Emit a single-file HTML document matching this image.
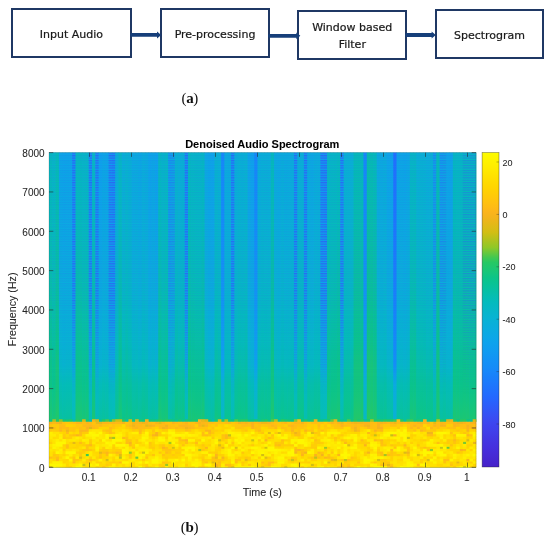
<!DOCTYPE html>
<html><head><meta charset="utf-8"><title>Figure</title>
<style>
html,body{margin:0;padding:0;background:#fff;}
body{width:550px;height:540px;position:relative;overflow:hidden;}
.bx{position:absolute;border:2px solid #1f3864;background:#fff;display:flex;align-items:center;justify-content:center;text-align:center;
font-family:"Liberation Sans",Arial,sans-serif;font-size:12px;line-height:16.4px;color:#222;}
.lab{position:absolute;font-family:"Liberation Serif","Times New Roman",serif;font-size:15px;color:#111;line-height:1;letter-spacing:-0.35px;}
.lab b{font-weight:bold;}
</style></head><body>
<div class="bx" style="left:11px;top:8px;width:117px;height:46px"></div><div class="bx" style="left:160px;top:8px;width:106px;height:46px"></div><div class="bx" style="left:297px;top:10px;width:106px;height:46px"></div><div class="bx" style="left:435px;top:9px;width:105px;height:46px"></div>
<svg width="550" height="70" style="position:absolute;left:0;top:0"><path d="M132.0 34.9H157.5" stroke="#163f7a" stroke-width="3.8" stroke-linecap="round"/><path d="M157.0 31.4L161.2 34.9L157.0 38.4z" fill="#163f7a"/><path d="M270.0 35.8H296.8" stroke="#163f7a" stroke-width="3.8" stroke-linecap="round"/><path d="M296.3 32.4L300.3 35.8L296.3 39.2z" fill="#163f7a"/><path d="M407.0 35.0H432.1" stroke="#163f7a" stroke-width="3.8" stroke-linecap="round"/><path d="M431.6 31.4L435.8 35.0L431.6 38.6z" fill="#163f7a"/><text x="71.40" y="38.20" font-family="DejaVu Sans, Liberation Sans, sans-serif" font-size="11" fill="#1a1a1a" stroke="#1a1a1a" stroke-width="0.22" text-anchor="middle">Input Audio</text><text x="215.00" y="38.00" font-family="DejaVu Sans, Liberation Sans, sans-serif" font-size="11" fill="#1a1a1a" stroke="#1a1a1a" stroke-width="0.22" text-anchor="middle">Pre-processing</text><text x="352.20" y="31.30" font-family="DejaVu Sans, Liberation Sans, sans-serif" font-size="11" fill="#1a1a1a" stroke="#1a1a1a" stroke-width="0.22" text-anchor="middle">Window based</text><text x="352.30" y="47.70" font-family="DejaVu Sans, Liberation Sans, sans-serif" font-size="11" fill="#1a1a1a" stroke="#1a1a1a" stroke-width="0.22" text-anchor="middle">Filter</text><text x="489.50" y="38.60" font-family="DejaVu Sans, Liberation Sans, sans-serif" font-size="11" fill="#1a1a1a" stroke="#1a1a1a" stroke-width="0.22" text-anchor="middle">Spectrogram</text></svg>
<div class="lab" style="left:181.5px;top:91px">(<b>a</b>)</div>
<svg width="550" height="540" viewBox="0 0 550 540" style="position:absolute;left:0;top:0"><defs><linearGradient id="g0" x2="0" y2="1"><stop offset="0.00" stop-color="#05babe"/><stop offset="0.22" stop-color="#04bcb8"/><stop offset="0.44" stop-color="#06bfac"/><stop offset="0.58" stop-color="#07c1a0"/><stop offset="0.70" stop-color="#09c295"/><stop offset="0.79" stop-color="#0dc488"/><stop offset="0.86" stop-color="#0fc585"/><stop offset="0.92" stop-color="#14c57e"/><stop offset="0.96" stop-color="#19c676"/><stop offset="0.99" stop-color="#1dc770"/><stop offset="1.00" stop-color="#1ec76e"/></linearGradient><linearGradient id="g1" x2="0" y2="1"><stop offset="0.00" stop-color="#06b8c5"/><stop offset="0.22" stop-color="#05babf"/><stop offset="0.44" stop-color="#05bdb5"/><stop offset="0.58" stop-color="#06bfaa"/><stop offset="0.70" stop-color="#07c19f"/><stop offset="0.79" stop-color="#09c392"/><stop offset="0.86" stop-color="#0ac48c"/><stop offset="0.92" stop-color="#0fc584"/><stop offset="0.96" stop-color="#15c57c"/><stop offset="0.99" stop-color="#19c676"/><stop offset="1.00" stop-color="#1ac674"/></linearGradient><linearGradient id="g2" x2="0" y2="1"><stop offset="0.00" stop-color="#04bdb7"/><stop offset="0.22" stop-color="#06beae"/><stop offset="0.44" stop-color="#07c0a2"/><stop offset="0.58" stop-color="#09c296"/><stop offset="0.70" stop-color="#0ac48c"/><stop offset="0.79" stop-color="#14c57d"/><stop offset="0.86" stop-color="#14c57e"/><stop offset="0.92" stop-color="#18c677"/><stop offset="0.96" stop-color="#1dc770"/><stop offset="0.99" stop-color="#21c76a"/><stop offset="1.00" stop-color="#23c768"/></linearGradient><linearGradient id="g3" x2="0" y2="1"><stop offset="0.00" stop-color="#0ca7e7"/><stop offset="0.22" stop-color="#0ba9e3"/><stop offset="0.44" stop-color="#0aacdd"/><stop offset="0.58" stop-color="#09b0d8"/><stop offset="0.70" stop-color="#08b3d3"/><stop offset="0.79" stop-color="#06b6ca"/><stop offset="0.86" stop-color="#05bdb6"/><stop offset="0.92" stop-color="#06beac"/><stop offset="0.96" stop-color="#07c0a5"/><stop offset="0.99" stop-color="#07c19f"/><stop offset="1.00" stop-color="#08c19d"/></linearGradient><linearGradient id="g4" x2="0" y2="1"><stop offset="0.00" stop-color="#0da5e9"/><stop offset="0.22" stop-color="#0ca7e5"/><stop offset="0.44" stop-color="#0babe0"/><stop offset="0.58" stop-color="#09aeda"/><stop offset="0.70" stop-color="#08b1d6"/><stop offset="0.79" stop-color="#07b4ce"/><stop offset="0.86" stop-color="#04bcb9"/><stop offset="0.92" stop-color="#05beaf"/><stop offset="0.96" stop-color="#06bfa8"/><stop offset="0.99" stop-color="#07c0a3"/><stop offset="1.00" stop-color="#07c0a1"/></linearGradient><linearGradient id="g5" x2="0" y2="1"><stop offset="0.00" stop-color="#0ca6e7"/><stop offset="0.22" stop-color="#0ca8e4"/><stop offset="0.44" stop-color="#0aacde"/><stop offset="0.58" stop-color="#09afd9"/><stop offset="0.70" stop-color="#08b2d4"/><stop offset="0.79" stop-color="#07b5cb"/><stop offset="0.86" stop-color="#04bdb7"/><stop offset="0.92" stop-color="#06bead"/><stop offset="0.96" stop-color="#07c0a6"/><stop offset="0.99" stop-color="#07c0a0"/><stop offset="1.00" stop-color="#08c19f"/></linearGradient><linearGradient id="g6" x2="0" y2="1"><stop offset="0.00" stop-color="#0da6e8"/><stop offset="0.22" stop-color="#0ca8e4"/><stop offset="0.44" stop-color="#0aacde"/><stop offset="0.58" stop-color="#09afd9"/><stop offset="0.70" stop-color="#08b2d4"/><stop offset="0.79" stop-color="#07b5cb"/><stop offset="0.86" stop-color="#04bdb7"/><stop offset="0.92" stop-color="#06bead"/><stop offset="0.96" stop-color="#07c0a6"/><stop offset="0.99" stop-color="#07c0a0"/><stop offset="1.00" stop-color="#08c19f"/></linearGradient><linearGradient id="g7" x2="0" y2="1"><stop offset="0.00" stop-color="#1198f3"/><stop offset="0.22" stop-color="#109cf1"/><stop offset="0.44" stop-color="#0ea1ee"/><stop offset="0.58" stop-color="#0da5e9"/><stop offset="0.70" stop-color="#0ca8e5"/><stop offset="0.79" stop-color="#0aabdf"/><stop offset="0.86" stop-color="#06b7c7"/><stop offset="0.92" stop-color="#05bac0"/><stop offset="0.96" stop-color="#04bcbb"/><stop offset="0.99" stop-color="#04bdb7"/><stop offset="1.00" stop-color="#05bdb5"/></linearGradient><linearGradient id="g8" x2="0" y2="1"><stop offset="0.00" stop-color="#05bac0"/><stop offset="0.22" stop-color="#04bcbb"/><stop offset="0.44" stop-color="#05beaf"/><stop offset="0.58" stop-color="#07c0a3"/><stop offset="0.70" stop-color="#08c298"/><stop offset="0.79" stop-color="#0ac48b"/><stop offset="0.86" stop-color="#0dc487"/><stop offset="0.92" stop-color="#12c580"/><stop offset="0.96" stop-color="#18c678"/><stop offset="0.99" stop-color="#1cc672"/><stop offset="1.00" stop-color="#1dc770"/></linearGradient><linearGradient id="g9" x2="0" y2="1"><stop offset="0.00" stop-color="#05b9c2"/><stop offset="0.22" stop-color="#04bbbc"/><stop offset="0.44" stop-color="#05beb1"/><stop offset="0.58" stop-color="#07c0a5"/><stop offset="0.70" stop-color="#08c29a"/><stop offset="0.79" stop-color="#0ac48d"/><stop offset="0.86" stop-color="#0dc488"/><stop offset="0.92" stop-color="#12c581"/><stop offset="0.96" stop-color="#17c679"/><stop offset="0.99" stop-color="#1bc673"/><stop offset="1.00" stop-color="#1cc671"/></linearGradient><linearGradient id="g10" x2="0" y2="1"><stop offset="0.00" stop-color="#06b8c5"/><stop offset="0.22" stop-color="#05bac0"/><stop offset="0.44" stop-color="#04bdb6"/><stop offset="0.58" stop-color="#06bfab"/><stop offset="0.70" stop-color="#07c1a0"/><stop offset="0.79" stop-color="#09c393"/><stop offset="0.86" stop-color="#0ac48c"/><stop offset="0.92" stop-color="#0fc585"/><stop offset="0.96" stop-color="#14c57d"/><stop offset="0.99" stop-color="#18c677"/><stop offset="1.00" stop-color="#1ac675"/></linearGradient><linearGradient id="g11" x2="0" y2="1"><stop offset="0.00" stop-color="#06b8c4"/><stop offset="0.22" stop-color="#05babe"/><stop offset="0.44" stop-color="#05bdb4"/><stop offset="0.58" stop-color="#06bfa9"/><stop offset="0.70" stop-color="#08c19e"/><stop offset="0.79" stop-color="#09c391"/><stop offset="0.86" stop-color="#0bc48b"/><stop offset="0.92" stop-color="#10c583"/><stop offset="0.96" stop-color="#15c67b"/><stop offset="0.99" stop-color="#19c676"/><stop offset="1.00" stop-color="#1bc674"/></linearGradient><linearGradient id="g12" x2="0" y2="1"><stop offset="0.00" stop-color="#109df1"/><stop offset="0.22" stop-color="#0ea0ef"/><stop offset="0.44" stop-color="#0da5ea"/><stop offset="0.58" stop-color="#0ca8e5"/><stop offset="0.70" stop-color="#0babe0"/><stop offset="0.79" stop-color="#09aeda"/><stop offset="0.86" stop-color="#05b9c3"/><stop offset="0.92" stop-color="#04bbbc"/><stop offset="0.96" stop-color="#05bdb6"/><stop offset="0.99" stop-color="#05beb0"/><stop offset="1.00" stop-color="#06beae"/></linearGradient><linearGradient id="g13" x2="0" y2="1"><stop offset="0.00" stop-color="#06b8c4"/><stop offset="0.22" stop-color="#05babe"/><stop offset="0.44" stop-color="#05bdb4"/><stop offset="0.58" stop-color="#06bfa9"/><stop offset="0.70" stop-color="#08c19e"/><stop offset="0.79" stop-color="#09c391"/><stop offset="0.86" stop-color="#0bc48b"/><stop offset="0.92" stop-color="#10c583"/><stop offset="0.96" stop-color="#15c57c"/><stop offset="0.99" stop-color="#19c676"/><stop offset="1.00" stop-color="#1ac674"/></linearGradient><linearGradient id="g14" x2="0" y2="1"><stop offset="0.00" stop-color="#109bf1"/><stop offset="0.22" stop-color="#0f9fef"/><stop offset="0.44" stop-color="#0da4eb"/><stop offset="0.58" stop-color="#0ca7e6"/><stop offset="0.70" stop-color="#0baae1"/><stop offset="0.79" stop-color="#0aaddc"/><stop offset="0.86" stop-color="#06b8c4"/><stop offset="0.92" stop-color="#04bbbd"/><stop offset="0.96" stop-color="#04bcb8"/><stop offset="0.99" stop-color="#05bdb2"/><stop offset="1.00" stop-color="#05beb1"/></linearGradient><linearGradient id="g15" x2="0" y2="1"><stop offset="0.00" stop-color="#0da4eb"/><stop offset="0.22" stop-color="#0ca7e7"/><stop offset="0.44" stop-color="#0baae1"/><stop offset="0.58" stop-color="#0aaddc"/><stop offset="0.70" stop-color="#09b0d7"/><stop offset="0.79" stop-color="#07b4d0"/><stop offset="0.86" stop-color="#04bcbb"/><stop offset="0.92" stop-color="#05beb1"/><stop offset="0.96" stop-color="#06bfaa"/><stop offset="0.99" stop-color="#07c0a4"/><stop offset="1.00" stop-color="#07c0a3"/></linearGradient><linearGradient id="g16" x2="0" y2="1"><stop offset="0.00" stop-color="#0ca7e6"/><stop offset="0.22" stop-color="#0ba9e2"/><stop offset="0.44" stop-color="#0aaddd"/><stop offset="0.58" stop-color="#09b0d8"/><stop offset="0.70" stop-color="#08b3d2"/><stop offset="0.79" stop-color="#06b6ca"/><stop offset="0.86" stop-color="#05bdb5"/><stop offset="0.92" stop-color="#06bfab"/><stop offset="0.96" stop-color="#07c0a4"/><stop offset="0.99" stop-color="#08c19f"/><stop offset="1.00" stop-color="#08c19d"/></linearGradient><linearGradient id="g17" x2="0" y2="1"><stop offset="0.00" stop-color="#0ca6e7"/><stop offset="0.22" stop-color="#0ca9e3"/><stop offset="0.44" stop-color="#0aacde"/><stop offset="0.58" stop-color="#09afd9"/><stop offset="0.70" stop-color="#08b2d4"/><stop offset="0.79" stop-color="#07b5cb"/><stop offset="0.86" stop-color="#04bdb6"/><stop offset="0.92" stop-color="#06bead"/><stop offset="0.96" stop-color="#07c0a5"/><stop offset="0.99" stop-color="#07c1a0"/><stop offset="1.00" stop-color="#08c19e"/></linearGradient><linearGradient id="g18" x2="0" y2="1"><stop offset="0.00" stop-color="#109cf1"/><stop offset="0.22" stop-color="#0fa0ef"/><stop offset="0.44" stop-color="#0da4ea"/><stop offset="0.58" stop-color="#0ca7e5"/><stop offset="0.70" stop-color="#0baae0"/><stop offset="0.79" stop-color="#09aeda"/><stop offset="0.86" stop-color="#05b8c3"/><stop offset="0.92" stop-color="#04bbbc"/><stop offset="0.96" stop-color="#04bdb6"/><stop offset="0.99" stop-color="#05beb1"/><stop offset="1.00" stop-color="#05beaf"/></linearGradient><linearGradient id="g19" x2="0" y2="1"><stop offset="0.00" stop-color="#1198f2"/><stop offset="0.22" stop-color="#109cf1"/><stop offset="0.44" stop-color="#0ea2ee"/><stop offset="0.58" stop-color="#0da5e9"/><stop offset="0.70" stop-color="#0ca8e4"/><stop offset="0.79" stop-color="#0aacde"/><stop offset="0.86" stop-color="#06b7c7"/><stop offset="0.92" stop-color="#05babf"/><stop offset="0.96" stop-color="#04bcbb"/><stop offset="0.99" stop-color="#05bdb6"/><stop offset="1.00" stop-color="#05bdb4"/></linearGradient><linearGradient id="g20" x2="0" y2="1"><stop offset="0.00" stop-color="#09afda"/><stop offset="0.22" stop-color="#08b1d6"/><stop offset="0.44" stop-color="#07b4ce"/><stop offset="0.58" stop-color="#06b7c7"/><stop offset="0.70" stop-color="#05bac0"/><stop offset="0.79" stop-color="#04bdb6"/><stop offset="0.86" stop-color="#07c0a3"/><stop offset="0.92" stop-color="#08c19b"/><stop offset="0.96" stop-color="#09c393"/><stop offset="0.99" stop-color="#0ac48e"/><stop offset="1.00" stop-color="#0ac48c"/></linearGradient><linearGradient id="g21" x2="0" y2="1"><stop offset="0.00" stop-color="#05b9c3"/><stop offset="0.22" stop-color="#05bbbd"/><stop offset="0.44" stop-color="#05bdb3"/><stop offset="0.58" stop-color="#06bfa7"/><stop offset="0.70" stop-color="#08c19c"/><stop offset="0.79" stop-color="#0ac38f"/><stop offset="0.86" stop-color="#0cc48a"/><stop offset="0.92" stop-color="#11c582"/><stop offset="0.96" stop-color="#16c67a"/><stop offset="0.99" stop-color="#1ac675"/><stop offset="1.00" stop-color="#1bc673"/></linearGradient><linearGradient id="g22" x2="0" y2="1"><stop offset="0.00" stop-color="#08b1d6"/><stop offset="0.22" stop-color="#08b3d1"/><stop offset="0.44" stop-color="#06b6c9"/><stop offset="0.58" stop-color="#05b9c2"/><stop offset="0.70" stop-color="#04bcbb"/><stop offset="0.79" stop-color="#05beaf"/><stop offset="0.86" stop-color="#08c19e"/><stop offset="0.92" stop-color="#09c296"/><stop offset="0.96" stop-color="#0ac48f"/><stop offset="0.99" stop-color="#0cc489"/><stop offset="1.00" stop-color="#0dc487"/></linearGradient><linearGradient id="g23" x2="0" y2="1"><stop offset="0.00" stop-color="#07b4d0"/><stop offset="0.22" stop-color="#07b6ca"/><stop offset="0.44" stop-color="#05b9c2"/><stop offset="0.58" stop-color="#04bcbb"/><stop offset="0.70" stop-color="#05beb0"/><stop offset="0.79" stop-color="#07c0a3"/><stop offset="0.86" stop-color="#09c297"/><stop offset="0.92" stop-color="#0ac38f"/><stop offset="0.96" stop-color="#0dc488"/><stop offset="0.99" stop-color="#11c582"/><stop offset="1.00" stop-color="#12c580"/></linearGradient><linearGradient id="g24" x2="0" y2="1"><stop offset="0.00" stop-color="#08b1d5"/><stop offset="0.22" stop-color="#07b3d0"/><stop offset="0.44" stop-color="#06b6c8"/><stop offset="0.58" stop-color="#05b9c1"/><stop offset="0.70" stop-color="#04bcba"/><stop offset="0.79" stop-color="#06bead"/><stop offset="0.86" stop-color="#08c19d"/><stop offset="0.92" stop-color="#09c295"/><stop offset="0.96" stop-color="#0ac48e"/><stop offset="0.99" stop-color="#0dc488"/><stop offset="1.00" stop-color="#0ec586"/></linearGradient><linearGradient id="g25" x2="0" y2="1"><stop offset="0.00" stop-color="#0babe0"/><stop offset="0.22" stop-color="#0aaddc"/><stop offset="0.44" stop-color="#09b0d7"/><stop offset="0.58" stop-color="#07b3d0"/><stop offset="0.70" stop-color="#06b6c9"/><stop offset="0.79" stop-color="#05b9c1"/><stop offset="0.86" stop-color="#06beac"/><stop offset="0.92" stop-color="#07c0a3"/><stop offset="0.96" stop-color="#08c19c"/><stop offset="0.99" stop-color="#09c297"/><stop offset="1.00" stop-color="#09c295"/></linearGradient><linearGradient id="g26" x2="0" y2="1"><stop offset="0.00" stop-color="#0aacde"/><stop offset="0.22" stop-color="#09aeda"/><stop offset="0.44" stop-color="#08b2d4"/><stop offset="0.58" stop-color="#07b5cd"/><stop offset="0.70" stop-color="#06b7c6"/><stop offset="0.79" stop-color="#05bbbe"/><stop offset="0.86" stop-color="#06bfa9"/><stop offset="0.92" stop-color="#07c0a0"/><stop offset="0.96" stop-color="#08c299"/><stop offset="0.99" stop-color="#09c394"/><stop offset="1.00" stop-color="#09c392"/></linearGradient><linearGradient id="g27" x2="0" y2="1"><stop offset="0.00" stop-color="#0ba9e2"/><stop offset="0.22" stop-color="#0aacde"/><stop offset="0.44" stop-color="#09afd8"/><stop offset="0.58" stop-color="#08b2d3"/><stop offset="0.70" stop-color="#07b5cc"/><stop offset="0.79" stop-color="#05b8c3"/><stop offset="0.86" stop-color="#05beaf"/><stop offset="0.92" stop-color="#07c0a5"/><stop offset="0.96" stop-color="#08c19e"/><stop offset="0.99" stop-color="#08c299"/><stop offset="1.00" stop-color="#09c297"/></linearGradient><linearGradient id="g28" x2="0" y2="1"><stop offset="0.00" stop-color="#0aaedb"/><stop offset="0.22" stop-color="#09b0d7"/><stop offset="0.44" stop-color="#07b3d0"/><stop offset="0.58" stop-color="#06b6c9"/><stop offset="0.70" stop-color="#05b9c2"/><stop offset="0.79" stop-color="#04bcb9"/><stop offset="0.86" stop-color="#07c0a5"/><stop offset="0.92" stop-color="#08c19c"/><stop offset="0.96" stop-color="#09c295"/><stop offset="0.99" stop-color="#0ac390"/><stop offset="1.00" stop-color="#0ac48e"/></linearGradient><linearGradient id="g29" x2="0" y2="1"><stop offset="0.00" stop-color="#0aacde"/><stop offset="0.22" stop-color="#09aeda"/><stop offset="0.44" stop-color="#08b2d4"/><stop offset="0.58" stop-color="#07b5cd"/><stop offset="0.70" stop-color="#06b7c6"/><stop offset="0.79" stop-color="#05bbbe"/><stop offset="0.86" stop-color="#06bfa9"/><stop offset="0.92" stop-color="#07c0a0"/><stop offset="0.96" stop-color="#08c299"/><stop offset="0.99" stop-color="#09c394"/><stop offset="1.00" stop-color="#09c392"/></linearGradient><linearGradient id="g30" x2="0" y2="1"><stop offset="0.00" stop-color="#0da5e9"/><stop offset="0.22" stop-color="#0ca7e5"/><stop offset="0.44" stop-color="#0babe0"/><stop offset="0.58" stop-color="#09aeda"/><stop offset="0.70" stop-color="#08b1d5"/><stop offset="0.79" stop-color="#07b4ce"/><stop offset="0.86" stop-color="#04bcb9"/><stop offset="0.92" stop-color="#05beaf"/><stop offset="0.96" stop-color="#06bfa8"/><stop offset="0.99" stop-color="#07c0a2"/><stop offset="1.00" stop-color="#07c0a1"/></linearGradient><linearGradient id="g31" x2="0" y2="1"><stop offset="0.00" stop-color="#0ca7e5"/><stop offset="0.22" stop-color="#0baae1"/><stop offset="0.44" stop-color="#0aaddc"/><stop offset="0.58" stop-color="#09b0d7"/><stop offset="0.70" stop-color="#07b3d1"/><stop offset="0.79" stop-color="#06b7c8"/><stop offset="0.86" stop-color="#05bdb4"/><stop offset="0.92" stop-color="#06bfaa"/><stop offset="0.96" stop-color="#07c0a3"/><stop offset="0.99" stop-color="#08c19d"/><stop offset="1.00" stop-color="#08c19c"/></linearGradient><linearGradient id="g32" x2="0" y2="1"><stop offset="0.00" stop-color="#0da4eb"/><stop offset="0.22" stop-color="#0ca6e7"/><stop offset="0.44" stop-color="#0baae1"/><stop offset="0.58" stop-color="#0aaddc"/><stop offset="0.70" stop-color="#09b0d7"/><stop offset="0.79" stop-color="#07b3d0"/><stop offset="0.86" stop-color="#04bcbb"/><stop offset="0.92" stop-color="#05bdb1"/><stop offset="0.96" stop-color="#06bfaa"/><stop offset="0.99" stop-color="#07c0a5"/><stop offset="1.00" stop-color="#07c0a3"/></linearGradient><linearGradient id="g33" x2="0" y2="1"><stop offset="0.00" stop-color="#05b9c2"/><stop offset="0.22" stop-color="#04bbbc"/><stop offset="0.44" stop-color="#05beb1"/><stop offset="0.58" stop-color="#07c0a5"/><stop offset="0.70" stop-color="#08c19b"/><stop offset="0.79" stop-color="#0ac48e"/><stop offset="0.86" stop-color="#0cc488"/><stop offset="0.92" stop-color="#11c581"/><stop offset="0.96" stop-color="#17c679"/><stop offset="0.99" stop-color="#1bc673"/><stop offset="1.00" stop-color="#1cc671"/></linearGradient><linearGradient id="g34" x2="0" y2="1"><stop offset="0.00" stop-color="#06b6c9"/><stop offset="0.22" stop-color="#06b8c4"/><stop offset="0.44" stop-color="#04bbbc"/><stop offset="0.58" stop-color="#05beb1"/><stop offset="0.70" stop-color="#07bfa7"/><stop offset="0.79" stop-color="#08c29a"/><stop offset="0.86" stop-color="#09c390"/><stop offset="0.92" stop-color="#0cc489"/><stop offset="0.96" stop-color="#11c581"/><stop offset="0.99" stop-color="#15c67b"/><stop offset="1.00" stop-color="#17c679"/></linearGradient><linearGradient id="g35" x2="0" y2="1"><stop offset="0.00" stop-color="#06b8c5"/><stop offset="0.22" stop-color="#05bac0"/><stop offset="0.44" stop-color="#04bdb6"/><stop offset="0.58" stop-color="#06bfab"/><stop offset="0.70" stop-color="#07c1a0"/><stop offset="0.79" stop-color="#09c393"/><stop offset="0.86" stop-color="#0ac48c"/><stop offset="0.92" stop-color="#0fc585"/><stop offset="0.96" stop-color="#14c57d"/><stop offset="0.99" stop-color="#18c677"/><stop offset="1.00" stop-color="#1ac675"/></linearGradient><linearGradient id="g36" x2="0" y2="1"><stop offset="0.00" stop-color="#0da4ea"/><stop offset="0.22" stop-color="#0ca7e6"/><stop offset="0.44" stop-color="#0baae0"/><stop offset="0.58" stop-color="#0aaedb"/><stop offset="0.70" stop-color="#09b1d6"/><stop offset="0.79" stop-color="#07b4cf"/><stop offset="0.86" stop-color="#04bcba"/><stop offset="0.92" stop-color="#05beb0"/><stop offset="0.96" stop-color="#06bfa9"/><stop offset="0.99" stop-color="#07c0a4"/><stop offset="1.00" stop-color="#07c0a2"/></linearGradient><linearGradient id="g37" x2="0" y2="1"><stop offset="0.00" stop-color="#0ca8e4"/><stop offset="0.22" stop-color="#0baae1"/><stop offset="0.44" stop-color="#0aaedb"/><stop offset="0.58" stop-color="#08b1d6"/><stop offset="0.70" stop-color="#07b4d0"/><stop offset="0.79" stop-color="#06b7c7"/><stop offset="0.86" stop-color="#05bdb2"/><stop offset="0.92" stop-color="#06bfa9"/><stop offset="0.96" stop-color="#07c0a2"/><stop offset="0.99" stop-color="#08c19c"/><stop offset="1.00" stop-color="#08c19b"/></linearGradient><linearGradient id="g38" x2="0" y2="1"><stop offset="0.00" stop-color="#07b3d1"/><stop offset="0.22" stop-color="#07b5cb"/><stop offset="0.44" stop-color="#05b9c3"/><stop offset="0.58" stop-color="#04bbbc"/><stop offset="0.70" stop-color="#05bdb2"/><stop offset="0.79" stop-color="#07c0a5"/><stop offset="0.86" stop-color="#08c298"/><stop offset="0.92" stop-color="#09c390"/><stop offset="0.96" stop-color="#0cc488"/><stop offset="0.99" stop-color="#10c583"/><stop offset="1.00" stop-color="#12c581"/></linearGradient><linearGradient id="g39" x2="0" y2="1"><stop offset="0.00" stop-color="#08b1d6"/><stop offset="0.22" stop-color="#08b3d1"/><stop offset="0.44" stop-color="#06b6c9"/><stop offset="0.58" stop-color="#05b9c2"/><stop offset="0.70" stop-color="#04bcbb"/><stop offset="0.79" stop-color="#06beae"/><stop offset="0.86" stop-color="#08c19e"/><stop offset="0.92" stop-color="#09c296"/><stop offset="0.96" stop-color="#0ac48f"/><stop offset="0.99" stop-color="#0cc489"/><stop offset="1.00" stop-color="#0dc487"/></linearGradient><linearGradient id="g40" x2="0" y2="1"><stop offset="0.00" stop-color="#08b2d3"/><stop offset="0.22" stop-color="#07b4ce"/><stop offset="0.44" stop-color="#06b7c6"/><stop offset="0.58" stop-color="#05babe"/><stop offset="0.70" stop-color="#05bdb6"/><stop offset="0.79" stop-color="#06bfa9"/><stop offset="0.86" stop-color="#08c29a"/><stop offset="0.92" stop-color="#09c392"/><stop offset="0.96" stop-color="#0bc48b"/><stop offset="0.99" stop-color="#0ec585"/><stop offset="1.00" stop-color="#10c583"/></linearGradient><linearGradient id="g41" x2="0" y2="1"><stop offset="0.00" stop-color="#109bf1"/><stop offset="0.22" stop-color="#0f9fef"/><stop offset="0.44" stop-color="#0da4eb"/><stop offset="0.58" stop-color="#0ca7e6"/><stop offset="0.70" stop-color="#0baae1"/><stop offset="0.79" stop-color="#0aaddb"/><stop offset="0.86" stop-color="#06b8c4"/><stop offset="0.92" stop-color="#04bbbd"/><stop offset="0.96" stop-color="#04bcb8"/><stop offset="0.99" stop-color="#05bdb2"/><stop offset="1.00" stop-color="#05beb0"/></linearGradient><linearGradient id="g42" x2="0" y2="1"><stop offset="0.00" stop-color="#05b9c2"/><stop offset="0.22" stop-color="#04bbbc"/><stop offset="0.44" stop-color="#05beb1"/><stop offset="0.58" stop-color="#07c0a5"/><stop offset="0.70" stop-color="#08c19a"/><stop offset="0.79" stop-color="#0ac48d"/><stop offset="0.86" stop-color="#0cc488"/><stop offset="0.92" stop-color="#12c581"/><stop offset="0.96" stop-color="#17c679"/><stop offset="0.99" stop-color="#1bc673"/><stop offset="1.00" stop-color="#1cc671"/></linearGradient><linearGradient id="g43" x2="0" y2="1"><stop offset="0.00" stop-color="#06b8c6"/><stop offset="0.22" stop-color="#05bac0"/><stop offset="0.44" stop-color="#04bdb7"/><stop offset="0.58" stop-color="#06bfab"/><stop offset="0.70" stop-color="#07c0a1"/><stop offset="0.79" stop-color="#09c393"/><stop offset="0.86" stop-color="#0ac48d"/><stop offset="0.92" stop-color="#0fc585"/><stop offset="0.96" stop-color="#14c57d"/><stop offset="0.99" stop-color="#18c677"/><stop offset="1.00" stop-color="#19c675"/></linearGradient><linearGradient id="g44" x2="0" y2="1"><stop offset="0.00" stop-color="#06b6c8"/><stop offset="0.22" stop-color="#05b9c3"/><stop offset="0.44" stop-color="#04bcbb"/><stop offset="0.58" stop-color="#05beb0"/><stop offset="0.70" stop-color="#07c0a5"/><stop offset="0.79" stop-color="#08c298"/><stop offset="0.86" stop-color="#0ac38f"/><stop offset="0.92" stop-color="#0dc488"/><stop offset="0.96" stop-color="#12c580"/><stop offset="0.99" stop-color="#16c67a"/><stop offset="1.00" stop-color="#17c678"/></linearGradient><linearGradient id="g45" x2="0" y2="1"><stop offset="0.00" stop-color="#06b6c9"/><stop offset="0.22" stop-color="#05b9c3"/><stop offset="0.44" stop-color="#04bcbb"/><stop offset="0.58" stop-color="#05beb0"/><stop offset="0.70" stop-color="#07c0a5"/><stop offset="0.79" stop-color="#08c298"/><stop offset="0.86" stop-color="#0ac390"/><stop offset="0.92" stop-color="#0dc488"/><stop offset="0.96" stop-color="#12c580"/><stop offset="0.99" stop-color="#16c67b"/><stop offset="1.00" stop-color="#17c678"/></linearGradient><linearGradient id="g46" x2="0" y2="1"><stop offset="0.00" stop-color="#05b9c2"/><stop offset="0.22" stop-color="#04bbbd"/><stop offset="0.44" stop-color="#05bdb2"/><stop offset="0.58" stop-color="#07bfa6"/><stop offset="0.70" stop-color="#08c19b"/><stop offset="0.79" stop-color="#0ac48e"/><stop offset="0.86" stop-color="#0cc489"/><stop offset="0.92" stop-color="#11c582"/><stop offset="0.96" stop-color="#16c67a"/><stop offset="0.99" stop-color="#1ac674"/><stop offset="1.00" stop-color="#1cc672"/></linearGradient><linearGradient id="g47" x2="0" y2="1"><stop offset="0.00" stop-color="#0ba9e3"/><stop offset="0.22" stop-color="#0babdf"/><stop offset="0.44" stop-color="#09afd9"/><stop offset="0.58" stop-color="#08b2d4"/><stop offset="0.70" stop-color="#07b5cd"/><stop offset="0.79" stop-color="#06b8c5"/><stop offset="0.86" stop-color="#05beb0"/><stop offset="0.92" stop-color="#07bfa7"/><stop offset="0.96" stop-color="#07c1a0"/><stop offset="0.99" stop-color="#08c29a"/><stop offset="1.00" stop-color="#08c298"/></linearGradient><linearGradient id="g48" x2="0" y2="1"><stop offset="0.00" stop-color="#0ca6e7"/><stop offset="0.22" stop-color="#0ba9e3"/><stop offset="0.44" stop-color="#0aacdd"/><stop offset="0.58" stop-color="#09afd8"/><stop offset="0.70" stop-color="#08b2d3"/><stop offset="0.79" stop-color="#07b6cb"/><stop offset="0.86" stop-color="#05bdb6"/><stop offset="0.92" stop-color="#06beac"/><stop offset="0.96" stop-color="#07c0a5"/><stop offset="0.99" stop-color="#07c1a0"/><stop offset="1.00" stop-color="#08c19e"/></linearGradient><linearGradient id="g49" x2="0" y2="1"><stop offset="0.00" stop-color="#0da5e9"/><stop offset="0.22" stop-color="#0ca8e5"/><stop offset="0.44" stop-color="#0babdf"/><stop offset="0.58" stop-color="#09aeda"/><stop offset="0.70" stop-color="#08b1d5"/><stop offset="0.79" stop-color="#07b5cd"/><stop offset="0.86" stop-color="#04bcb8"/><stop offset="0.92" stop-color="#06beae"/><stop offset="0.96" stop-color="#06bfa7"/><stop offset="0.99" stop-color="#07c0a2"/><stop offset="1.00" stop-color="#07c1a0"/></linearGradient><linearGradient id="g50" x2="0" y2="1"><stop offset="0.00" stop-color="#07b3d0"/><stop offset="0.22" stop-color="#07b6cb"/><stop offset="0.44" stop-color="#05b9c3"/><stop offset="0.58" stop-color="#04bcbb"/><stop offset="0.70" stop-color="#05beb1"/><stop offset="0.79" stop-color="#07c0a4"/><stop offset="0.86" stop-color="#09c297"/><stop offset="0.92" stop-color="#0ac38f"/><stop offset="0.96" stop-color="#0dc488"/><stop offset="0.99" stop-color="#11c582"/><stop offset="1.00" stop-color="#12c580"/></linearGradient><linearGradient id="g51" x2="0" y2="1"><stop offset="0.00" stop-color="#08b2d5"/><stop offset="0.22" stop-color="#07b4d0"/><stop offset="0.44" stop-color="#06b7c8"/><stop offset="0.58" stop-color="#05bac0"/><stop offset="0.70" stop-color="#04bcb9"/><stop offset="0.79" stop-color="#06beac"/><stop offset="0.86" stop-color="#08c19c"/><stop offset="0.92" stop-color="#09c394"/><stop offset="0.96" stop-color="#0ac48d"/><stop offset="0.99" stop-color="#0dc487"/><stop offset="1.00" stop-color="#0fc585"/></linearGradient><linearGradient id="g52" x2="0" y2="1"><stop offset="0.00" stop-color="#168af9"/><stop offset="0.22" stop-color="#148df8"/><stop offset="0.44" stop-color="#1393f5"/><stop offset="0.58" stop-color="#1198f3"/><stop offset="0.70" stop-color="#109df0"/><stop offset="0.79" stop-color="#0ea3ed"/><stop offset="0.86" stop-color="#08b2d4"/><stop offset="0.92" stop-color="#07b5cc"/><stop offset="0.96" stop-color="#06b7c8"/><stop offset="0.99" stop-color="#06b8c4"/><stop offset="1.00" stop-color="#05b9c3"/></linearGradient><linearGradient id="g53" x2="0" y2="1"><stop offset="0.00" stop-color="#0aaddd"/><stop offset="0.22" stop-color="#09afd9"/><stop offset="0.44" stop-color="#08b3d3"/><stop offset="0.58" stop-color="#07b5cb"/><stop offset="0.70" stop-color="#06b8c4"/><stop offset="0.79" stop-color="#04bbbc"/><stop offset="0.86" stop-color="#06bfa7"/><stop offset="0.92" stop-color="#08c19e"/><stop offset="0.96" stop-color="#09c297"/><stop offset="0.99" stop-color="#09c392"/><stop offset="1.00" stop-color="#09c390"/></linearGradient><linearGradient id="g54" x2="0" y2="1"><stop offset="0.00" stop-color="#0aacdd"/><stop offset="0.22" stop-color="#09afd9"/><stop offset="0.44" stop-color="#08b2d4"/><stop offset="0.58" stop-color="#07b5cc"/><stop offset="0.70" stop-color="#06b8c5"/><stop offset="0.79" stop-color="#04bbbd"/><stop offset="0.86" stop-color="#06bfa8"/><stop offset="0.92" stop-color="#07c19f"/><stop offset="0.96" stop-color="#08c298"/><stop offset="0.99" stop-color="#09c393"/><stop offset="1.00" stop-color="#09c391"/></linearGradient><linearGradient id="g55" x2="0" y2="1"><stop offset="0.00" stop-color="#109bf1"/><stop offset="0.22" stop-color="#0f9fef"/><stop offset="0.44" stop-color="#0da3ec"/><stop offset="0.58" stop-color="#0ca7e6"/><stop offset="0.70" stop-color="#0baae2"/><stop offset="0.79" stop-color="#0aaddc"/><stop offset="0.86" stop-color="#06b8c4"/><stop offset="0.92" stop-color="#04bbbd"/><stop offset="0.96" stop-color="#04bcb8"/><stop offset="0.99" stop-color="#05bdb3"/><stop offset="1.00" stop-color="#05beb1"/></linearGradient><linearGradient id="g56" x2="0" y2="1"><stop offset="0.00" stop-color="#09afd8"/><stop offset="0.22" stop-color="#08b2d4"/><stop offset="0.44" stop-color="#07b5cd"/><stop offset="0.58" stop-color="#06b8c5"/><stop offset="0.70" stop-color="#05babe"/><stop offset="0.79" stop-color="#05bdb3"/><stop offset="0.86" stop-color="#07c0a1"/><stop offset="0.92" stop-color="#08c299"/><stop offset="0.96" stop-color="#09c392"/><stop offset="0.99" stop-color="#0ac48c"/><stop offset="1.00" stop-color="#0bc48a"/></linearGradient><linearGradient id="g57" x2="0" y2="1"><stop offset="0.00" stop-color="#08b2d4"/><stop offset="0.22" stop-color="#07b4cf"/><stop offset="0.44" stop-color="#06b7c7"/><stop offset="0.58" stop-color="#05babf"/><stop offset="0.70" stop-color="#04bcb8"/><stop offset="0.79" stop-color="#06bfaa"/><stop offset="0.86" stop-color="#08c19b"/><stop offset="0.92" stop-color="#09c393"/><stop offset="0.96" stop-color="#0ac48c"/><stop offset="0.99" stop-color="#0ec586"/><stop offset="1.00" stop-color="#0fc584"/></linearGradient><linearGradient id="g58" x2="0" y2="1"><stop offset="0.00" stop-color="#08b1d5"/><stop offset="0.22" stop-color="#07b3d1"/><stop offset="0.44" stop-color="#06b6c9"/><stop offset="0.58" stop-color="#05b9c1"/><stop offset="0.70" stop-color="#04bcba"/><stop offset="0.79" stop-color="#06bead"/><stop offset="0.86" stop-color="#08c19d"/><stop offset="0.92" stop-color="#09c295"/><stop offset="0.96" stop-color="#0ac48e"/><stop offset="0.99" stop-color="#0dc488"/><stop offset="1.00" stop-color="#0ec586"/></linearGradient><linearGradient id="g59" x2="0" y2="1"><stop offset="0.00" stop-color="#08b3d2"/><stop offset="0.22" stop-color="#07b5cd"/><stop offset="0.44" stop-color="#06b8c5"/><stop offset="0.58" stop-color="#05bbbd"/><stop offset="0.70" stop-color="#05bdb4"/><stop offset="0.79" stop-color="#06bfa7"/><stop offset="0.86" stop-color="#08c299"/><stop offset="0.92" stop-color="#09c391"/><stop offset="0.96" stop-color="#0bc48a"/><stop offset="0.99" stop-color="#0fc584"/><stop offset="1.00" stop-color="#11c582"/></linearGradient><linearGradient id="g60" x2="0" y2="1"><stop offset="0.00" stop-color="#0da6e8"/><stop offset="0.22" stop-color="#0ca8e4"/><stop offset="0.44" stop-color="#0aabdf"/><stop offset="0.58" stop-color="#09afda"/><stop offset="0.70" stop-color="#08b2d5"/><stop offset="0.79" stop-color="#07b5cd"/><stop offset="0.86" stop-color="#04bcb8"/><stop offset="0.92" stop-color="#06beae"/><stop offset="0.96" stop-color="#07bfa7"/><stop offset="0.99" stop-color="#07c0a1"/><stop offset="1.00" stop-color="#07c1a0"/></linearGradient><linearGradient id="g61" x2="0" y2="1"><stop offset="0.00" stop-color="#0da4eb"/><stop offset="0.22" stop-color="#0da6e8"/><stop offset="0.44" stop-color="#0ba9e2"/><stop offset="0.58" stop-color="#0aaddd"/><stop offset="0.70" stop-color="#09b0d8"/><stop offset="0.79" stop-color="#08b3d1"/><stop offset="0.86" stop-color="#04bbbc"/><stop offset="0.92" stop-color="#05bdb2"/><stop offset="0.96" stop-color="#06bfab"/><stop offset="0.99" stop-color="#07c0a6"/><stop offset="1.00" stop-color="#07c0a4"/></linearGradient><linearGradient id="g62" x2="0" y2="1"><stop offset="0.00" stop-color="#1689f9"/><stop offset="0.22" stop-color="#148df8"/><stop offset="0.44" stop-color="#1393f5"/><stop offset="0.58" stop-color="#1198f3"/><stop offset="0.70" stop-color="#109df0"/><stop offset="0.79" stop-color="#0ea2ed"/><stop offset="0.86" stop-color="#08b2d5"/><stop offset="0.92" stop-color="#07b5cc"/><stop offset="0.96" stop-color="#06b7c8"/><stop offset="0.99" stop-color="#06b8c4"/><stop offset="1.00" stop-color="#05b8c3"/></linearGradient><linearGradient id="g63" x2="0" y2="1"><stop offset="0.00" stop-color="#09afda"/><stop offset="0.22" stop-color="#08b1d6"/><stop offset="0.44" stop-color="#07b4ce"/><stop offset="0.58" stop-color="#06b7c7"/><stop offset="0.70" stop-color="#05bac0"/><stop offset="0.79" stop-color="#04bdb6"/><stop offset="0.86" stop-color="#07c0a3"/><stop offset="0.92" stop-color="#08c19a"/><stop offset="0.96" stop-color="#09c393"/><stop offset="0.99" stop-color="#0ac48e"/><stop offset="1.00" stop-color="#0ac48c"/></linearGradient><linearGradient id="g64" x2="0" y2="1"><stop offset="0.00" stop-color="#08b1d6"/><stop offset="0.22" stop-color="#08b3d1"/><stop offset="0.44" stop-color="#06b6c9"/><stop offset="0.58" stop-color="#05b9c2"/><stop offset="0.70" stop-color="#04bcbb"/><stop offset="0.79" stop-color="#05beaf"/><stop offset="0.86" stop-color="#08c19e"/><stop offset="0.92" stop-color="#09c296"/><stop offset="0.96" stop-color="#0ac48f"/><stop offset="0.99" stop-color="#0cc489"/><stop offset="1.00" stop-color="#0dc487"/></linearGradient><linearGradient id="g65" x2="0" y2="1"><stop offset="0.00" stop-color="#09b0d7"/><stop offset="0.22" stop-color="#08b2d3"/><stop offset="0.44" stop-color="#07b6cb"/><stop offset="0.58" stop-color="#05b8c3"/><stop offset="0.70" stop-color="#04bbbd"/><stop offset="0.79" stop-color="#05beb1"/><stop offset="0.86" stop-color="#07c19f"/><stop offset="0.92" stop-color="#09c297"/><stop offset="0.96" stop-color="#09c390"/><stop offset="0.99" stop-color="#0bc48b"/><stop offset="1.00" stop-color="#0cc489"/></linearGradient><linearGradient id="g66" x2="0" y2="1"><stop offset="0.00" stop-color="#09b0d8"/><stop offset="0.22" stop-color="#08b2d4"/><stop offset="0.44" stop-color="#07b5cc"/><stop offset="0.58" stop-color="#06b8c4"/><stop offset="0.70" stop-color="#05bbbd"/><stop offset="0.79" stop-color="#05bdb2"/><stop offset="0.86" stop-color="#07c0a0"/><stop offset="0.92" stop-color="#08c298"/><stop offset="0.96" stop-color="#09c391"/><stop offset="0.99" stop-color="#0ac48c"/><stop offset="1.00" stop-color="#0cc48a"/></linearGradient><linearGradient id="g67" x2="0" y2="1"><stop offset="0.00" stop-color="#04bcbb"/><stop offset="0.22" stop-color="#05bdb3"/><stop offset="0.44" stop-color="#06bfa7"/><stop offset="0.58" stop-color="#08c19b"/><stop offset="0.70" stop-color="#09c391"/><stop offset="0.79" stop-color="#10c583"/><stop offset="0.86" stop-color="#11c581"/><stop offset="0.92" stop-color="#16c67b"/><stop offset="0.96" stop-color="#1bc673"/><stop offset="0.99" stop-color="#1fc76d"/><stop offset="1.00" stop-color="#21c76b"/></linearGradient><linearGradient id="g68" x2="0" y2="1"><stop offset="0.00" stop-color="#0aacde"/><stop offset="0.22" stop-color="#09aeda"/><stop offset="0.44" stop-color="#08b2d4"/><stop offset="0.58" stop-color="#07b5cd"/><stop offset="0.70" stop-color="#06b7c6"/><stop offset="0.79" stop-color="#05bbbd"/><stop offset="0.86" stop-color="#06bfa9"/><stop offset="0.92" stop-color="#07c1a0"/><stop offset="0.96" stop-color="#08c299"/><stop offset="0.99" stop-color="#09c393"/><stop offset="1.00" stop-color="#09c392"/></linearGradient><linearGradient id="g69" x2="0" y2="1"><stop offset="0.00" stop-color="#0babe0"/><stop offset="0.22" stop-color="#0aaddc"/><stop offset="0.44" stop-color="#08b1d6"/><stop offset="0.58" stop-color="#07b4cf"/><stop offset="0.70" stop-color="#06b6c9"/><stop offset="0.79" stop-color="#05bac0"/><stop offset="0.86" stop-color="#06bfab"/><stop offset="0.92" stop-color="#07c0a2"/><stop offset="0.96" stop-color="#08c19b"/><stop offset="0.99" stop-color="#09c296"/><stop offset="1.00" stop-color="#09c394"/></linearGradient><linearGradient id="g70" x2="0" y2="1"><stop offset="0.00" stop-color="#09aeda"/><stop offset="0.22" stop-color="#08b1d6"/><stop offset="0.44" stop-color="#07b4cf"/><stop offset="0.58" stop-color="#06b7c8"/><stop offset="0.70" stop-color="#05b9c1"/><stop offset="0.79" stop-color="#04bcb7"/><stop offset="0.86" stop-color="#07c0a4"/><stop offset="0.92" stop-color="#08c19b"/><stop offset="0.96" stop-color="#09c394"/><stop offset="0.99" stop-color="#0ac48e"/><stop offset="1.00" stop-color="#0ac48d"/></linearGradient><linearGradient id="g71" x2="0" y2="1"><stop offset="0.00" stop-color="#0aacde"/><stop offset="0.22" stop-color="#09aeda"/><stop offset="0.44" stop-color="#08b2d4"/><stop offset="0.58" stop-color="#07b5cd"/><stop offset="0.70" stop-color="#06b7c6"/><stop offset="0.79" stop-color="#05bbbd"/><stop offset="0.86" stop-color="#06bfa9"/><stop offset="0.92" stop-color="#07c1a0"/><stop offset="0.96" stop-color="#08c299"/><stop offset="0.99" stop-color="#09c393"/><stop offset="1.00" stop-color="#09c392"/></linearGradient><linearGradient id="g72" x2="0" y2="1"><stop offset="0.00" stop-color="#0aaddd"/><stop offset="0.22" stop-color="#09afd9"/><stop offset="0.44" stop-color="#08b2d3"/><stop offset="0.58" stop-color="#07b5cc"/><stop offset="0.70" stop-color="#06b8c5"/><stop offset="0.79" stop-color="#04bbbc"/><stop offset="0.86" stop-color="#06bfa8"/><stop offset="0.92" stop-color="#08c19f"/><stop offset="0.96" stop-color="#08c298"/><stop offset="0.99" stop-color="#09c392"/><stop offset="1.00" stop-color="#09c390"/></linearGradient><linearGradient id="g73" x2="0" y2="1"><stop offset="0.00" stop-color="#09aeda"/><stop offset="0.22" stop-color="#09b1d6"/><stop offset="0.44" stop-color="#07b4cf"/><stop offset="0.58" stop-color="#06b7c8"/><stop offset="0.70" stop-color="#05b9c1"/><stop offset="0.79" stop-color="#04bcb7"/><stop offset="0.86" stop-color="#07c0a4"/><stop offset="0.92" stop-color="#08c19b"/><stop offset="0.96" stop-color="#09c394"/><stop offset="0.99" stop-color="#0ac48f"/><stop offset="1.00" stop-color="#0ac48d"/></linearGradient><linearGradient id="g74" x2="0" y2="1"><stop offset="0.00" stop-color="#0f9ff0"/><stop offset="0.22" stop-color="#0ea2ed"/><stop offset="0.44" stop-color="#0da6e8"/><stop offset="0.58" stop-color="#0ba9e3"/><stop offset="0.70" stop-color="#0aacde"/><stop offset="0.79" stop-color="#09b0d8"/><stop offset="0.86" stop-color="#05b9c1"/><stop offset="0.92" stop-color="#04bcba"/><stop offset="0.96" stop-color="#05bdb3"/><stop offset="0.99" stop-color="#06beae"/><stop offset="1.00" stop-color="#06beac"/></linearGradient><linearGradient id="g75" x2="0" y2="1"><stop offset="0.00" stop-color="#08b1d6"/><stop offset="0.22" stop-color="#08b3d1"/><stop offset="0.44" stop-color="#06b6c9"/><stop offset="0.58" stop-color="#05b9c1"/><stop offset="0.70" stop-color="#04bcbb"/><stop offset="0.79" stop-color="#06beae"/><stop offset="0.86" stop-color="#08c19d"/><stop offset="0.92" stop-color="#09c295"/><stop offset="0.96" stop-color="#0ac48e"/><stop offset="0.99" stop-color="#0cc489"/><stop offset="1.00" stop-color="#0ec487"/></linearGradient><linearGradient id="g76" x2="0" y2="1"><stop offset="0.00" stop-color="#08b2d5"/><stop offset="0.22" stop-color="#07b4cf"/><stop offset="0.44" stop-color="#06b7c7"/><stop offset="0.58" stop-color="#05bac0"/><stop offset="0.70" stop-color="#04bcb8"/><stop offset="0.79" stop-color="#06bfab"/><stop offset="0.86" stop-color="#08c19c"/><stop offset="0.92" stop-color="#09c394"/><stop offset="0.96" stop-color="#0ac48d"/><stop offset="0.99" stop-color="#0dc487"/><stop offset="1.00" stop-color="#0fc585"/></linearGradient><linearGradient id="g77" x2="0" y2="1"><stop offset="0.00" stop-color="#109df0"/><stop offset="0.22" stop-color="#0ea1ee"/><stop offset="0.44" stop-color="#0da5e9"/><stop offset="0.58" stop-color="#0ca8e4"/><stop offset="0.70" stop-color="#0babdf"/><stop offset="0.79" stop-color="#09afd9"/><stop offset="0.86" stop-color="#05b9c2"/><stop offset="0.92" stop-color="#04bbbb"/><stop offset="0.96" stop-color="#05bdb5"/><stop offset="0.99" stop-color="#05beb0"/><stop offset="1.00" stop-color="#06beae"/></linearGradient><linearGradient id="g78" x2="0" y2="1"><stop offset="0.00" stop-color="#0aacde"/><stop offset="0.22" stop-color="#09afda"/><stop offset="0.44" stop-color="#08b2d4"/><stop offset="0.58" stop-color="#07b5cd"/><stop offset="0.70" stop-color="#06b8c6"/><stop offset="0.79" stop-color="#04bbbd"/><stop offset="0.86" stop-color="#06bfa9"/><stop offset="0.92" stop-color="#07c1a0"/><stop offset="0.96" stop-color="#08c299"/><stop offset="0.99" stop-color="#09c393"/><stop offset="1.00" stop-color="#09c391"/></linearGradient><linearGradient id="g79" x2="0" y2="1"><stop offset="0.00" stop-color="#0baae1"/><stop offset="0.22" stop-color="#0aaddd"/><stop offset="0.44" stop-color="#09b0d7"/><stop offset="0.58" stop-color="#08b3d1"/><stop offset="0.70" stop-color="#07b6ca"/><stop offset="0.79" stop-color="#05b9c2"/><stop offset="0.86" stop-color="#06bead"/><stop offset="0.92" stop-color="#07c0a4"/><stop offset="0.96" stop-color="#08c19d"/><stop offset="0.99" stop-color="#08c298"/><stop offset="1.00" stop-color="#09c296"/></linearGradient><linearGradient id="g80" x2="0" y2="1"><stop offset="0.00" stop-color="#0aaddc"/><stop offset="0.22" stop-color="#09b0d8"/><stop offset="0.44" stop-color="#08b3d1"/><stop offset="0.58" stop-color="#06b6ca"/><stop offset="0.70" stop-color="#05b9c3"/><stop offset="0.79" stop-color="#04bcbb"/><stop offset="0.86" stop-color="#07bfa6"/><stop offset="0.92" stop-color="#08c19d"/><stop offset="0.96" stop-color="#09c296"/><stop offset="0.99" stop-color="#09c391"/><stop offset="1.00" stop-color="#0ac38f"/></linearGradient><linearGradient id="g81" x2="0" y2="1"><stop offset="0.00" stop-color="#0aaedb"/><stop offset="0.22" stop-color="#09b0d7"/><stop offset="0.44" stop-color="#07b3d1"/><stop offset="0.58" stop-color="#06b6c9"/><stop offset="0.70" stop-color="#05b9c2"/><stop offset="0.79" stop-color="#04bcba"/><stop offset="0.86" stop-color="#07c0a5"/><stop offset="0.92" stop-color="#08c19d"/><stop offset="0.96" stop-color="#09c296"/><stop offset="0.99" stop-color="#09c390"/><stop offset="1.00" stop-color="#0ac48e"/></linearGradient><linearGradient id="g82" x2="0" y2="1"><stop offset="0.00" stop-color="#109cf1"/><stop offset="0.22" stop-color="#0fa0ef"/><stop offset="0.44" stop-color="#0da4ea"/><stop offset="0.58" stop-color="#0ca8e5"/><stop offset="0.70" stop-color="#0babe0"/><stop offset="0.79" stop-color="#09aeda"/><stop offset="0.86" stop-color="#05b9c3"/><stop offset="0.92" stop-color="#04bbbc"/><stop offset="0.96" stop-color="#05bdb6"/><stop offset="0.99" stop-color="#05beb1"/><stop offset="1.00" stop-color="#05beaf"/></linearGradient><linearGradient id="g83" x2="0" y2="1"><stop offset="0.00" stop-color="#119af2"/><stop offset="0.22" stop-color="#0f9df0"/><stop offset="0.44" stop-color="#0ea3ed"/><stop offset="0.58" stop-color="#0da6e8"/><stop offset="0.70" stop-color="#0ba9e3"/><stop offset="0.79" stop-color="#0aacdd"/><stop offset="0.86" stop-color="#06b8c6"/><stop offset="0.92" stop-color="#05babe"/><stop offset="0.96" stop-color="#04bcba"/><stop offset="0.99" stop-color="#05bdb4"/><stop offset="1.00" stop-color="#05bdb2"/></linearGradient><linearGradient id="g84" x2="0" y2="1"><stop offset="0.00" stop-color="#06b8c4"/><stop offset="0.22" stop-color="#05babe"/><stop offset="0.44" stop-color="#05bdb4"/><stop offset="0.58" stop-color="#06bfa9"/><stop offset="0.70" stop-color="#08c19e"/><stop offset="0.79" stop-color="#09c391"/><stop offset="0.86" stop-color="#0bc48b"/><stop offset="0.92" stop-color="#10c583"/><stop offset="0.96" stop-color="#15c57c"/><stop offset="0.99" stop-color="#19c676"/><stop offset="1.00" stop-color="#1bc674"/></linearGradient><linearGradient id="g85" x2="0" y2="1"><stop offset="0.00" stop-color="#06b8c5"/><stop offset="0.22" stop-color="#05babf"/><stop offset="0.44" stop-color="#05bdb6"/><stop offset="0.58" stop-color="#06bfab"/><stop offset="0.70" stop-color="#07c1a0"/><stop offset="0.79" stop-color="#09c393"/><stop offset="0.86" stop-color="#0ac48c"/><stop offset="0.92" stop-color="#0fc584"/><stop offset="0.96" stop-color="#14c57d"/><stop offset="0.99" stop-color="#18c677"/><stop offset="1.00" stop-color="#1ac675"/></linearGradient><linearGradient id="g86" x2="0" y2="1"><stop offset="0.00" stop-color="#06b8c4"/><stop offset="0.22" stop-color="#05babf"/><stop offset="0.44" stop-color="#05bdb5"/><stop offset="0.58" stop-color="#06bfa9"/><stop offset="0.70" stop-color="#08c19e"/><stop offset="0.79" stop-color="#09c391"/><stop offset="0.86" stop-color="#0bc48b"/><stop offset="0.92" stop-color="#10c584"/><stop offset="0.96" stop-color="#15c57c"/><stop offset="0.99" stop-color="#19c676"/><stop offset="1.00" stop-color="#1ac674"/></linearGradient><linearGradient id="g87" x2="0" y2="1"><stop offset="0.00" stop-color="#05babf"/><stop offset="0.22" stop-color="#04bcba"/><stop offset="0.44" stop-color="#06bead"/><stop offset="0.58" stop-color="#07c0a2"/><stop offset="0.70" stop-color="#09c297"/><stop offset="0.79" stop-color="#0bc48a"/><stop offset="0.86" stop-color="#0ec586"/><stop offset="0.92" stop-color="#13c57f"/><stop offset="0.96" stop-color="#18c677"/><stop offset="0.99" stop-color="#1cc671"/><stop offset="1.00" stop-color="#1ec76f"/></linearGradient><linearGradient id="g88" x2="0" y2="1"><stop offset="0.00" stop-color="#0f9ff0"/><stop offset="0.22" stop-color="#0ea2ed"/><stop offset="0.44" stop-color="#0da6e8"/><stop offset="0.58" stop-color="#0ba9e3"/><stop offset="0.70" stop-color="#0aacde"/><stop offset="0.79" stop-color="#09b0d8"/><stop offset="0.86" stop-color="#05b9c1"/><stop offset="0.92" stop-color="#04bcba"/><stop offset="0.96" stop-color="#05bdb3"/><stop offset="0.99" stop-color="#06bead"/><stop offset="1.00" stop-color="#06bfac"/></linearGradient><linearGradient id="g89" x2="0" y2="1"><stop offset="0.00" stop-color="#08b2d4"/><stop offset="0.22" stop-color="#07b4ce"/><stop offset="0.44" stop-color="#06b7c6"/><stop offset="0.58" stop-color="#05babf"/><stop offset="0.70" stop-color="#04bdb7"/><stop offset="0.79" stop-color="#06bfaa"/><stop offset="0.86" stop-color="#08c19b"/><stop offset="0.92" stop-color="#09c393"/><stop offset="0.96" stop-color="#0ac48c"/><stop offset="0.99" stop-color="#0ec586"/><stop offset="1.00" stop-color="#10c584"/></linearGradient><linearGradient id="g90" x2="0" y2="1"><stop offset="0.00" stop-color="#08b2d4"/><stop offset="0.22" stop-color="#07b4cf"/><stop offset="0.44" stop-color="#06b7c7"/><stop offset="0.58" stop-color="#05babf"/><stop offset="0.70" stop-color="#04bcb7"/><stop offset="0.79" stop-color="#06bfaa"/><stop offset="0.86" stop-color="#08c19b"/><stop offset="0.92" stop-color="#09c393"/><stop offset="0.96" stop-color="#0ac48c"/><stop offset="0.99" stop-color="#0ec586"/><stop offset="1.00" stop-color="#0fc584"/></linearGradient><linearGradient id="g91" x2="0" y2="1"><stop offset="0.00" stop-color="#08b2d4"/><stop offset="0.22" stop-color="#07b4ce"/><stop offset="0.44" stop-color="#06b7c6"/><stop offset="0.58" stop-color="#05babf"/><stop offset="0.70" stop-color="#04bdb7"/><stop offset="0.79" stop-color="#06bfaa"/><stop offset="0.86" stop-color="#08c19b"/><stop offset="0.92" stop-color="#09c393"/><stop offset="0.96" stop-color="#0ac48c"/><stop offset="0.99" stop-color="#0ec586"/><stop offset="1.00" stop-color="#10c584"/></linearGradient><linearGradient id="g92" x2="0" y2="1"><stop offset="0.00" stop-color="#04bcb7"/><stop offset="0.22" stop-color="#05beaf"/><stop offset="0.44" stop-color="#07c0a2"/><stop offset="0.58" stop-color="#09c297"/><stop offset="0.70" stop-color="#0ac48c"/><stop offset="0.79" stop-color="#14c57e"/><stop offset="0.86" stop-color="#13c57e"/><stop offset="0.92" stop-color="#18c677"/><stop offset="0.96" stop-color="#1dc770"/><stop offset="0.99" stop-color="#21c76a"/><stop offset="1.00" stop-color="#23c768"/></linearGradient><linearGradient id="g93" x2="0" y2="1"><stop offset="0.00" stop-color="#04bcb7"/><stop offset="0.22" stop-color="#05beaf"/><stop offset="0.44" stop-color="#07c0a2"/><stop offset="0.58" stop-color="#09c297"/><stop offset="0.70" stop-color="#0ac48c"/><stop offset="0.79" stop-color="#14c57e"/><stop offset="0.86" stop-color="#13c57e"/><stop offset="0.92" stop-color="#18c678"/><stop offset="0.96" stop-color="#1dc770"/><stop offset="0.99" stop-color="#21c76a"/><stop offset="1.00" stop-color="#23c768"/></linearGradient><linearGradient id="g94" x2="0" y2="1"><stop offset="0.00" stop-color="#04bcba"/><stop offset="0.22" stop-color="#05bdb2"/><stop offset="0.44" stop-color="#07c0a5"/><stop offset="0.58" stop-color="#08c29a"/><stop offset="0.70" stop-color="#0ac38f"/><stop offset="0.79" stop-color="#12c581"/><stop offset="0.86" stop-color="#12c580"/><stop offset="0.92" stop-color="#17c679"/><stop offset="0.96" stop-color="#1cc672"/><stop offset="0.99" stop-color="#20c76c"/><stop offset="1.00" stop-color="#21c76a"/></linearGradient><linearGradient id="g95" x2="0" y2="1"><stop offset="0.00" stop-color="#1689f9"/><stop offset="0.22" stop-color="#148df8"/><stop offset="0.44" stop-color="#1393f5"/><stop offset="0.58" stop-color="#1198f3"/><stop offset="0.70" stop-color="#109df0"/><stop offset="0.79" stop-color="#0ea2ed"/><stop offset="0.86" stop-color="#08b2d4"/><stop offset="0.92" stop-color="#07b5cc"/><stop offset="0.96" stop-color="#06b7c8"/><stop offset="0.99" stop-color="#06b8c4"/><stop offset="1.00" stop-color="#05b8c3"/></linearGradient><linearGradient id="g96" x2="0" y2="1"><stop offset="0.00" stop-color="#06bead"/><stop offset="0.22" stop-color="#07c0a4"/><stop offset="0.44" stop-color="#08c298"/><stop offset="0.58" stop-color="#0ac48c"/><stop offset="0.70" stop-color="#12c580"/><stop offset="0.79" stop-color="#1cc672"/><stop offset="0.86" stop-color="#18c677"/><stop offset="0.92" stop-color="#1dc671"/><stop offset="0.96" stop-color="#22c769"/><stop offset="0.99" stop-color="#26c863"/><stop offset="1.00" stop-color="#27c861"/></linearGradient><linearGradient id="g97" x2="0" y2="1"><stop offset="0.00" stop-color="#05bdb3"/><stop offset="0.22" stop-color="#06bfab"/><stop offset="0.44" stop-color="#08c19e"/><stop offset="0.58" stop-color="#09c393"/><stop offset="0.70" stop-color="#0dc487"/><stop offset="0.79" stop-color="#17c679"/><stop offset="0.86" stop-color="#15c67b"/><stop offset="0.92" stop-color="#1ac675"/><stop offset="0.96" stop-color="#1fc76d"/><stop offset="0.99" stop-color="#23c767"/><stop offset="1.00" stop-color="#25c865"/></linearGradient><linearGradient id="g98" x2="0" y2="1"><stop offset="0.00" stop-color="#04bcb9"/><stop offset="0.22" stop-color="#05beb0"/><stop offset="0.44" stop-color="#07c0a4"/><stop offset="0.58" stop-color="#08c298"/><stop offset="0.70" stop-color="#0ac48d"/><stop offset="0.79" stop-color="#13c57f"/><stop offset="0.86" stop-color="#13c57f"/><stop offset="0.92" stop-color="#17c678"/><stop offset="0.96" stop-color="#1dc671"/><stop offset="0.99" stop-color="#21c76b"/><stop offset="1.00" stop-color="#22c769"/></linearGradient><linearGradient id="g99" x2="0" y2="1"><stop offset="0.00" stop-color="#0aacde"/><stop offset="0.22" stop-color="#09aeda"/><stop offset="0.44" stop-color="#08b2d5"/><stop offset="0.58" stop-color="#07b5cd"/><stop offset="0.70" stop-color="#06b7c6"/><stop offset="0.79" stop-color="#05babe"/><stop offset="0.86" stop-color="#06bfa9"/><stop offset="0.92" stop-color="#07c0a0"/><stop offset="0.96" stop-color="#08c299"/><stop offset="0.99" stop-color="#09c394"/><stop offset="1.00" stop-color="#09c392"/></linearGradient><linearGradient id="g100" x2="0" y2="1"><stop offset="0.00" stop-color="#0babdf"/><stop offset="0.22" stop-color="#0aaedb"/><stop offset="0.44" stop-color="#08b1d5"/><stop offset="0.58" stop-color="#07b4cf"/><stop offset="0.70" stop-color="#06b7c8"/><stop offset="0.79" stop-color="#05babf"/><stop offset="0.86" stop-color="#06bfab"/><stop offset="0.92" stop-color="#07c0a1"/><stop offset="0.96" stop-color="#08c19a"/><stop offset="0.99" stop-color="#09c295"/><stop offset="1.00" stop-color="#09c393"/></linearGradient><linearGradient id="g101" x2="0" y2="1"><stop offset="0.00" stop-color="#0aaddc"/><stop offset="0.22" stop-color="#09afd8"/><stop offset="0.44" stop-color="#08b3d2"/><stop offset="0.58" stop-color="#07b6cb"/><stop offset="0.70" stop-color="#06b8c4"/><stop offset="0.79" stop-color="#04bbbb"/><stop offset="0.86" stop-color="#06bfa7"/><stop offset="0.92" stop-color="#08c19e"/><stop offset="0.96" stop-color="#09c297"/><stop offset="0.99" stop-color="#09c392"/><stop offset="1.00" stop-color="#0ac390"/></linearGradient><linearGradient id="g102" x2="0" y2="1"><stop offset="0.00" stop-color="#0ca7e7"/><stop offset="0.22" stop-color="#0ba9e3"/><stop offset="0.44" stop-color="#0aacdd"/><stop offset="0.58" stop-color="#09b0d8"/><stop offset="0.70" stop-color="#08b2d3"/><stop offset="0.79" stop-color="#07b6ca"/><stop offset="0.86" stop-color="#05bdb6"/><stop offset="0.92" stop-color="#06beac"/><stop offset="0.96" stop-color="#07c0a5"/><stop offset="0.99" stop-color="#07c19f"/><stop offset="1.00" stop-color="#08c19e"/></linearGradient><linearGradient id="g103" x2="0" y2="1"><stop offset="0.00" stop-color="#0da4eb"/><stop offset="0.22" stop-color="#0ca7e7"/><stop offset="0.44" stop-color="#0baae1"/><stop offset="0.58" stop-color="#0aaddc"/><stop offset="0.70" stop-color="#09b0d7"/><stop offset="0.79" stop-color="#07b4d0"/><stop offset="0.86" stop-color="#04bcbb"/><stop offset="0.92" stop-color="#05beb1"/><stop offset="0.96" stop-color="#06bfaa"/><stop offset="0.99" stop-color="#07c0a4"/><stop offset="1.00" stop-color="#07c0a3"/></linearGradient><linearGradient id="g104" x2="0" y2="1"><stop offset="0.00" stop-color="#2071fe"/><stop offset="0.22" stop-color="#1e76fd"/><stop offset="0.44" stop-color="#1b7dfc"/><stop offset="0.58" stop-color="#1883fb"/><stop offset="0.70" stop-color="#1689f9"/><stop offset="0.79" stop-color="#148ff7"/><stop offset="0.86" stop-color="#0baae1"/><stop offset="0.92" stop-color="#09aeda"/><stop offset="0.96" stop-color="#09b0d7"/><stop offset="0.99" stop-color="#08b1d5"/><stop offset="1.00" stop-color="#08b2d4"/></linearGradient><linearGradient id="g105" x2="0" y2="1"><stop offset="0.00" stop-color="#0da5e9"/><stop offset="0.22" stop-color="#0ca8e5"/><stop offset="0.44" stop-color="#0babdf"/><stop offset="0.58" stop-color="#09aeda"/><stop offset="0.70" stop-color="#08b1d5"/><stop offset="0.79" stop-color="#07b5cd"/><stop offset="0.86" stop-color="#04bcb8"/><stop offset="0.92" stop-color="#06beae"/><stop offset="0.96" stop-color="#06bfa7"/><stop offset="0.99" stop-color="#07c0a2"/><stop offset="1.00" stop-color="#07c0a0"/></linearGradient><linearGradient id="g106" x2="0" y2="1"><stop offset="0.00" stop-color="#0ca8e5"/><stop offset="0.22" stop-color="#0baae1"/><stop offset="0.44" stop-color="#0aaedb"/><stop offset="0.58" stop-color="#08b1d6"/><stop offset="0.70" stop-color="#07b4d0"/><stop offset="0.79" stop-color="#06b7c7"/><stop offset="0.86" stop-color="#05bdb3"/><stop offset="0.92" stop-color="#06bfa9"/><stop offset="0.96" stop-color="#07c0a2"/><stop offset="0.99" stop-color="#08c19c"/><stop offset="1.00" stop-color="#08c19b"/></linearGradient><linearGradient id="g107" x2="0" y2="1"><stop offset="0.00" stop-color="#0ca6e7"/><stop offset="0.22" stop-color="#0ca9e3"/><stop offset="0.44" stop-color="#0aacde"/><stop offset="0.58" stop-color="#09afd8"/><stop offset="0.70" stop-color="#08b2d3"/><stop offset="0.79" stop-color="#07b5cb"/><stop offset="0.86" stop-color="#04bdb6"/><stop offset="0.92" stop-color="#06beac"/><stop offset="0.96" stop-color="#07c0a5"/><stop offset="0.99" stop-color="#07c1a0"/><stop offset="1.00" stop-color="#08c19e"/></linearGradient><linearGradient id="g108" x2="0" y2="1"><stop offset="0.00" stop-color="#0ca8e4"/><stop offset="0.22" stop-color="#0babe0"/><stop offset="0.44" stop-color="#09aeda"/><stop offset="0.58" stop-color="#08b1d5"/><stop offset="0.70" stop-color="#07b4cf"/><stop offset="0.79" stop-color="#06b7c6"/><stop offset="0.86" stop-color="#05bdb2"/><stop offset="0.92" stop-color="#06bfa8"/><stop offset="0.96" stop-color="#07c0a1"/><stop offset="0.99" stop-color="#08c19c"/><stop offset="1.00" stop-color="#08c29a"/></linearGradient><linearGradient id="g109" x2="0" y2="1"><stop offset="0.00" stop-color="#06b8c5"/><stop offset="0.22" stop-color="#05babf"/><stop offset="0.44" stop-color="#05bdb5"/><stop offset="0.58" stop-color="#06bfaa"/><stop offset="0.70" stop-color="#08c19f"/><stop offset="0.79" stop-color="#09c392"/><stop offset="0.86" stop-color="#0ac48c"/><stop offset="0.92" stop-color="#0fc584"/><stop offset="0.96" stop-color="#15c57c"/><stop offset="0.99" stop-color="#19c676"/><stop offset="1.00" stop-color="#1ac674"/></linearGradient><linearGradient id="g110" x2="0" y2="1"><stop offset="0.00" stop-color="#06b8c4"/><stop offset="0.22" stop-color="#05babf"/><stop offset="0.44" stop-color="#05bdb5"/><stop offset="0.58" stop-color="#06bfa9"/><stop offset="0.70" stop-color="#08c19e"/><stop offset="0.79" stop-color="#09c391"/><stop offset="0.86" stop-color="#0bc48b"/><stop offset="0.92" stop-color="#10c584"/><stop offset="0.96" stop-color="#15c57c"/><stop offset="0.99" stop-color="#19c676"/><stop offset="1.00" stop-color="#1ac674"/></linearGradient><linearGradient id="g111" x2="0" y2="1"><stop offset="0.00" stop-color="#08b2d5"/><stop offset="0.22" stop-color="#07b4cf"/><stop offset="0.44" stop-color="#06b7c7"/><stop offset="0.58" stop-color="#05bac0"/><stop offset="0.70" stop-color="#04bcb8"/><stop offset="0.79" stop-color="#06bfab"/><stop offset="0.86" stop-color="#08c19c"/><stop offset="0.92" stop-color="#09c394"/><stop offset="0.96" stop-color="#0ac48d"/><stop offset="0.99" stop-color="#0dc487"/><stop offset="1.00" stop-color="#0fc585"/></linearGradient><linearGradient id="g112" x2="0" y2="1"><stop offset="0.00" stop-color="#08b2d3"/><stop offset="0.22" stop-color="#07b5cd"/><stop offset="0.44" stop-color="#06b8c5"/><stop offset="0.58" stop-color="#05bbbe"/><stop offset="0.70" stop-color="#05bdb5"/><stop offset="0.79" stop-color="#06bfa8"/><stop offset="0.86" stop-color="#08c29a"/><stop offset="0.92" stop-color="#09c392"/><stop offset="0.96" stop-color="#0bc48b"/><stop offset="0.99" stop-color="#0fc585"/><stop offset="1.00" stop-color="#10c583"/></linearGradient><linearGradient id="g113" x2="0" y2="1"><stop offset="0.00" stop-color="#08b2d4"/><stop offset="0.22" stop-color="#07b4cf"/><stop offset="0.44" stop-color="#06b7c7"/><stop offset="0.58" stop-color="#05babf"/><stop offset="0.70" stop-color="#04bcb7"/><stop offset="0.79" stop-color="#06bfaa"/><stop offset="0.86" stop-color="#08c19b"/><stop offset="0.92" stop-color="#09c393"/><stop offset="0.96" stop-color="#0ac48c"/><stop offset="0.99" stop-color="#0ec586"/><stop offset="1.00" stop-color="#0fc584"/></linearGradient><linearGradient id="g114" x2="0" y2="1"><stop offset="0.00" stop-color="#09b0d8"/><stop offset="0.22" stop-color="#08b2d4"/><stop offset="0.44" stop-color="#07b5cc"/><stop offset="0.58" stop-color="#06b8c4"/><stop offset="0.70" stop-color="#05bbbe"/><stop offset="0.79" stop-color="#05bdb2"/><stop offset="0.86" stop-color="#07c0a1"/><stop offset="0.92" stop-color="#08c298"/><stop offset="0.96" stop-color="#09c391"/><stop offset="0.99" stop-color="#0ac48c"/><stop offset="1.00" stop-color="#0cc48a"/></linearGradient><linearGradient id="g115" x2="0" y2="1"><stop offset="0.00" stop-color="#08b1d5"/><stop offset="0.22" stop-color="#07b4d0"/><stop offset="0.44" stop-color="#06b7c8"/><stop offset="0.58" stop-color="#05bac0"/><stop offset="0.70" stop-color="#04bcb9"/><stop offset="0.79" stop-color="#06beac"/><stop offset="0.86" stop-color="#08c19c"/><stop offset="0.92" stop-color="#09c394"/><stop offset="0.96" stop-color="#0ac48d"/><stop offset="0.99" stop-color="#0dc487"/><stop offset="1.00" stop-color="#0fc585"/></linearGradient><linearGradient id="g116" x2="0" y2="1"><stop offset="0.00" stop-color="#0ca6e7"/><stop offset="0.22" stop-color="#0ca8e4"/><stop offset="0.44" stop-color="#0aacde"/><stop offset="0.58" stop-color="#09afd9"/><stop offset="0.70" stop-color="#08b2d4"/><stop offset="0.79" stop-color="#07b5cb"/><stop offset="0.86" stop-color="#04bdb7"/><stop offset="0.92" stop-color="#06bead"/><stop offset="0.96" stop-color="#07c0a6"/><stop offset="0.99" stop-color="#07c0a0"/><stop offset="1.00" stop-color="#08c19f"/></linearGradient><linearGradient id="g117" x2="0" y2="1"><stop offset="0.00" stop-color="#04bcb9"/><stop offset="0.22" stop-color="#05beb0"/><stop offset="0.44" stop-color="#07c0a4"/><stop offset="0.58" stop-color="#08c299"/><stop offset="0.70" stop-color="#0ac48e"/><stop offset="0.79" stop-color="#12c580"/><stop offset="0.86" stop-color="#13c57f"/><stop offset="0.92" stop-color="#17c679"/><stop offset="0.96" stop-color="#1cc671"/><stop offset="0.99" stop-color="#20c76b"/><stop offset="1.00" stop-color="#22c769"/></linearGradient><linearGradient id="g118" x2="0" y2="1"><stop offset="0.00" stop-color="#0da5e9"/><stop offset="0.22" stop-color="#0ca8e5"/><stop offset="0.44" stop-color="#0babdf"/><stop offset="0.58" stop-color="#09aeda"/><stop offset="0.70" stop-color="#08b1d5"/><stop offset="0.79" stop-color="#07b5cd"/><stop offset="0.86" stop-color="#04bcb9"/><stop offset="0.92" stop-color="#05beaf"/><stop offset="0.96" stop-color="#06bfa8"/><stop offset="0.99" stop-color="#07c0a2"/><stop offset="1.00" stop-color="#07c0a0"/></linearGradient><linearGradient id="g119" x2="0" y2="1"><stop offset="0.00" stop-color="#0ca8e4"/><stop offset="0.22" stop-color="#0babe0"/><stop offset="0.44" stop-color="#09aeda"/><stop offset="0.58" stop-color="#08b1d5"/><stop offset="0.70" stop-color="#07b4cf"/><stop offset="0.79" stop-color="#06b7c6"/><stop offset="0.86" stop-color="#05bdb2"/><stop offset="0.92" stop-color="#06bfa8"/><stop offset="0.96" stop-color="#07c0a1"/><stop offset="0.99" stop-color="#08c19c"/><stop offset="1.00" stop-color="#08c29a"/></linearGradient><linearGradient id="g120" x2="0" y2="1"><stop offset="0.00" stop-color="#0da6e8"/><stop offset="0.22" stop-color="#0ca8e4"/><stop offset="0.44" stop-color="#0aabdf"/><stop offset="0.58" stop-color="#09afda"/><stop offset="0.70" stop-color="#08b2d5"/><stop offset="0.79" stop-color="#07b5cd"/><stop offset="0.86" stop-color="#04bcb8"/><stop offset="0.92" stop-color="#06beae"/><stop offset="0.96" stop-color="#06bfa7"/><stop offset="0.99" stop-color="#07c0a2"/><stop offset="1.00" stop-color="#07c1a0"/></linearGradient><linearGradient id="g121" x2="0" y2="1"><stop offset="0.00" stop-color="#0da5e9"/><stop offset="0.22" stop-color="#0ca7e5"/><stop offset="0.44" stop-color="#0babe0"/><stop offset="0.58" stop-color="#0aaedb"/><stop offset="0.70" stop-color="#08b1d6"/><stop offset="0.79" stop-color="#07b4ce"/><stop offset="0.86" stop-color="#04bcb9"/><stop offset="0.92" stop-color="#05beaf"/><stop offset="0.96" stop-color="#06bfa8"/><stop offset="0.99" stop-color="#07c0a3"/><stop offset="1.00" stop-color="#07c0a1"/></linearGradient><linearGradient id="g122" x2="0" y2="1"><stop offset="0.00" stop-color="#05b9c1"/><stop offset="0.22" stop-color="#04bbbc"/><stop offset="0.44" stop-color="#05beb0"/><stop offset="0.58" stop-color="#07c0a5"/><stop offset="0.70" stop-color="#08c29a"/><stop offset="0.79" stop-color="#0ac48d"/><stop offset="0.86" stop-color="#0dc488"/><stop offset="0.92" stop-color="#12c581"/><stop offset="0.96" stop-color="#17c679"/><stop offset="0.99" stop-color="#1bc673"/><stop offset="1.00" stop-color="#1cc671"/></linearGradient><linearGradient id="g123" x2="0" y2="1"><stop offset="0.00" stop-color="#05b9c3"/><stop offset="0.22" stop-color="#05bbbd"/><stop offset="0.44" stop-color="#05bdb3"/><stop offset="0.58" stop-color="#06bfa7"/><stop offset="0.70" stop-color="#08c19c"/><stop offset="0.79" stop-color="#0ac38f"/><stop offset="0.86" stop-color="#0bc48a"/><stop offset="0.92" stop-color="#11c582"/><stop offset="0.96" stop-color="#16c67b"/><stop offset="0.99" stop-color="#1ac675"/><stop offset="1.00" stop-color="#1bc673"/></linearGradient><linearGradient id="g124" x2="0" y2="1"><stop offset="0.00" stop-color="#05b8c4"/><stop offset="0.22" stop-color="#05babe"/><stop offset="0.44" stop-color="#05bdb4"/><stop offset="0.58" stop-color="#06bfa8"/><stop offset="0.70" stop-color="#08c19d"/><stop offset="0.79" stop-color="#09c390"/><stop offset="0.86" stop-color="#0bc48a"/><stop offset="0.92" stop-color="#10c583"/><stop offset="0.96" stop-color="#15c67b"/><stop offset="0.99" stop-color="#19c675"/><stop offset="1.00" stop-color="#1bc673"/></linearGradient><linearGradient id="g125" x2="0" y2="1"><stop offset="0.00" stop-color="#05b9c1"/><stop offset="0.22" stop-color="#04bbbb"/><stop offset="0.44" stop-color="#05beb0"/><stop offset="0.58" stop-color="#07c0a4"/><stop offset="0.70" stop-color="#08c299"/><stop offset="0.79" stop-color="#0ac48c"/><stop offset="0.86" stop-color="#0dc488"/><stop offset="0.92" stop-color="#12c580"/><stop offset="0.96" stop-color="#17c679"/><stop offset="0.99" stop-color="#1bc673"/><stop offset="1.00" stop-color="#1dc671"/></linearGradient><linearGradient id="g126" x2="0" y2="1"><stop offset="0.00" stop-color="#05b9c2"/><stop offset="0.22" stop-color="#04bbbc"/><stop offset="0.44" stop-color="#05beb1"/><stop offset="0.58" stop-color="#07c0a6"/><stop offset="0.70" stop-color="#08c19b"/><stop offset="0.79" stop-color="#0ac48e"/><stop offset="0.86" stop-color="#0cc489"/><stop offset="0.92" stop-color="#11c581"/><stop offset="0.96" stop-color="#17c679"/><stop offset="0.99" stop-color="#1bc674"/><stop offset="1.00" stop-color="#1cc672"/></linearGradient><linearGradient id="g127" x2="0" y2="1"><stop offset="0.00" stop-color="#05b9c2"/><stop offset="0.22" stop-color="#04bbbd"/><stop offset="0.44" stop-color="#05bdb2"/><stop offset="0.58" stop-color="#07bfa6"/><stop offset="0.70" stop-color="#08c19b"/><stop offset="0.79" stop-color="#0ac48e"/><stop offset="0.86" stop-color="#0cc489"/><stop offset="0.92" stop-color="#11c582"/><stop offset="0.96" stop-color="#16c67a"/><stop offset="0.99" stop-color="#1ac674"/><stop offset="1.00" stop-color="#1cc672"/></linearGradient><linearGradient id="g128" x2="0" y2="1"><stop offset="0.00" stop-color="#05bac0"/><stop offset="0.22" stop-color="#04bcbb"/><stop offset="0.44" stop-color="#05beaf"/><stop offset="0.58" stop-color="#07c0a3"/><stop offset="0.70" stop-color="#08c299"/><stop offset="0.79" stop-color="#0ac48c"/><stop offset="0.86" stop-color="#0dc487"/><stop offset="0.92" stop-color="#12c580"/><stop offset="0.96" stop-color="#18c678"/><stop offset="0.99" stop-color="#1cc672"/><stop offset="1.00" stop-color="#1dc770"/></linearGradient><linearGradient id="cb" x2="0" y2="1"><stop offset="0.000" stop-color="#fcfb00"/><stop offset="0.016" stop-color="#fef600"/><stop offset="0.032" stop-color="#fff100"/><stop offset="0.048" stop-color="#ffec00"/><stop offset="0.063" stop-color="#ffe600"/><stop offset="0.079" stop-color="#ffe000"/><stop offset="0.095" stop-color="#ffda00"/><stop offset="0.111" stop-color="#ffd500"/><stop offset="0.127" stop-color="#ffce05"/><stop offset="0.143" stop-color="#ffc80a"/><stop offset="0.159" stop-color="#ffc110"/><stop offset="0.175" stop-color="#febb15"/><stop offset="0.190" stop-color="#fbb41c"/><stop offset="0.206" stop-color="#f3b41c"/><stop offset="0.222" stop-color="#e8b719"/><stop offset="0.238" stop-color="#ddbb17"/><stop offset="0.254" stop-color="#d2be14"/><stop offset="0.270" stop-color="#bcc11a"/><stop offset="0.286" stop-color="#a5c421"/><stop offset="0.302" stop-color="#8fc827"/><stop offset="0.317" stop-color="#6bc83b"/><stop offset="0.333" stop-color="#45c850"/><stop offset="0.349" stop-color="#26c863"/><stop offset="0.365" stop-color="#1ec76f"/><stop offset="0.381" stop-color="#16c67b"/><stop offset="0.397" stop-color="#0dc487"/><stop offset="0.413" stop-color="#09c392"/><stop offset="0.429" stop-color="#08c19d"/><stop offset="0.444" stop-color="#06bfa8"/><stop offset="0.460" stop-color="#05bdb3"/><stop offset="0.476" stop-color="#04bbbd"/><stop offset="0.492" stop-color="#06b8c4"/><stop offset="0.508" stop-color="#07b5cb"/><stop offset="0.524" stop-color="#08b3d2"/><stop offset="0.540" stop-color="#09b0d8"/><stop offset="0.556" stop-color="#0aaddd"/><stop offset="0.571" stop-color="#0baae2"/><stop offset="0.587" stop-color="#0ca7e7"/><stop offset="0.603" stop-color="#0da3ec"/><stop offset="0.619" stop-color="#0f9fef"/><stop offset="0.635" stop-color="#109af1"/><stop offset="0.651" stop-color="#1295f4"/><stop offset="0.667" stop-color="#1390f6"/><stop offset="0.683" stop-color="#158cf8"/><stop offset="0.698" stop-color="#1786fa"/><stop offset="0.714" stop-color="#1980fb"/><stop offset="0.730" stop-color="#1c7afc"/><stop offset="0.746" stop-color="#1f74fd"/><stop offset="0.762" stop-color="#216efe"/><stop offset="0.778" stop-color="#2468ff"/><stop offset="0.794" stop-color="#2961fc"/><stop offset="0.810" stop-color="#2e5bf9"/><stop offset="0.825" stop-color="#3354f6"/><stop offset="0.841" stop-color="#384ef3"/><stop offset="0.857" stop-color="#3d47f0"/><stop offset="0.873" stop-color="#3f42ed"/><stop offset="0.889" stop-color="#413ee9"/><stop offset="0.905" stop-color="#4239e5"/><stop offset="0.921" stop-color="#4434e1"/><stop offset="0.937" stop-color="#4530de"/><stop offset="0.952" stop-color="#462cd9"/><stop offset="0.968" stop-color="#4629d3"/><stop offset="0.984" stop-color="#4625ce"/><stop offset="1.000" stop-color="#4622c8"/></linearGradient><pattern id="dp" width="1" height="1" patternUnits="userSpaceOnUse"><rect width="1" height="0.5" fill="#3455f2"/></pattern><linearGradient id="fg" x2="0" y2="1"><stop offset="0" stop-color="#fff"/><stop offset="0.5" stop-color="#fff"/><stop offset="0.9" stop-color="#000"/></linearGradient><mask id="fm" maskUnits="userSpaceOnUse" x="0" y="0" width="200" height="200"><rect width="129" height="109.5" fill="url(#fg)"/></mask></defs><rect x="49.00" y="152.60" width="427.00" height="314.70" fill="#09afd9"/><g transform="translate(49.00 152.60) scale(3.31008 2.45859)"><rect x="0" width="1.12" height="109.5" fill="url(#g0)"/><rect x="1" width="1.12" height="109.5" fill="url(#g1)"/><rect x="2" width="1.12" height="109.5" fill="url(#g2)"/><rect x="3" width="1.12" height="109.5" fill="url(#g3)"/><rect x="4" width="1.12" height="109.5" fill="url(#g4)"/><rect x="5" width="1.12" height="109.5" fill="url(#g5)"/><rect x="6" width="1.12" height="109.5" fill="url(#g6)"/><rect x="7" width="1.12" height="109.5" fill="url(#g7)"/><rect x="8" width="1.12" height="109.5" fill="url(#g8)"/><rect x="9" width="1.12" height="109.5" fill="url(#g9)"/><rect x="10" width="1.12" height="109.5" fill="url(#g10)"/><rect x="11" width="1.12" height="109.5" fill="url(#g11)"/><rect x="12" width="1.12" height="109.5" fill="url(#g12)"/><rect x="13" width="1.12" height="109.5" fill="url(#g13)"/><rect x="14" width="1.12" height="109.5" fill="url(#g14)"/><rect x="15" width="1.12" height="109.5" fill="url(#g15)"/><rect x="16" width="1.12" height="109.5" fill="url(#g16)"/><rect x="17" width="1.12" height="109.5" fill="url(#g17)"/><rect x="18" width="1.12" height="109.5" fill="url(#g18)"/><rect x="19" width="1.12" height="109.5" fill="url(#g19)"/><rect x="20" width="1.12" height="109.5" fill="url(#g20)"/><rect x="21" width="1.12" height="109.5" fill="url(#g21)"/><rect x="22" width="1.12" height="109.5" fill="url(#g22)"/><rect x="23" width="1.12" height="109.5" fill="url(#g23)"/><rect x="24" width="1.12" height="109.5" fill="url(#g24)"/><rect x="25" width="1.12" height="109.5" fill="url(#g25)"/><rect x="26" width="1.12" height="109.5" fill="url(#g26)"/><rect x="27" width="1.12" height="109.5" fill="url(#g27)"/><rect x="28" width="1.12" height="109.5" fill="url(#g28)"/><rect x="29" width="1.12" height="109.5" fill="url(#g29)"/><rect x="30" width="1.12" height="109.5" fill="url(#g30)"/><rect x="31" width="1.12" height="109.5" fill="url(#g31)"/><rect x="32" width="1.12" height="109.5" fill="url(#g32)"/><rect x="33" width="1.12" height="109.5" fill="url(#g33)"/><rect x="34" width="1.12" height="109.5" fill="url(#g34)"/><rect x="35" width="1.12" height="109.5" fill="url(#g35)"/><rect x="36" width="1.12" height="109.5" fill="url(#g36)"/><rect x="37" width="1.12" height="109.5" fill="url(#g37)"/><rect x="38" width="1.12" height="109.5" fill="url(#g38)"/><rect x="39" width="1.12" height="109.5" fill="url(#g39)"/><rect x="40" width="1.12" height="109.5" fill="url(#g40)"/><rect x="41" width="1.12" height="109.5" fill="url(#g41)"/><rect x="42" width="1.12" height="109.5" fill="url(#g42)"/><rect x="43" width="1.12" height="109.5" fill="url(#g43)"/><rect x="44" width="1.12" height="109.5" fill="url(#g44)"/><rect x="45" width="1.12" height="109.5" fill="url(#g45)"/><rect x="46" width="1.12" height="109.5" fill="url(#g46)"/><rect x="47" width="1.12" height="109.5" fill="url(#g47)"/><rect x="48" width="1.12" height="109.5" fill="url(#g48)"/><rect x="49" width="1.12" height="109.5" fill="url(#g49)"/><rect x="50" width="1.12" height="109.5" fill="url(#g50)"/><rect x="51" width="1.12" height="109.5" fill="url(#g51)"/><rect x="52" width="1.12" height="109.5" fill="url(#g52)"/><rect x="53" width="1.12" height="109.5" fill="url(#g53)"/><rect x="54" width="1.12" height="109.5" fill="url(#g54)"/><rect x="55" width="1.12" height="109.5" fill="url(#g55)"/><rect x="56" width="1.12" height="109.5" fill="url(#g56)"/><rect x="57" width="1.12" height="109.5" fill="url(#g57)"/><rect x="58" width="1.12" height="109.5" fill="url(#g58)"/><rect x="59" width="1.12" height="109.5" fill="url(#g59)"/><rect x="60" width="1.12" height="109.5" fill="url(#g60)"/><rect x="61" width="1.12" height="109.5" fill="url(#g61)"/><rect x="62" width="1.12" height="109.5" fill="url(#g62)"/><rect x="63" width="1.12" height="109.5" fill="url(#g63)"/><rect x="64" width="1.12" height="109.5" fill="url(#g64)"/><rect x="65" width="1.12" height="109.5" fill="url(#g65)"/><rect x="66" width="1.12" height="109.5" fill="url(#g66)"/><rect x="67" width="1.12" height="109.5" fill="url(#g67)"/><rect x="68" width="1.12" height="109.5" fill="url(#g68)"/><rect x="69" width="1.12" height="109.5" fill="url(#g69)"/><rect x="70" width="1.12" height="109.5" fill="url(#g70)"/><rect x="71" width="1.12" height="109.5" fill="url(#g71)"/><rect x="72" width="1.12" height="109.5" fill="url(#g72)"/><rect x="73" width="1.12" height="109.5" fill="url(#g73)"/><rect x="74" width="1.12" height="109.5" fill="url(#g74)"/><rect x="75" width="1.12" height="109.5" fill="url(#g75)"/><rect x="76" width="1.12" height="109.5" fill="url(#g76)"/><rect x="77" width="1.12" height="109.5" fill="url(#g77)"/><rect x="78" width="1.12" height="109.5" fill="url(#g78)"/><rect x="79" width="1.12" height="109.5" fill="url(#g79)"/><rect x="80" width="1.12" height="109.5" fill="url(#g80)"/><rect x="81" width="1.12" height="109.5" fill="url(#g81)"/><rect x="82" width="1.12" height="109.5" fill="url(#g82)"/><rect x="83" width="1.12" height="109.5" fill="url(#g83)"/><rect x="84" width="1.12" height="109.5" fill="url(#g84)"/><rect x="85" width="1.12" height="109.5" fill="url(#g85)"/><rect x="86" width="1.12" height="109.5" fill="url(#g86)"/><rect x="87" width="1.12" height="109.5" fill="url(#g87)"/><rect x="88" width="1.12" height="109.5" fill="url(#g88)"/><rect x="89" width="1.12" height="109.5" fill="url(#g89)"/><rect x="90" width="1.12" height="109.5" fill="url(#g90)"/><rect x="91" width="1.12" height="109.5" fill="url(#g91)"/><rect x="92" width="1.12" height="109.5" fill="url(#g92)"/><rect x="93" width="1.12" height="109.5" fill="url(#g93)"/><rect x="94" width="1.12" height="109.5" fill="url(#g94)"/><rect x="95" width="1.12" height="109.5" fill="url(#g95)"/><rect x="96" width="1.12" height="109.5" fill="url(#g96)"/><rect x="97" width="1.12" height="109.5" fill="url(#g97)"/><rect x="98" width="1.12" height="109.5" fill="url(#g98)"/><rect x="99" width="1.12" height="109.5" fill="url(#g99)"/><rect x="100" width="1.12" height="109.5" fill="url(#g100)"/><rect x="101" width="1.12" height="109.5" fill="url(#g101)"/><rect x="102" width="1.12" height="109.5" fill="url(#g102)"/><rect x="103" width="1.12" height="109.5" fill="url(#g103)"/><rect x="104" width="1.12" height="109.5" fill="url(#g104)"/><rect x="105" width="1.12" height="109.5" fill="url(#g105)"/><rect x="106" width="1.12" height="109.5" fill="url(#g106)"/><rect x="107" width="1.12" height="109.5" fill="url(#g107)"/><rect x="108" width="1.12" height="109.5" fill="url(#g108)"/><rect x="109" width="1.12" height="109.5" fill="url(#g109)"/><rect x="110" width="1.12" height="109.5" fill="url(#g110)"/><rect x="111" width="1.12" height="109.5" fill="url(#g111)"/><rect x="112" width="1.12" height="109.5" fill="url(#g112)"/><rect x="113" width="1.12" height="109.5" fill="url(#g113)"/><rect x="114" width="1.12" height="109.5" fill="url(#g114)"/><rect x="115" width="1.12" height="109.5" fill="url(#g115)"/><rect x="116" width="1.12" height="109.5" fill="url(#g116)"/><rect x="117" width="1.12" height="109.5" fill="url(#g117)"/><rect x="118" width="1.12" height="109.5" fill="url(#g118)"/><rect x="119" width="1.12" height="109.5" fill="url(#g119)"/><rect x="120" width="1.12" height="109.5" fill="url(#g120)"/><rect x="121" width="1.12" height="109.5" fill="url(#g121)"/><rect x="122" width="1.12" height="109.5" fill="url(#g122)"/><rect x="123" width="1.12" height="109.5" fill="url(#g123)"/><rect x="124" width="1.12" height="109.5" fill="url(#g124)"/><rect x="125" width="1.12" height="109.5" fill="url(#g125)"/><rect x="126" width="1.12" height="109.5" fill="url(#g126)"/><rect x="127" width="1.12" height="109.5" fill="url(#g127)"/><rect x="128" width="1.12" height="109.5" fill="url(#g128)"/><g mask="url(#fm)"><rect x="7" width="1" height="106.5" fill="url(#dp)" opacity="0.65"/><rect x="12" width="1" height="106.5" fill="url(#dp)" opacity="0.65"/><rect x="14" width="1" height="106.5" fill="url(#dp)" opacity="0.65"/><rect x="18" width="1" height="106.5" fill="url(#dp)" opacity="0.65"/><rect x="19" width="1" height="106.5" fill="url(#dp)" opacity="0.65"/><rect x="36" width="1" height="106.5" fill="url(#dp)" opacity="0.30"/><rect x="37" width="1" height="106.5" fill="url(#dp)" opacity="0.30"/><rect x="41" width="1" height="106.5" fill="url(#dp)" opacity="0.65"/><rect x="55" width="1" height="106.5" fill="url(#dp)" opacity="0.65"/><rect x="74" width="1" height="106.5" fill="url(#dp)" opacity="0.65"/><rect x="77" width="1" height="106.5" fill="url(#dp)" opacity="0.65"/><rect x="82" width="1" height="106.5" fill="url(#dp)" opacity="0.65"/><rect x="83" width="1" height="106.5" fill="url(#dp)" opacity="0.65"/><rect x="88" width="1" height="106.5" fill="url(#dp)" opacity="0.65"/><rect x="116" width="1" height="106.5" fill="url(#dp)" opacity="0.30"/><rect x="118" width="1" height="106.5" fill="url(#dp)" opacity="0.30"/><rect x="119" width="1" height="106.5" fill="url(#dp)" opacity="0.30"/><rect x="125" width="1" height="106.5" fill="url(#dp)" opacity="0.30"/><rect x="126" width="1" height="106.5" fill="url(#dp)" opacity="0.30"/><rect x="127" width="1" height="106.5" fill="url(#dp)" opacity="0.30"/><rect x="128" width="1" height="106.5" fill="url(#dp)" opacity="0.30"/><rect width="129" height="106.5" fill="url(#dp)" opacity="0.12"/></g><rect x="0" y="109.50" width="129" height="18.50" fill="#ffda00"/><path fill="#04bcba" d="M49 108.5h1.1v1.1h-1.1z"/><path fill="#06beae" d="M7 108.5h1.1v1.1h-1.1zM12 108.5h1.1v1.1h-1.1zM23 108.5h1.1v1.1h-1.1z"/><path fill="#07c0a3" d="M107 108.5h1.1v1.1h-1.1z"/><path fill="#08c19d" d="M38 108.5h1.1v1.1h-1.1z"/><path fill="#08c298" d="M15 108.5h1.1v1.1h-1.1zM40 108.5h1.1v1.1h-1.1zM63 108.5h1.1v1.1h-1.1zM89 108.5h1.1v1.1h-1.1zM95 108.5h1.1v1.1h-1.1zM115 108.5h1.1v1.1h-1.1zM127 108.5h1.1v1.1h-1.1z"/><path fill="#09c392" d="M69 108.5h1.1v1.1h-1.1zM78 108.5h1.1v1.1h-1.1zM82 108.5h1.1v1.1h-1.1zM88 108.5h1.1v1.1h-1.1z"/><path fill="#0ac48c" d="M25 108.5h1.1v1.1h-1.1zM55 108.5h1.1v1.1h-1.1zM60 108.5h1.1v1.1h-1.1zM61 108.5h1.1v1.1h-1.1zM66 108.5h1.1v1.1h-1.1zM73 108.5h1.1v1.1h-1.1zM76 108.5h1.1v1.1h-1.1zM84 108.5h1.1v1.1h-1.1zM114 108.5h1.1v1.1h-1.1zM123 108.5h1.1v1.1h-1.1zM126 108.5h1.1v1.1h-1.1z"/><path fill="#0ec586" d="M0 108.5h1.1v1.1h-1.1zM28 108.5h1.1v1.1h-1.1zM31 108.5h1.1v1.1h-1.1zM37 108.5h1.1v1.1h-1.1zM81 108.5h1.1v1.1h-1.1zM91 108.5h1.1v1.1h-1.1zM110 108.5h1.1v1.1h-1.1zM112 108.5h1.1v1.1h-1.1zM116 108.5h1.1v1.1h-1.1z"/><path fill="#13c57f" d="M11 108.5h1.1v1.1h-1.1zM18 108.5h1.1v1.1h-1.1zM30 108.5h1.1v1.1h-1.1zM42 108.5h1.1v1.1h-1.1zM48 108.5h1.1v1.1h-1.1zM54 108.5h1.1v1.1h-1.1zM72 108.5h1.1v1.1h-1.1zM87 108.5h1.1v1.1h-1.1zM96 108.5h1.1v1.1h-1.1zM119 108.5h1.1v1.1h-1.1z"/><path fill="#17c679" d="M5 108.5h1.1v1.1h-1.1zM32 108.5h1.1v1.1h-1.1zM44 108.5h1.1v1.1h-1.1zM50 108.5h1.1v1.1h-1.1zM64 108.5h1.1v1.1h-1.1zM93 108.5h1.1v1.1h-1.1z"/><path fill="#1bc673" d="M4 108.5h1.1v1.1h-1.1zM9 108.5h1.1v1.1h-1.1zM34 108.5h1.1v1.1h-1.1zM36 108.5h1.1v1.1h-1.1zM39 108.5h1.1v1.1h-1.1zM41 108.5h1.1v1.1h-1.1zM43 108.5h1.1v1.1h-1.1zM62 108.5h1.1v1.1h-1.1zM83 108.5h1.1v1.1h-1.1zM98 108.5h1.1v1.1h-1.1zM100 108.5h1.1v1.1h-1.1zM111 108.5h1.1v1.1h-1.1z"/><path fill="#1fc76d" d="M6 108.5h1.1v1.1h-1.1zM27 108.5h1.1v1.1h-1.1zM57 108.5h1.1v1.1h-1.1zM71 108.5h1.1v1.1h-1.1zM79 108.5h1.1v1.1h-1.1zM118 108.5h1.1v1.1h-1.1z"/><path fill="#24c766" d="M2 108.5h1.1v1.1h-1.1zM8 108.5h1.1v1.1h-1.1zM16 108.5h1.1v1.1h-1.1zM35 108.5h1.1v1.1h-1.1zM52 108.5h1.1v1.1h-1.1zM58 108.5h1.1v1.1h-1.1zM65 108.5h1.1v1.1h-1.1zM77 108.5h1.1v1.1h-1.1zM94 108.5h1.1v1.1h-1.1zM99 108.5h1.1v1.1h-1.1zM102 108.5h1.1v1.1h-1.1zM122 108.5h1.1v1.1h-1.1zM124 108.5h1.1v1.1h-1.1z"/><path fill="#28c860" d="M22 108.5h1.1v1.1h-1.1zM33 108.5h1.1v1.1h-1.1zM59 108.5h1.1v1.1h-1.1zM70 108.5h1.1v1.1h-1.1zM92 108.5h1.1v1.1h-1.1zM101 108.5h1.1v1.1h-1.1zM103 108.5h1.1v1.1h-1.1zM106 108.5h1.1v1.1h-1.1zM125 108.5h1.1v1.1h-1.1z"/><path fill="#3cc855" d="M11 122.5h1.1v1.1h-1.1zM104 108.5h1.1v1.1h-1.1zM108 108.5h1.1v1.1h-1.1zM109 108.5h1.1v1.1h-1.1z"/><path fill="#50c84a" d="M17 108.5h1.1v1.1h-1.1zM56 108.5h1.1v1.1h-1.1zM67 108.5h1.1v1.1h-1.1zM90 108.5h1.1v1.1h-1.1z"/><path fill="#64c83e" d="M26 123.5h1.1v1.1h-1.1zM85 108.5h1.1v1.1h-1.1zM120 119.5h1.1v1.1h-1.1z"/><path fill="#78c833" d="M125 117.5h1.1v1.1h-1.1z"/><path fill="#8cc828" d="M3 108.5h1.1v1.1h-1.1zM19 108.5h1.1v1.1h-1.1zM24 121.5h1.1v1.1h-1.1zM74 108.5h1.1v1.1h-1.1zM115 120.5h1.1v1.1h-1.1z"/><path fill="#98c625" d="M35 126.5h1.1v1.1h-1.1zM83 119.5h1.1v1.1h-1.1z"/><path fill="#a3c521" d="M19 115.5h1.1v1.1h-1.1zM36 117.5h1.1v1.1h-1.1zM97 108.5h1.1v1.1h-1.1zM101 122.5h1.1v1.1h-1.1z"/><path fill="#afc31e" d="M1 108.5h1.1v1.1h-1.1zM45 120.5h1.1v1.1h-1.1zM53 108.5h1.1v1.1h-1.1z"/><path fill="#bbc11b" d="M21 123.5h1.1v1.1h-1.1zM68 108.5h1.1v1.1h-1.1zM80 123.5h1.1v1.1h-1.1zM89 124.5h1.1v1.1h-1.1zM117 108.5h1.1v1.1h-1.1zM125 127.5h1.1v0.6h-1.1z"/><path fill="#c6c017" d="M10 126.5h1.1v1.1h-1.1zM28 121.5h1.1v1.1h-1.1zM54 114.5h1.1v1.1h-1.1zM61 116.5h1.1v1.1h-1.1zM73 124.5h1.1v1.1h-1.1zM98 114.5h1.1v1.1h-1.1zM103 114.5h1.1v1.1h-1.1zM108 115.5h1.1v1.1h-1.1zM118 119.5h1.1v1.1h-1.1z"/><path fill="#d2be14" d="M9 123.5h1.1v1.1h-1.1zM10 108.5h1.1v1.1h-1.1zM14 108.5h1.1v1.1h-1.1zM17 124.5h1.1v1.1h-1.1zM20 108.5h1.1v1.1h-1.1zM21 108.5h1.1v1.1h-1.1zM37 119.5h1.1v1.1h-1.1zM51 116.5h1.1v1.1h-1.1zM64 122.5h1.1v1.1h-1.1zM65 119.5h1.1v1.1h-1.1zM71 127.5h1.1v0.6h-1.1zM79 126.5h1.1v1.1h-1.1zM99 124.5h1.1v1.1h-1.1zM111 122.5h1.1v1.1h-1.1z"/><path fill="#d8bc15" d="M24 108.5h1.1v1.1h-1.1zM47 108.5h1.1v1.1h-1.1zM51 118.5h1.1v1.1h-1.1zM56 119.5h1.1v1.1h-1.1zM69 113.5h1.1v1.1h-1.1zM86 124.5h1.1v1.1h-1.1zM114 124.5h1.1v1.1h-1.1zM126 116.5h1.1v1.1h-1.1zM128 108.5h1.1v1.1h-1.1z"/><path fill="#ddbb17" d="M0 127.5h1.1v0.6h-1.1zM12 111.5h1.1v1.1h-1.1zM18 115.5h1.1v1.1h-1.1zM21 122.5h1.1v1.1h-1.1zM26 108.5h1.1v1.1h-1.1zM33 109.5h1.1v1.1h-1.1zM49 125.5h1.1v1.1h-1.1zM51 108.5h1.1v1.1h-1.1zM55 127.5h1.1v0.6h-1.1zM64 127.5h1.1v0.6h-1.1zM65 123.5h1.1v1.1h-1.1zM66 113.5h1.1v1.1h-1.1zM79 113.5h1.1v1.1h-1.1zM84 125.5h1.1v1.1h-1.1zM90 118.5h1.1v1.1h-1.1zM107 121.5h1.1v1.1h-1.1zM120 108.5h1.1v1.1h-1.1z"/><path fill="#e3b918" d="M7 117.5h1.1v1.1h-1.1zM15 121.5h1.1v1.1h-1.1zM29 110.5h1.1v1.1h-1.1zM46 110.5h1.1v1.1h-1.1zM59 124.5h1.1v1.1h-1.1zM86 108.5h1.1v1.1h-1.1zM102 126.5h1.1v1.1h-1.1zM116 109.5h1.1v1.1h-1.1zM123 125.5h1.1v1.1h-1.1z"/><path fill="#e9b71a" d="M14 109.5h1.1v1.1h-1.1zM15 109.5h1.1v1.1h-1.1zM46 108.5h1.1v1.1h-1.1zM50 127.5h1.1v0.6h-1.1zM50 123.5h1.1v1.1h-1.1zM52 119.5h1.1v1.1h-1.1zM80 108.5h1.1v1.1h-1.1zM85 124.5h1.1v1.1h-1.1zM114 113.5h1.1v1.1h-1.1zM128 117.5h1.1v1.1h-1.1z"/><path fill="#efb51b" d="M3 109.5h1.1v1.1h-1.1zM5 112.5h1.1v1.1h-1.1zM25 110.5h1.1v1.1h-1.1zM28 109.5h1.1v1.1h-1.1zM29 108.5h1.1v1.1h-1.1zM30 110.5h1.1v1.1h-1.1zM34 111.5h1.1v1.1h-1.1zM35 110.5h1.1v1.1h-1.1zM41 111.5h1.1v1.1h-1.1zM64 109.5h1.1v1.1h-1.1zM65 109.5h1.1v1.1h-1.1zM74 113.5h1.1v1.1h-1.1zM88 109.5h1.1v1.1h-1.1zM92 112.5h1.1v1.1h-1.1zM92 109.5h1.1v1.1h-1.1zM96 110.5h1.1v1.1h-1.1zM104 109.5h1.1v1.1h-1.1zM108 121.5h1.1v1.1h-1.1zM121 108.5h1.1v1.1h-1.1zM124 109.5h1.1v1.1h-1.1z"/><path fill="#f4b41d" d="M13 108.5h1.1v1.1h-1.1zM22 109.5h1.1v1.1h-1.1zM25 109.5h1.1v1.1h-1.1zM32 114.5h1.1v1.1h-1.1zM32 109.5h1.1v1.1h-1.1zM45 109.5h1.1v1.1h-1.1zM52 123.5h1.1v1.1h-1.1zM57 109.5h1.1v1.1h-1.1zM59 109.5h1.1v1.1h-1.1zM74 121.5h1.1v1.1h-1.1zM76 109.5h1.1v1.1h-1.1zM77 121.5h1.1v1.1h-1.1zM82 122.5h1.1v1.1h-1.1zM92 111.5h1.1v1.1h-1.1zM93 109.5h1.1v1.1h-1.1zM94 109.5h1.1v1.1h-1.1zM95 110.5h1.1v1.1h-1.1zM96 121.5h1.1v1.1h-1.1zM99 111.5h1.1v1.1h-1.1zM100 109.5h1.1v1.1h-1.1zM103 127.5h1.1v0.6h-1.1zM112 109.5h1.1v1.1h-1.1zM113 108.5h1.1v1.1h-1.1zM115 113.5h1.1v1.1h-1.1zM118 110.5h1.1v1.1h-1.1zM123 109.5h1.1v1.1h-1.1zM126 124.5h1.1v1.1h-1.1zM126 112.5h1.1v1.1h-1.1zM126 110.5h1.1v1.1h-1.1z"/><path fill="#fab21e" d="M0 109.5h1.1v1.1h-1.1zM2 109.5h1.1v1.1h-1.1zM8 114.5h1.1v1.1h-1.1zM11 111.5h1.1v1.1h-1.1zM11 109.5h1.1v1.1h-1.1zM24 117.5h1.1v1.1h-1.1zM27 109.5h1.1v1.1h-1.1zM29 109.5h1.1v1.1h-1.1zM31 110.5h1.1v1.1h-1.1zM32 113.5h1.1v1.1h-1.1zM34 119.5h1.1v1.1h-1.1zM35 111.5h1.1v1.1h-1.1zM37 109.5h1.1v1.1h-1.1zM41 109.5h1.1v1.1h-1.1zM45 110.5h1.1v1.1h-1.1zM50 126.5h1.1v1.1h-1.1zM61 110.5h1.1v1.1h-1.1zM61 109.5h1.1v1.1h-1.1zM65 116.5h1.1v1.1h-1.1zM66 109.5h1.1v1.1h-1.1zM75 120.5h1.1v1.1h-1.1zM80 122.5h1.1v1.1h-1.1zM85 109.5h1.1v1.1h-1.1zM87 109.5h1.1v1.1h-1.1zM88 127.5h1.1v0.6h-1.1zM88 110.5h1.1v1.1h-1.1zM91 109.5h1.1v1.1h-1.1zM95 118.5h1.1v1.1h-1.1zM95 109.5h1.1v1.1h-1.1zM96 109.5h1.1v1.1h-1.1zM98 112.5h1.1v1.1h-1.1zM99 110.5h1.1v1.1h-1.1zM99 109.5h1.1v1.1h-1.1zM100 111.5h1.1v1.1h-1.1zM101 109.5h1.1v1.1h-1.1zM104 114.5h1.1v1.1h-1.1zM107 118.5h1.1v1.1h-1.1zM110 110.5h1.1v1.1h-1.1zM111 111.5h1.1v1.1h-1.1zM111 109.5h1.1v1.1h-1.1zM114 109.5h1.1v1.1h-1.1zM116 110.5h1.1v1.1h-1.1zM119 110.5h1.1v1.1h-1.1zM124 120.5h1.1v1.1h-1.1zM125 109.5h1.1v1.1h-1.1zM126 111.5h1.1v1.1h-1.1zM127 109.5h1.1v1.1h-1.1zM128 111.5h1.1v1.1h-1.1zM128 109.5h1.1v1.1h-1.1z"/><path fill="#fcb51b" d="M3 112.5h1.1v1.1h-1.1zM7 125.5h1.1v1.1h-1.1zM8 109.5h1.1v1.1h-1.1zM9 112.5h1.1v1.1h-1.1zM9 109.5h1.1v1.1h-1.1zM10 112.5h1.1v1.1h-1.1zM11 112.5h1.1v1.1h-1.1zM12 110.5h1.1v1.1h-1.1zM16 109.5h1.1v1.1h-1.1zM17 121.5h1.1v1.1h-1.1zM17 109.5h1.1v1.1h-1.1zM19 109.5h1.1v1.1h-1.1zM26 111.5h1.1v1.1h-1.1zM26 109.5h1.1v1.1h-1.1zM31 114.5h1.1v1.1h-1.1zM34 109.5h1.1v1.1h-1.1zM39 110.5h1.1v1.1h-1.1zM40 110.5h1.1v1.1h-1.1zM41 116.5h1.1v1.1h-1.1zM41 110.5h1.1v1.1h-1.1zM42 111.5h1.1v1.1h-1.1zM44 109.5h1.1v1.1h-1.1zM45 108.5h1.1v1.1h-1.1zM46 109.5h1.1v1.1h-1.1zM47 119.5h1.1v1.1h-1.1zM47 112.5h1.1v1.1h-1.1zM47 110.5h1.1v1.1h-1.1zM48 112.5h1.1v1.1h-1.1zM50 122.5h1.1v1.1h-1.1zM58 109.5h1.1v1.1h-1.1zM61 111.5h1.1v1.1h-1.1zM63 109.5h1.1v1.1h-1.1zM67 110.5h1.1v1.1h-1.1zM71 109.5h1.1v1.1h-1.1zM73 112.5h1.1v1.1h-1.1zM73 110.5h1.1v1.1h-1.1zM74 120.5h1.1v1.1h-1.1zM74 109.5h1.1v1.1h-1.1zM76 122.5h1.1v1.1h-1.1zM77 112.5h1.1v1.1h-1.1zM81 121.5h1.1v1.1h-1.1zM83 123.5h1.1v1.1h-1.1zM87 122.5h1.1v1.1h-1.1zM90 127.5h1.1v0.6h-1.1zM96 111.5h1.1v1.1h-1.1zM103 109.5h1.1v1.1h-1.1zM106 109.5h1.1v1.1h-1.1zM108 109.5h1.1v1.1h-1.1zM112 112.5h1.1v1.1h-1.1zM118 109.5h1.1v1.1h-1.1zM122 110.5h1.1v1.1h-1.1zM122 109.5h1.1v1.1h-1.1zM126 114.5h1.1v1.1h-1.1z"/><path fill="#fdb917" d="M1 111.5h1.1v1.1h-1.1zM1 109.5h1.1v1.1h-1.1zM2 124.5h1.1v1.1h-1.1zM3 111.5h1.1v1.1h-1.1zM5 111.5h1.1v1.1h-1.1zM10 110.5h1.1v1.1h-1.1zM11 110.5h1.1v1.1h-1.1zM12 118.5h1.1v1.1h-1.1zM12 109.5h1.1v1.1h-1.1zM13 111.5h1.1v1.1h-1.1zM15 110.5h1.1v1.1h-1.1zM18 109.5h1.1v1.1h-1.1zM20 121.5h1.1v1.1h-1.1zM20 109.5h1.1v1.1h-1.1zM21 109.5h1.1v1.1h-1.1zM22 115.5h1.1v1.1h-1.1zM24 110.5h1.1v1.1h-1.1zM25 111.5h1.1v1.1h-1.1zM26 110.5h1.1v1.1h-1.1zM27 112.5h1.1v1.1h-1.1zM27 110.5h1.1v1.1h-1.1zM30 109.5h1.1v1.1h-1.1zM33 110.5h1.1v1.1h-1.1zM34 110.5h1.1v1.1h-1.1zM38 111.5h1.1v1.1h-1.1zM38 109.5h1.1v1.1h-1.1zM40 109.5h1.1v1.1h-1.1zM42 110.5h1.1v1.1h-1.1zM43 111.5h1.1v1.1h-1.1zM47 109.5h1.1v1.1h-1.1zM48 113.5h1.1v1.1h-1.1zM53 115.5h1.1v1.1h-1.1zM53 114.5h1.1v1.1h-1.1zM54 109.5h1.1v1.1h-1.1zM60 109.5h1.1v1.1h-1.1zM62 109.5h1.1v1.1h-1.1zM63 112.5h1.1v1.1h-1.1zM67 109.5h1.1v1.1h-1.1zM68 111.5h1.1v1.1h-1.1zM69 118.5h1.1v1.1h-1.1zM72 110.5h1.1v1.1h-1.1zM75 109.5h1.1v1.1h-1.1zM89 117.5h1.1v1.1h-1.1zM90 109.5h1.1v1.1h-1.1zM92 110.5h1.1v1.1h-1.1zM93 112.5h1.1v1.1h-1.1zM94 110.5h1.1v1.1h-1.1zM96 113.5h1.1v1.1h-1.1zM98 116.5h1.1v1.1h-1.1zM100 116.5h1.1v1.1h-1.1zM100 112.5h1.1v1.1h-1.1zM102 109.5h1.1v1.1h-1.1zM103 120.5h1.1v1.1h-1.1zM109 111.5h1.1v1.1h-1.1zM110 109.5h1.1v1.1h-1.1zM112 110.5h1.1v1.1h-1.1zM113 109.5h1.1v1.1h-1.1zM115 111.5h1.1v1.1h-1.1zM119 109.5h1.1v1.1h-1.1zM122 116.5h1.1v1.1h-1.1zM123 110.5h1.1v1.1h-1.1zM125 120.5h1.1v1.1h-1.1zM126 109.5h1.1v1.1h-1.1zM127 110.5h1.1v1.1h-1.1z"/><path fill="#ffbc14" d="M2 123.5h1.1v1.1h-1.1zM3 110.5h1.1v1.1h-1.1zM4 111.5h1.1v1.1h-1.1zM4 110.5h1.1v1.1h-1.1zM5 113.5h1.1v1.1h-1.1zM9 117.5h1.1v1.1h-1.1zM9 114.5h1.1v1.1h-1.1zM9 113.5h1.1v1.1h-1.1zM10 109.5h1.1v1.1h-1.1zM12 124.5h1.1v1.1h-1.1zM13 110.5h1.1v1.1h-1.1zM17 122.5h1.1v1.1h-1.1zM18 111.5h1.1v1.1h-1.1zM21 125.5h1.1v1.1h-1.1zM23 117.5h1.1v1.1h-1.1zM24 118.5h1.1v1.1h-1.1zM27 113.5h1.1v1.1h-1.1zM27 111.5h1.1v1.1h-1.1zM28 111.5h1.1v1.1h-1.1zM28 110.5h1.1v1.1h-1.1zM31 109.5h1.1v1.1h-1.1zM33 111.5h1.1v1.1h-1.1zM35 121.5h1.1v1.1h-1.1zM35 109.5h1.1v1.1h-1.1zM36 111.5h1.1v1.1h-1.1zM36 110.5h1.1v1.1h-1.1zM39 109.5h1.1v1.1h-1.1zM40 116.5h1.1v1.1h-1.1zM40 111.5h1.1v1.1h-1.1zM41 112.5h1.1v1.1h-1.1zM43 110.5h1.1v1.1h-1.1zM44 117.5h1.1v1.1h-1.1zM47 114.5h1.1v1.1h-1.1zM48 109.5h1.1v1.1h-1.1zM49 109.5h1.1v1.1h-1.1zM51 125.5h1.1v1.1h-1.1zM53 109.5h1.1v1.1h-1.1zM54 127.5h1.1v0.6h-1.1zM56 109.5h1.1v1.1h-1.1zM58 110.5h1.1v1.1h-1.1zM59 110.5h1.1v1.1h-1.1zM64 125.5h1.1v1.1h-1.1zM66 126.5h1.1v1.1h-1.1zM66 125.5h1.1v1.1h-1.1zM67 125.5h1.1v1.1h-1.1zM68 110.5h1.1v1.1h-1.1zM70 109.5h1.1v1.1h-1.1zM73 111.5h1.1v1.1h-1.1zM73 109.5h1.1v1.1h-1.1zM74 110.5h1.1v1.1h-1.1zM75 108.5h1.1v1.1h-1.1zM76 121.5h1.1v1.1h-1.1zM77 109.5h1.1v1.1h-1.1zM79 109.5h1.1v1.1h-1.1zM80 109.5h1.1v1.1h-1.1zM81 123.5h1.1v1.1h-1.1zM81 110.5h1.1v1.1h-1.1zM84 123.5h1.1v1.1h-1.1zM84 109.5h1.1v1.1h-1.1zM86 109.5h1.1v1.1h-1.1zM89 110.5h1.1v1.1h-1.1zM91 111.5h1.1v1.1h-1.1zM91 110.5h1.1v1.1h-1.1zM93 110.5h1.1v1.1h-1.1zM94 116.5h1.1v1.1h-1.1zM97 110.5h1.1v1.1h-1.1zM97 109.5h1.1v1.1h-1.1zM98 109.5h1.1v1.1h-1.1zM100 110.5h1.1v1.1h-1.1zM102 122.5h1.1v1.1h-1.1zM105 109.5h1.1v1.1h-1.1zM105 108.5h1.1v1.1h-1.1zM107 109.5h1.1v1.1h-1.1zM109 110.5h1.1v1.1h-1.1zM109 109.5h1.1v1.1h-1.1zM110 112.5h1.1v1.1h-1.1zM111 126.5h1.1v1.1h-1.1zM111 110.5h1.1v1.1h-1.1zM113 119.5h1.1v1.1h-1.1zM115 114.5h1.1v1.1h-1.1zM117 111.5h1.1v1.1h-1.1zM117 110.5h1.1v1.1h-1.1zM117 109.5h1.1v1.1h-1.1zM119 124.5h1.1v1.1h-1.1zM124 110.5h1.1v1.1h-1.1zM127 111.5h1.1v1.1h-1.1z"/><path fill="#ffbf11" d="M0 123.5h1.1v1.1h-1.1zM4 109.5h1.1v1.1h-1.1zM5 119.5h1.1v1.1h-1.1zM5 118.5h1.1v1.1h-1.1zM7 124.5h1.1v1.1h-1.1zM7 114.5h1.1v1.1h-1.1zM7 109.5h1.1v1.1h-1.1zM9 111.5h1.1v1.1h-1.1zM11 120.5h1.1v1.1h-1.1zM11 118.5h1.1v1.1h-1.1zM14 111.5h1.1v1.1h-1.1zM14 110.5h1.1v1.1h-1.1zM15 123.5h1.1v1.1h-1.1zM16 127.5h1.1v0.6h-1.1zM16 121.5h1.1v1.1h-1.1zM17 112.5h1.1v1.1h-1.1zM18 113.5h1.1v1.1h-1.1zM18 112.5h1.1v1.1h-1.1zM21 121.5h1.1v1.1h-1.1zM23 116.5h1.1v1.1h-1.1zM23 110.5h1.1v1.1h-1.1zM24 109.5h1.1v1.1h-1.1zM29 111.5h1.1v1.1h-1.1zM30 111.5h1.1v1.1h-1.1zM32 110.5h1.1v1.1h-1.1zM35 119.5h1.1v1.1h-1.1zM36 109.5h1.1v1.1h-1.1zM37 110.5h1.1v1.1h-1.1zM39 111.5h1.1v1.1h-1.1zM41 117.5h1.1v1.1h-1.1zM42 109.5h1.1v1.1h-1.1zM43 109.5h1.1v1.1h-1.1zM46 114.5h1.1v1.1h-1.1zM46 113.5h1.1v1.1h-1.1zM47 125.5h1.1v1.1h-1.1zM49 123.5h1.1v1.1h-1.1zM53 126.5h1.1v1.1h-1.1zM54 126.5h1.1v1.1h-1.1zM56 125.5h1.1v1.1h-1.1zM56 124.5h1.1v1.1h-1.1zM60 110.5h1.1v1.1h-1.1zM62 111.5h1.1v1.1h-1.1zM63 110.5h1.1v1.1h-1.1zM66 115.5h1.1v1.1h-1.1zM66 110.5h1.1v1.1h-1.1zM68 118.5h1.1v1.1h-1.1zM68 109.5h1.1v1.1h-1.1zM70 116.5h1.1v1.1h-1.1zM70 111.5h1.1v1.1h-1.1zM74 114.5h1.1v1.1h-1.1zM74 111.5h1.1v1.1h-1.1zM75 114.5h1.1v1.1h-1.1zM75 113.5h1.1v1.1h-1.1zM75 110.5h1.1v1.1h-1.1zM76 120.5h1.1v1.1h-1.1zM76 110.5h1.1v1.1h-1.1zM80 116.5h1.1v1.1h-1.1zM81 109.5h1.1v1.1h-1.1zM82 112.5h1.1v1.1h-1.1zM82 109.5h1.1v1.1h-1.1zM87 127.5h1.1v0.6h-1.1zM87 110.5h1.1v1.1h-1.1zM89 109.5h1.1v1.1h-1.1zM90 124.5h1.1v1.1h-1.1zM90 110.5h1.1v1.1h-1.1zM93 111.5h1.1v1.1h-1.1zM97 111.5h1.1v1.1h-1.1zM98 111.5h1.1v1.1h-1.1zM98 110.5h1.1v1.1h-1.1zM99 112.5h1.1v1.1h-1.1zM100 126.5h1.1v1.1h-1.1zM100 121.5h1.1v1.1h-1.1zM100 117.5h1.1v1.1h-1.1zM103 110.5h1.1v1.1h-1.1zM104 119.5h1.1v1.1h-1.1zM104 110.5h1.1v1.1h-1.1zM113 112.5h1.1v1.1h-1.1zM114 120.5h1.1v1.1h-1.1zM114 114.5h1.1v1.1h-1.1zM117 117.5h1.1v1.1h-1.1zM120 124.5h1.1v1.1h-1.1zM120 109.5h1.1v1.1h-1.1zM121 109.5h1.1v1.1h-1.1zM122 114.5h1.1v1.1h-1.1zM122 111.5h1.1v1.1h-1.1zM125 111.5h1.1v1.1h-1.1zM125 110.5h1.1v1.1h-1.1zM128 110.5h1.1v1.1h-1.1z"/><path fill="#ffc30e" d="M0 111.5h1.1v1.1h-1.1zM0 110.5h1.1v1.1h-1.1zM4 115.5h1.1v1.1h-1.1zM6 112.5h1.1v1.1h-1.1zM6 109.5h1.1v1.1h-1.1zM7 112.5h1.1v1.1h-1.1zM7 111.5h1.1v1.1h-1.1zM8 110.5h1.1v1.1h-1.1zM10 120.5h1.1v1.1h-1.1zM10 111.5h1.1v1.1h-1.1zM11 119.5h1.1v1.1h-1.1zM13 109.5h1.1v1.1h-1.1zM16 110.5h1.1v1.1h-1.1zM17 110.5h1.1v1.1h-1.1zM19 110.5h1.1v1.1h-1.1zM23 115.5h1.1v1.1h-1.1zM23 109.5h1.1v1.1h-1.1zM24 122.5h1.1v1.1h-1.1zM24 116.5h1.1v1.1h-1.1zM25 119.5h1.1v1.1h-1.1zM29 127.5h1.1v0.6h-1.1zM29 123.5h1.1v1.1h-1.1zM34 125.5h1.1v1.1h-1.1zM34 122.5h1.1v1.1h-1.1zM35 120.5h1.1v1.1h-1.1zM36 120.5h1.1v1.1h-1.1zM37 111.5h1.1v1.1h-1.1zM38 110.5h1.1v1.1h-1.1zM39 116.5h1.1v1.1h-1.1zM39 115.5h1.1v1.1h-1.1zM40 118.5h1.1v1.1h-1.1zM42 112.5h1.1v1.1h-1.1zM44 111.5h1.1v1.1h-1.1zM45 111.5h1.1v1.1h-1.1zM46 111.5h1.1v1.1h-1.1zM49 111.5h1.1v1.1h-1.1zM50 124.5h1.1v1.1h-1.1zM50 110.5h1.1v1.1h-1.1zM50 109.5h1.1v1.1h-1.1zM51 126.5h1.1v1.1h-1.1zM51 109.5h1.1v1.1h-1.1zM52 124.5h1.1v1.1h-1.1zM52 114.5h1.1v1.1h-1.1zM52 109.5h1.1v1.1h-1.1zM57 111.5h1.1v1.1h-1.1zM59 112.5h1.1v1.1h-1.1zM62 112.5h1.1v1.1h-1.1zM62 110.5h1.1v1.1h-1.1zM63 111.5h1.1v1.1h-1.1zM65 110.5h1.1v1.1h-1.1zM69 109.5h1.1v1.1h-1.1zM71 112.5h1.1v1.1h-1.1zM71 111.5h1.1v1.1h-1.1zM72 109.5h1.1v1.1h-1.1zM73 123.5h1.1v1.1h-1.1zM74 119.5h1.1v1.1h-1.1zM75 112.5h1.1v1.1h-1.1zM76 111.5h1.1v1.1h-1.1zM77 110.5h1.1v1.1h-1.1zM79 123.5h1.1v1.1h-1.1zM79 112.5h1.1v1.1h-1.1zM81 111.5h1.1v1.1h-1.1zM82 121.5h1.1v1.1h-1.1zM86 110.5h1.1v1.1h-1.1zM88 116.5h1.1v1.1h-1.1zM88 111.5h1.1v1.1h-1.1zM91 123.5h1.1v1.1h-1.1zM93 125.5h1.1v1.1h-1.1zM99 121.5h1.1v1.1h-1.1zM99 116.5h1.1v1.1h-1.1zM100 122.5h1.1v1.1h-1.1zM100 118.5h1.1v1.1h-1.1zM103 121.5h1.1v1.1h-1.1zM103 118.5h1.1v1.1h-1.1zM106 110.5h1.1v1.1h-1.1zM108 120.5h1.1v1.1h-1.1zM115 110.5h1.1v1.1h-1.1zM115 109.5h1.1v1.1h-1.1zM116 112.5h1.1v1.1h-1.1zM119 125.5h1.1v1.1h-1.1zM120 111.5h1.1v1.1h-1.1zM121 126.5h1.1v1.1h-1.1zM121 118.5h1.1v1.1h-1.1zM121 113.5h1.1v1.1h-1.1zM121 111.5h1.1v1.1h-1.1zM122 127.5h1.1v0.6h-1.1zM122 117.5h1.1v1.1h-1.1zM123 121.5h1.1v1.1h-1.1zM123 112.5h1.1v1.1h-1.1zM124 111.5h1.1v1.1h-1.1zM127 114.5h1.1v1.1h-1.1z"/><path fill="#ffc60b" d="M0 112.5h1.1v1.1h-1.1zM1 122.5h1.1v1.1h-1.1zM2 112.5h1.1v1.1h-1.1zM4 112.5h1.1v1.1h-1.1zM5 109.5h1.1v1.1h-1.1zM6 114.5h1.1v1.1h-1.1zM6 111.5h1.1v1.1h-1.1zM7 123.5h1.1v1.1h-1.1zM8 124.5h1.1v1.1h-1.1zM8 111.5h1.1v1.1h-1.1zM9 110.5h1.1v1.1h-1.1zM12 120.5h1.1v1.1h-1.1zM15 122.5h1.1v1.1h-1.1zM16 112.5h1.1v1.1h-1.1zM19 121.5h1.1v1.1h-1.1zM19 111.5h1.1v1.1h-1.1zM24 123.5h1.1v1.1h-1.1zM24 111.5h1.1v1.1h-1.1zM25 112.5h1.1v1.1h-1.1zM30 117.5h1.1v1.1h-1.1zM31 122.5h1.1v1.1h-1.1zM31 112.5h1.1v1.1h-1.1zM33 121.5h1.1v1.1h-1.1zM34 127.5h1.1v0.6h-1.1zM34 118.5h1.1v1.1h-1.1zM36 121.5h1.1v1.1h-1.1zM46 127.5h1.1v0.6h-1.1zM46 124.5h1.1v1.1h-1.1zM46 120.5h1.1v1.1h-1.1zM46 118.5h1.1v1.1h-1.1zM47 111.5h1.1v1.1h-1.1zM48 114.5h1.1v1.1h-1.1zM48 110.5h1.1v1.1h-1.1zM49 124.5h1.1v1.1h-1.1zM49 113.5h1.1v1.1h-1.1zM51 124.5h1.1v1.1h-1.1zM52 115.5h1.1v1.1h-1.1zM55 117.5h1.1v1.1h-1.1zM55 109.5h1.1v1.1h-1.1zM56 111.5h1.1v1.1h-1.1zM56 110.5h1.1v1.1h-1.1zM57 124.5h1.1v1.1h-1.1zM57 110.5h1.1v1.1h-1.1zM58 121.5h1.1v1.1h-1.1zM58 111.5h1.1v1.1h-1.1zM59 123.5h1.1v1.1h-1.1zM64 113.5h1.1v1.1h-1.1zM64 110.5h1.1v1.1h-1.1zM66 111.5h1.1v1.1h-1.1zM67 114.5h1.1v1.1h-1.1zM67 111.5h1.1v1.1h-1.1zM68 117.5h1.1v1.1h-1.1zM69 110.5h1.1v1.1h-1.1zM70 117.5h1.1v1.1h-1.1zM70 110.5h1.1v1.1h-1.1zM72 124.5h1.1v1.1h-1.1zM73 113.5h1.1v1.1h-1.1zM74 124.5h1.1v1.1h-1.1zM75 111.5h1.1v1.1h-1.1zM76 127.5h1.1v0.6h-1.1zM78 112.5h1.1v1.1h-1.1zM78 109.5h1.1v1.1h-1.1zM80 113.5h1.1v1.1h-1.1zM83 110.5h1.1v1.1h-1.1zM84 122.5h1.1v1.1h-1.1zM85 123.5h1.1v1.1h-1.1zM85 121.5h1.1v1.1h-1.1zM85 110.5h1.1v1.1h-1.1zM86 115.5h1.1v1.1h-1.1zM86 111.5h1.1v1.1h-1.1zM87 111.5h1.1v1.1h-1.1zM88 126.5h1.1v1.1h-1.1zM89 125.5h1.1v1.1h-1.1zM90 126.5h1.1v1.1h-1.1zM91 112.5h1.1v1.1h-1.1zM95 111.5h1.1v1.1h-1.1zM98 125.5h1.1v1.1h-1.1zM101 118.5h1.1v1.1h-1.1zM101 110.5h1.1v1.1h-1.1zM102 127.5h1.1v0.6h-1.1zM102 125.5h1.1v1.1h-1.1zM102 110.5h1.1v1.1h-1.1zM103 126.5h1.1v1.1h-1.1zM103 122.5h1.1v1.1h-1.1zM105 122.5h1.1v1.1h-1.1zM105 111.5h1.1v1.1h-1.1zM108 122.5h1.1v1.1h-1.1zM108 119.5h1.1v1.1h-1.1zM108 111.5h1.1v1.1h-1.1zM108 110.5h1.1v1.1h-1.1zM110 111.5h1.1v1.1h-1.1zM111 118.5h1.1v1.1h-1.1zM112 111.5h1.1v1.1h-1.1zM113 111.5h1.1v1.1h-1.1zM114 110.5h1.1v1.1h-1.1zM115 112.5h1.1v1.1h-1.1zM116 111.5h1.1v1.1h-1.1zM125 113.5h1.1v1.1h-1.1zM127 127.5h1.1v0.6h-1.1z"/><path fill="#ffca09" d="M1 123.5h1.1v1.1h-1.1zM1 112.5h1.1v1.1h-1.1zM1 110.5h1.1v1.1h-1.1zM2 111.5h1.1v1.1h-1.1zM2 110.5h1.1v1.1h-1.1zM4 120.5h1.1v1.1h-1.1zM4 114.5h1.1v1.1h-1.1zM6 127.5h1.1v0.6h-1.1zM9 122.5h1.1v1.1h-1.1zM9 121.5h1.1v1.1h-1.1zM10 113.5h1.1v1.1h-1.1zM11 125.5h1.1v1.1h-1.1zM12 117.5h1.1v1.1h-1.1zM14 127.5h1.1v0.6h-1.1zM16 120.5h1.1v1.1h-1.1zM17 126.5h1.1v1.1h-1.1zM17 120.5h1.1v1.1h-1.1zM18 121.5h1.1v1.1h-1.1zM18 110.5h1.1v1.1h-1.1zM19 125.5h1.1v1.1h-1.1zM19 113.5h1.1v1.1h-1.1zM20 110.5h1.1v1.1h-1.1zM21 110.5h1.1v1.1h-1.1zM23 111.5h1.1v1.1h-1.1zM26 116.5h1.1v1.1h-1.1zM28 112.5h1.1v1.1h-1.1zM30 118.5h1.1v1.1h-1.1zM31 119.5h1.1v1.1h-1.1zM31 111.5h1.1v1.1h-1.1zM34 120.5h1.1v1.1h-1.1zM34 112.5h1.1v1.1h-1.1zM35 125.5h1.1v1.1h-1.1zM35 123.5h1.1v1.1h-1.1zM37 122.5h1.1v1.1h-1.1zM38 121.5h1.1v1.1h-1.1zM49 115.5h1.1v1.1h-1.1zM49 112.5h1.1v1.1h-1.1zM50 125.5h1.1v1.1h-1.1zM50 121.5h1.1v1.1h-1.1zM51 127.5h1.1v0.6h-1.1zM51 119.5h1.1v1.1h-1.1zM54 115.5h1.1v1.1h-1.1zM55 110.5h1.1v1.1h-1.1zM58 125.5h1.1v1.1h-1.1zM60 126.5h1.1v1.1h-1.1zM61 118.5h1.1v1.1h-1.1zM63 116.5h1.1v1.1h-1.1zM65 126.5h1.1v1.1h-1.1zM66 123.5h1.1v1.1h-1.1zM68 113.5h1.1v1.1h-1.1zM69 117.5h1.1v1.1h-1.1zM72 112.5h1.1v1.1h-1.1zM72 111.5h1.1v1.1h-1.1zM73 118.5h1.1v1.1h-1.1zM74 112.5h1.1v1.1h-1.1zM77 111.5h1.1v1.1h-1.1zM79 119.5h1.1v1.1h-1.1zM79 115.5h1.1v1.1h-1.1zM79 111.5h1.1v1.1h-1.1zM80 119.5h1.1v1.1h-1.1zM80 117.5h1.1v1.1h-1.1zM81 117.5h1.1v1.1h-1.1zM81 112.5h1.1v1.1h-1.1zM83 120.5h1.1v1.1h-1.1zM83 111.5h1.1v1.1h-1.1zM83 109.5h1.1v1.1h-1.1zM84 111.5h1.1v1.1h-1.1zM88 124.5h1.1v1.1h-1.1zM88 114.5h1.1v1.1h-1.1zM89 127.5h1.1v0.6h-1.1zM95 121.5h1.1v1.1h-1.1zM95 117.5h1.1v1.1h-1.1zM100 124.5h1.1v1.1h-1.1zM101 126.5h1.1v1.1h-1.1zM101 125.5h1.1v1.1h-1.1zM101 124.5h1.1v1.1h-1.1zM104 121.5h1.1v1.1h-1.1zM105 110.5h1.1v1.1h-1.1zM109 112.5h1.1v1.1h-1.1zM113 116.5h1.1v1.1h-1.1zM114 119.5h1.1v1.1h-1.1zM114 112.5h1.1v1.1h-1.1zM120 117.5h1.1v1.1h-1.1zM120 116.5h1.1v1.1h-1.1zM121 125.5h1.1v1.1h-1.1zM121 110.5h1.1v1.1h-1.1z"/><path fill="#ffcd06" d="M2 122.5h1.1v1.1h-1.1zM5 115.5h1.1v1.1h-1.1zM6 115.5h1.1v1.1h-1.1zM7 110.5h1.1v1.1h-1.1zM10 121.5h1.1v1.1h-1.1zM10 118.5h1.1v1.1h-1.1zM11 113.5h1.1v1.1h-1.1zM12 116.5h1.1v1.1h-1.1zM13 124.5h1.1v1.1h-1.1zM16 119.5h1.1v1.1h-1.1zM17 113.5h1.1v1.1h-1.1zM18 125.5h1.1v1.1h-1.1zM19 119.5h1.1v1.1h-1.1zM20 120.5h1.1v1.1h-1.1zM21 120.5h1.1v1.1h-1.1zM26 117.5h1.1v1.1h-1.1zM26 112.5h1.1v1.1h-1.1zM28 124.5h1.1v1.1h-1.1zM29 126.5h1.1v1.1h-1.1zM30 119.5h1.1v1.1h-1.1zM31 113.5h1.1v1.1h-1.1zM33 126.5h1.1v1.1h-1.1zM33 118.5h1.1v1.1h-1.1zM33 114.5h1.1v1.1h-1.1zM33 113.5h1.1v1.1h-1.1zM35 112.5h1.1v1.1h-1.1zM37 120.5h1.1v1.1h-1.1zM38 112.5h1.1v1.1h-1.1zM39 121.5h1.1v1.1h-1.1zM39 119.5h1.1v1.1h-1.1zM39 117.5h1.1v1.1h-1.1zM39 112.5h1.1v1.1h-1.1zM40 122.5h1.1v1.1h-1.1zM40 112.5h1.1v1.1h-1.1zM44 110.5h1.1v1.1h-1.1zM45 116.5h1.1v1.1h-1.1zM46 125.5h1.1v1.1h-1.1zM46 123.5h1.1v1.1h-1.1zM46 112.5h1.1v1.1h-1.1zM48 121.5h1.1v1.1h-1.1zM49 110.5h1.1v1.1h-1.1zM50 112.5h1.1v1.1h-1.1zM52 116.5h1.1v1.1h-1.1zM52 112.5h1.1v1.1h-1.1zM53 117.5h1.1v1.1h-1.1zM56 120.5h1.1v1.1h-1.1zM58 112.5h1.1v1.1h-1.1zM59 111.5h1.1v1.1h-1.1zM60 124.5h1.1v1.1h-1.1zM60 123.5h1.1v1.1h-1.1zM61 122.5h1.1v1.1h-1.1zM63 123.5h1.1v1.1h-1.1zM67 115.5h1.1v1.1h-1.1zM70 118.5h1.1v1.1h-1.1zM71 118.5h1.1v1.1h-1.1zM71 110.5h1.1v1.1h-1.1zM72 118.5h1.1v1.1h-1.1zM74 123.5h1.1v1.1h-1.1zM75 125.5h1.1v1.1h-1.1zM75 121.5h1.1v1.1h-1.1zM77 120.5h1.1v1.1h-1.1zM78 125.5h1.1v1.1h-1.1zM78 123.5h1.1v1.1h-1.1zM78 110.5h1.1v1.1h-1.1zM79 118.5h1.1v1.1h-1.1zM79 110.5h1.1v1.1h-1.1zM80 118.5h1.1v1.1h-1.1zM81 122.5h1.1v1.1h-1.1zM81 116.5h1.1v1.1h-1.1zM81 114.5h1.1v1.1h-1.1zM81 113.5h1.1v1.1h-1.1zM82 123.5h1.1v1.1h-1.1zM82 117.5h1.1v1.1h-1.1zM83 112.5h1.1v1.1h-1.1zM85 114.5h1.1v1.1h-1.1zM86 116.5h1.1v1.1h-1.1zM89 116.5h1.1v1.1h-1.1zM91 127.5h1.1v0.6h-1.1zM91 124.5h1.1v1.1h-1.1zM92 123.5h1.1v1.1h-1.1zM94 117.5h1.1v1.1h-1.1zM94 111.5h1.1v1.1h-1.1zM96 117.5h1.1v1.1h-1.1zM97 114.5h1.1v1.1h-1.1zM97 112.5h1.1v1.1h-1.1zM98 113.5h1.1v1.1h-1.1zM99 120.5h1.1v1.1h-1.1zM100 125.5h1.1v1.1h-1.1zM101 111.5h1.1v1.1h-1.1zM102 111.5h1.1v1.1h-1.1zM104 122.5h1.1v1.1h-1.1zM104 118.5h1.1v1.1h-1.1zM107 119.5h1.1v1.1h-1.1zM108 112.5h1.1v1.1h-1.1zM112 127.5h1.1v0.6h-1.1zM112 125.5h1.1v1.1h-1.1zM112 119.5h1.1v1.1h-1.1zM113 123.5h1.1v1.1h-1.1zM116 114.5h1.1v1.1h-1.1zM118 111.5h1.1v1.1h-1.1zM119 111.5h1.1v1.1h-1.1zM120 127.5h1.1v0.6h-1.1zM121 116.5h1.1v1.1h-1.1zM122 115.5h1.1v1.1h-1.1zM122 112.5h1.1v1.1h-1.1zM123 116.5h1.1v1.1h-1.1zM124 121.5h1.1v1.1h-1.1zM124 112.5h1.1v1.1h-1.1zM126 113.5h1.1v1.1h-1.1zM127 125.5h1.1v1.1h-1.1z"/><path fill="#ffd103" d="M0 117.5h1.1v1.1h-1.1zM4 122.5h1.1v1.1h-1.1zM4 118.5h1.1v1.1h-1.1zM5 127.5h1.1v0.6h-1.1zM5 110.5h1.1v1.1h-1.1zM6 110.5h1.1v1.1h-1.1zM7 119.5h1.1v1.1h-1.1zM8 121.5h1.1v1.1h-1.1zM10 117.5h1.1v1.1h-1.1zM11 124.5h1.1v1.1h-1.1zM12 123.5h1.1v1.1h-1.1zM13 120.5h1.1v1.1h-1.1zM14 125.5h1.1v1.1h-1.1zM14 123.5h1.1v1.1h-1.1zM15 125.5h1.1v1.1h-1.1zM15 120.5h1.1v1.1h-1.1zM17 111.5h1.1v1.1h-1.1zM19 120.5h1.1v1.1h-1.1zM20 125.5h1.1v1.1h-1.1zM20 122.5h1.1v1.1h-1.1zM20 111.5h1.1v1.1h-1.1zM23 114.5h1.1v1.1h-1.1zM24 127.5h1.1v0.6h-1.1zM25 118.5h1.1v1.1h-1.1zM30 114.5h1.1v1.1h-1.1zM31 115.5h1.1v1.1h-1.1zM32 111.5h1.1v1.1h-1.1zM33 119.5h1.1v1.1h-1.1zM34 126.5h1.1v1.1h-1.1zM34 123.5h1.1v1.1h-1.1zM35 122.5h1.1v1.1h-1.1zM35 115.5h1.1v1.1h-1.1zM36 122.5h1.1v1.1h-1.1zM36 118.5h1.1v1.1h-1.1zM38 123.5h1.1v1.1h-1.1zM38 120.5h1.1v1.1h-1.1zM39 120.5h1.1v1.1h-1.1zM40 117.5h1.1v1.1h-1.1zM41 126.5h1.1v1.1h-1.1zM44 118.5h1.1v1.1h-1.1zM45 127.5h1.1v0.6h-1.1zM45 112.5h1.1v1.1h-1.1zM46 119.5h1.1v1.1h-1.1zM47 124.5h1.1v1.1h-1.1zM48 118.5h1.1v1.1h-1.1zM48 111.5h1.1v1.1h-1.1zM49 121.5h1.1v1.1h-1.1zM50 120.5h1.1v1.1h-1.1zM51 122.5h1.1v1.1h-1.1zM51 120.5h1.1v1.1h-1.1zM52 122.5h1.1v1.1h-1.1zM52 110.5h1.1v1.1h-1.1zM53 123.5h1.1v1.1h-1.1zM55 126.5h1.1v1.1h-1.1zM57 123.5h1.1v1.1h-1.1zM58 126.5h1.1v1.1h-1.1zM60 111.5h1.1v1.1h-1.1zM63 113.5h1.1v1.1h-1.1zM64 126.5h1.1v1.1h-1.1zM64 117.5h1.1v1.1h-1.1zM64 112.5h1.1v1.1h-1.1zM71 116.5h1.1v1.1h-1.1zM73 125.5h1.1v1.1h-1.1zM77 113.5h1.1v1.1h-1.1zM79 124.5h1.1v1.1h-1.1zM80 124.5h1.1v1.1h-1.1zM80 110.5h1.1v1.1h-1.1zM82 110.5h1.1v1.1h-1.1zM84 119.5h1.1v1.1h-1.1zM85 111.5h1.1v1.1h-1.1zM87 114.5h1.1v1.1h-1.1zM89 126.5h1.1v1.1h-1.1zM90 125.5h1.1v1.1h-1.1zM90 112.5h1.1v1.1h-1.1zM91 116.5h1.1v1.1h-1.1zM93 117.5h1.1v1.1h-1.1zM95 122.5h1.1v1.1h-1.1zM95 116.5h1.1v1.1h-1.1zM96 119.5h1.1v1.1h-1.1zM99 122.5h1.1v1.1h-1.1zM99 114.5h1.1v1.1h-1.1zM101 117.5h1.1v1.1h-1.1zM102 116.5h1.1v1.1h-1.1zM103 123.5h1.1v1.1h-1.1zM105 117.5h1.1v1.1h-1.1zM106 122.5h1.1v1.1h-1.1zM107 110.5h1.1v1.1h-1.1zM109 117.5h1.1v1.1h-1.1zM109 114.5h1.1v1.1h-1.1zM111 127.5h1.1v0.6h-1.1zM112 124.5h1.1v1.1h-1.1zM112 116.5h1.1v1.1h-1.1zM120 123.5h1.1v1.1h-1.1zM120 110.5h1.1v1.1h-1.1zM121 117.5h1.1v1.1h-1.1zM121 112.5h1.1v1.1h-1.1zM123 126.5h1.1v1.1h-1.1zM123 117.5h1.1v1.1h-1.1zM123 111.5h1.1v1.1h-1.1zM126 118.5h1.1v1.1h-1.1zM126 115.5h1.1v1.1h-1.1zM127 118.5h1.1v1.1h-1.1zM128 112.5h1.1v1.1h-1.1z"/><path fill="#ffd400" d="M1 124.5h1.1v1.1h-1.1zM1 121.5h1.1v1.1h-1.1zM3 123.5h1.1v1.1h-1.1zM4 125.5h1.1v1.1h-1.1zM4 113.5h1.1v1.1h-1.1zM5 124.5h1.1v1.1h-1.1zM6 117.5h1.1v1.1h-1.1zM7 113.5h1.1v1.1h-1.1zM8 119.5h1.1v1.1h-1.1zM8 118.5h1.1v1.1h-1.1zM8 117.5h1.1v1.1h-1.1zM8 112.5h1.1v1.1h-1.1zM9 124.5h1.1v1.1h-1.1zM9 120.5h1.1v1.1h-1.1zM9 118.5h1.1v1.1h-1.1zM13 118.5h1.1v1.1h-1.1zM15 116.5h1.1v1.1h-1.1zM15 111.5h1.1v1.1h-1.1zM16 123.5h1.1v1.1h-1.1zM16 122.5h1.1v1.1h-1.1zM16 111.5h1.1v1.1h-1.1zM17 125.5h1.1v1.1h-1.1zM18 126.5h1.1v1.1h-1.1zM19 124.5h1.1v1.1h-1.1zM19 118.5h1.1v1.1h-1.1zM23 113.5h1.1v1.1h-1.1zM24 112.5h1.1v1.1h-1.1zM25 127.5h1.1v0.6h-1.1zM25 121.5h1.1v1.1h-1.1zM27 117.5h1.1v1.1h-1.1zM29 122.5h1.1v1.1h-1.1zM30 127.5h1.1v0.6h-1.1zM31 118.5h1.1v1.1h-1.1zM33 127.5h1.1v0.6h-1.1zM34 114.5h1.1v1.1h-1.1zM35 124.5h1.1v1.1h-1.1zM36 127.5h1.1v0.6h-1.1zM36 125.5h1.1v1.1h-1.1zM36 123.5h1.1v1.1h-1.1zM37 123.5h1.1v1.1h-1.1zM38 127.5h1.1v0.6h-1.1zM38 122.5h1.1v1.1h-1.1zM38 115.5h1.1v1.1h-1.1zM39 122.5h1.1v1.1h-1.1zM40 120.5h1.1v1.1h-1.1zM43 127.5h1.1v0.6h-1.1zM43 117.5h1.1v1.1h-1.1zM43 112.5h1.1v1.1h-1.1zM44 116.5h1.1v1.1h-1.1zM45 123.5h1.1v1.1h-1.1zM45 118.5h1.1v1.1h-1.1zM46 122.5h1.1v1.1h-1.1zM47 120.5h1.1v1.1h-1.1zM48 124.5h1.1v1.1h-1.1zM51 112.5h1.1v1.1h-1.1zM51 110.5h1.1v1.1h-1.1zM52 118.5h1.1v1.1h-1.1zM52 111.5h1.1v1.1h-1.1zM53 124.5h1.1v1.1h-1.1zM53 111.5h1.1v1.1h-1.1zM54 118.5h1.1v1.1h-1.1zM55 118.5h1.1v1.1h-1.1zM58 123.5h1.1v1.1h-1.1zM60 120.5h1.1v1.1h-1.1zM65 125.5h1.1v1.1h-1.1zM65 124.5h1.1v1.1h-1.1zM65 115.5h1.1v1.1h-1.1zM65 114.5h1.1v1.1h-1.1zM65 111.5h1.1v1.1h-1.1zM69 119.5h1.1v1.1h-1.1zM69 111.5h1.1v1.1h-1.1zM70 127.5h1.1v0.6h-1.1zM70 119.5h1.1v1.1h-1.1zM72 116.5h1.1v1.1h-1.1zM73 114.5h1.1v1.1h-1.1zM75 115.5h1.1v1.1h-1.1zM76 125.5h1.1v1.1h-1.1zM76 123.5h1.1v1.1h-1.1zM76 115.5h1.1v1.1h-1.1zM76 114.5h1.1v1.1h-1.1zM77 125.5h1.1v1.1h-1.1zM77 124.5h1.1v1.1h-1.1zM77 119.5h1.1v1.1h-1.1zM78 119.5h1.1v1.1h-1.1zM78 111.5h1.1v1.1h-1.1zM80 126.5h1.1v1.1h-1.1zM80 111.5h1.1v1.1h-1.1zM82 111.5h1.1v1.1h-1.1zM85 125.5h1.1v1.1h-1.1zM86 126.5h1.1v1.1h-1.1zM86 125.5h1.1v1.1h-1.1zM86 123.5h1.1v1.1h-1.1zM87 115.5h1.1v1.1h-1.1zM89 113.5h1.1v1.1h-1.1zM90 117.5h1.1v1.1h-1.1zM92 126.5h1.1v1.1h-1.1zM92 124.5h1.1v1.1h-1.1zM92 113.5h1.1v1.1h-1.1zM93 124.5h1.1v1.1h-1.1zM93 113.5h1.1v1.1h-1.1zM94 112.5h1.1v1.1h-1.1zM96 120.5h1.1v1.1h-1.1zM97 120.5h1.1v1.1h-1.1zM97 113.5h1.1v1.1h-1.1zM101 116.5h1.1v1.1h-1.1zM102 121.5h1.1v1.1h-1.1zM103 124.5h1.1v1.1h-1.1zM104 116.5h1.1v1.1h-1.1zM105 118.5h1.1v1.1h-1.1zM106 118.5h1.1v1.1h-1.1zM107 117.5h1.1v1.1h-1.1zM109 115.5h1.1v1.1h-1.1zM110 114.5h1.1v1.1h-1.1zM116 122.5h1.1v1.1h-1.1zM118 127.5h1.1v0.6h-1.1zM118 112.5h1.1v1.1h-1.1zM119 127.5h1.1v0.6h-1.1zM119 117.5h1.1v1.1h-1.1zM121 114.5h1.1v1.1h-1.1zM124 113.5h1.1v1.1h-1.1zM125 112.5h1.1v1.1h-1.1zM126 119.5h1.1v1.1h-1.1zM127 120.5h1.1v1.1h-1.1zM127 112.5h1.1v1.1h-1.1zM128 126.5h1.1v1.1h-1.1z"/><path fill="#ffd700" d="M4 124.5h1.1v1.1h-1.1zM4 119.5h1.1v1.1h-1.1zM5 126.5h1.1v1.1h-1.1zM5 114.5h1.1v1.1h-1.1zM6 123.5h1.1v1.1h-1.1zM6 119.5h1.1v1.1h-1.1zM10 123.5h1.1v1.1h-1.1zM10 115.5h1.1v1.1h-1.1zM11 127.5h1.1v0.6h-1.1zM12 125.5h1.1v1.1h-1.1zM14 121.5h1.1v1.1h-1.1zM17 127.5h1.1v0.6h-1.1zM17 123.5h1.1v1.1h-1.1zM18 120.5h1.1v1.1h-1.1zM19 123.5h1.1v1.1h-1.1zM20 126.5h1.1v1.1h-1.1zM21 117.5h1.1v1.1h-1.1zM21 111.5h1.1v1.1h-1.1zM22 111.5h1.1v1.1h-1.1zM25 115.5h1.1v1.1h-1.1zM27 114.5h1.1v1.1h-1.1zM28 126.5h1.1v1.1h-1.1zM30 122.5h1.1v1.1h-1.1zM30 113.5h1.1v1.1h-1.1zM31 120.5h1.1v1.1h-1.1zM31 117.5h1.1v1.1h-1.1zM33 112.5h1.1v1.1h-1.1zM35 114.5h1.1v1.1h-1.1zM36 119.5h1.1v1.1h-1.1zM41 127.5h1.1v0.6h-1.1zM45 119.5h1.1v1.1h-1.1zM47 127.5h1.1v0.6h-1.1zM47 122.5h1.1v1.1h-1.1zM47 118.5h1.1v1.1h-1.1zM48 116.5h1.1v1.1h-1.1zM49 114.5h1.1v1.1h-1.1zM50 119.5h1.1v1.1h-1.1zM51 117.5h1.1v1.1h-1.1zM53 116.5h1.1v1.1h-1.1zM54 125.5h1.1v1.1h-1.1zM54 111.5h1.1v1.1h-1.1zM54 110.5h1.1v1.1h-1.1zM56 112.5h1.1v1.1h-1.1zM57 112.5h1.1v1.1h-1.1zM59 125.5h1.1v1.1h-1.1zM60 118.5h1.1v1.1h-1.1zM61 114.5h1.1v1.1h-1.1zM63 127.5h1.1v0.6h-1.1zM64 111.5h1.1v1.1h-1.1zM65 127.5h1.1v0.6h-1.1zM66 127.5h1.1v0.6h-1.1zM66 124.5h1.1v1.1h-1.1zM67 122.5h1.1v1.1h-1.1zM68 125.5h1.1v1.1h-1.1zM68 119.5h1.1v1.1h-1.1zM70 113.5h1.1v1.1h-1.1zM71 123.5h1.1v1.1h-1.1zM72 125.5h1.1v1.1h-1.1zM75 118.5h1.1v1.1h-1.1zM76 112.5h1.1v1.1h-1.1zM79 127.5h1.1v0.6h-1.1zM79 117.5h1.1v1.1h-1.1zM80 121.5h1.1v1.1h-1.1zM80 120.5h1.1v1.1h-1.1zM80 115.5h1.1v1.1h-1.1zM82 125.5h1.1v1.1h-1.1zM83 126.5h1.1v1.1h-1.1zM83 121.5h1.1v1.1h-1.1zM84 126.5h1.1v1.1h-1.1zM84 124.5h1.1v1.1h-1.1zM84 110.5h1.1v1.1h-1.1zM85 120.5h1.1v1.1h-1.1zM85 115.5h1.1v1.1h-1.1zM87 124.5h1.1v1.1h-1.1zM87 121.5h1.1v1.1h-1.1zM87 120.5h1.1v1.1h-1.1zM87 112.5h1.1v1.1h-1.1zM91 113.5h1.1v1.1h-1.1zM92 122.5h1.1v1.1h-1.1zM92 121.5h1.1v1.1h-1.1zM93 126.5h1.1v1.1h-1.1zM96 115.5h1.1v1.1h-1.1zM97 125.5h1.1v1.1h-1.1zM99 119.5h1.1v1.1h-1.1zM102 124.5h1.1v1.1h-1.1zM102 117.5h1.1v1.1h-1.1zM103 116.5h1.1v1.1h-1.1zM103 111.5h1.1v1.1h-1.1zM104 111.5h1.1v1.1h-1.1zM105 124.5h1.1v1.1h-1.1zM106 124.5h1.1v1.1h-1.1zM108 123.5h1.1v1.1h-1.1zM109 124.5h1.1v1.1h-1.1zM110 127.5h1.1v0.6h-1.1zM110 116.5h1.1v1.1h-1.1zM111 117.5h1.1v1.1h-1.1zM113 124.5h1.1v1.1h-1.1zM113 110.5h1.1v1.1h-1.1zM114 116.5h1.1v1.1h-1.1zM115 123.5h1.1v1.1h-1.1zM115 119.5h1.1v1.1h-1.1zM115 115.5h1.1v1.1h-1.1zM116 119.5h1.1v1.1h-1.1zM117 126.5h1.1v1.1h-1.1zM117 123.5h1.1v1.1h-1.1zM117 112.5h1.1v1.1h-1.1zM118 126.5h1.1v1.1h-1.1zM119 114.5h1.1v1.1h-1.1zM121 120.5h1.1v1.1h-1.1zM121 119.5h1.1v1.1h-1.1zM122 126.5h1.1v1.1h-1.1zM122 125.5h1.1v1.1h-1.1zM122 121.5h1.1v1.1h-1.1zM122 120.5h1.1v1.1h-1.1zM123 120.5h1.1v1.1h-1.1zM126 125.5h1.1v1.1h-1.1zM127 115.5h1.1v1.1h-1.1zM128 127.5h1.1v0.6h-1.1z"/><path fill="#ffda00" d="M1 115.5h1.1v1.1h-1.1zM3 122.5h1.1v1.1h-1.1zM3 113.5h1.1v1.1h-1.1zM4 121.5h1.1v1.1h-1.1zM5 125.5h1.1v1.1h-1.1zM6 118.5h1.1v1.1h-1.1zM7 122.5h1.1v1.1h-1.1zM7 118.5h1.1v1.1h-1.1zM8 125.5h1.1v1.1h-1.1zM8 113.5h1.1v1.1h-1.1zM9 116.5h1.1v1.1h-1.1zM10 127.5h1.1v0.6h-1.1zM10 125.5h1.1v1.1h-1.1zM10 114.5h1.1v1.1h-1.1zM12 119.5h1.1v1.1h-1.1zM13 121.5h1.1v1.1h-1.1zM13 119.5h1.1v1.1h-1.1zM14 124.5h1.1v1.1h-1.1zM14 122.5h1.1v1.1h-1.1zM14 117.5h1.1v1.1h-1.1zM15 127.5h1.1v0.6h-1.1zM15 126.5h1.1v1.1h-1.1zM16 126.5h1.1v1.1h-1.1zM16 124.5h1.1v1.1h-1.1zM16 113.5h1.1v1.1h-1.1zM19 112.5h1.1v1.1h-1.1zM20 117.5h1.1v1.1h-1.1zM21 112.5h1.1v1.1h-1.1zM22 127.5h1.1v0.6h-1.1zM22 126.5h1.1v1.1h-1.1zM22 119.5h1.1v1.1h-1.1zM22 110.5h1.1v1.1h-1.1zM23 124.5h1.1v1.1h-1.1zM23 122.5h1.1v1.1h-1.1zM25 126.5h1.1v1.1h-1.1zM25 125.5h1.1v1.1h-1.1zM25 122.5h1.1v1.1h-1.1zM25 117.5h1.1v1.1h-1.1zM25 116.5h1.1v1.1h-1.1zM26 127.5h1.1v0.6h-1.1zM27 121.5h1.1v1.1h-1.1zM28 118.5h1.1v1.1h-1.1zM30 121.5h1.1v1.1h-1.1zM30 112.5h1.1v1.1h-1.1zM32 118.5h1.1v1.1h-1.1zM34 121.5h1.1v1.1h-1.1zM35 118.5h1.1v1.1h-1.1zM37 121.5h1.1v1.1h-1.1zM39 123.5h1.1v1.1h-1.1zM39 118.5h1.1v1.1h-1.1zM42 127.5h1.1v0.6h-1.1zM42 117.5h1.1v1.1h-1.1zM43 121.5h1.1v1.1h-1.1zM43 115.5h1.1v1.1h-1.1zM43 113.5h1.1v1.1h-1.1zM46 126.5h1.1v1.1h-1.1zM46 117.5h1.1v1.1h-1.1zM49 126.5h1.1v1.1h-1.1zM50 113.5h1.1v1.1h-1.1zM50 111.5h1.1v1.1h-1.1zM51 121.5h1.1v1.1h-1.1zM51 113.5h1.1v1.1h-1.1zM51 111.5h1.1v1.1h-1.1zM52 125.5h1.1v1.1h-1.1zM54 124.5h1.1v1.1h-1.1zM55 115.5h1.1v1.1h-1.1zM55 112.5h1.1v1.1h-1.1zM57 118.5h1.1v1.1h-1.1zM58 122.5h1.1v1.1h-1.1zM58 119.5h1.1v1.1h-1.1zM60 121.5h1.1v1.1h-1.1zM60 112.5h1.1v1.1h-1.1zM62 124.5h1.1v1.1h-1.1zM64 119.5h1.1v1.1h-1.1zM65 117.5h1.1v1.1h-1.1zM65 112.5h1.1v1.1h-1.1zM66 118.5h1.1v1.1h-1.1zM66 116.5h1.1v1.1h-1.1zM67 112.5h1.1v1.1h-1.1zM68 112.5h1.1v1.1h-1.1zM70 121.5h1.1v1.1h-1.1zM70 112.5h1.1v1.1h-1.1zM71 126.5h1.1v1.1h-1.1zM71 113.5h1.1v1.1h-1.1zM72 117.5h1.1v1.1h-1.1zM72 113.5h1.1v1.1h-1.1zM75 126.5h1.1v1.1h-1.1zM75 122.5h1.1v1.1h-1.1zM77 122.5h1.1v1.1h-1.1zM78 127.5h1.1v0.6h-1.1zM78 115.5h1.1v1.1h-1.1zM80 114.5h1.1v1.1h-1.1zM81 118.5h1.1v1.1h-1.1zM82 126.5h1.1v1.1h-1.1zM82 124.5h1.1v1.1h-1.1zM83 127.5h1.1v0.6h-1.1zM83 114.5h1.1v1.1h-1.1zM84 112.5h1.1v1.1h-1.1zM88 113.5h1.1v1.1h-1.1zM89 111.5h1.1v1.1h-1.1zM90 116.5h1.1v1.1h-1.1zM90 113.5h1.1v1.1h-1.1zM90 111.5h1.1v1.1h-1.1zM93 123.5h1.1v1.1h-1.1zM94 126.5h1.1v1.1h-1.1zM94 119.5h1.1v1.1h-1.1zM94 118.5h1.1v1.1h-1.1zM95 119.5h1.1v1.1h-1.1zM96 127.5h1.1v0.6h-1.1zM96 126.5h1.1v1.1h-1.1zM99 125.5h1.1v1.1h-1.1zM102 118.5h1.1v1.1h-1.1zM104 127.5h1.1v0.6h-1.1zM105 125.5h1.1v1.1h-1.1zM106 121.5h1.1v1.1h-1.1zM107 122.5h1.1v1.1h-1.1zM109 123.5h1.1v1.1h-1.1zM109 120.5h1.1v1.1h-1.1zM110 125.5h1.1v1.1h-1.1zM111 119.5h1.1v1.1h-1.1zM111 116.5h1.1v1.1h-1.1zM111 112.5h1.1v1.1h-1.1zM112 122.5h1.1v1.1h-1.1zM112 120.5h1.1v1.1h-1.1zM112 117.5h1.1v1.1h-1.1zM113 114.5h1.1v1.1h-1.1zM114 125.5h1.1v1.1h-1.1zM114 122.5h1.1v1.1h-1.1zM114 115.5h1.1v1.1h-1.1zM115 127.5h1.1v0.6h-1.1zM116 127.5h1.1v0.6h-1.1zM116 117.5h1.1v1.1h-1.1zM117 127.5h1.1v0.6h-1.1zM117 115.5h1.1v1.1h-1.1zM118 117.5h1.1v1.1h-1.1zM118 116.5h1.1v1.1h-1.1zM119 123.5h1.1v1.1h-1.1zM119 121.5h1.1v1.1h-1.1zM119 115.5h1.1v1.1h-1.1zM120 122.5h1.1v1.1h-1.1zM121 127.5h1.1v0.6h-1.1zM121 123.5h1.1v1.1h-1.1zM122 118.5h1.1v1.1h-1.1zM123 124.5h1.1v1.1h-1.1zM124 126.5h1.1v1.1h-1.1zM124 125.5h1.1v1.1h-1.1zM124 116.5h1.1v1.1h-1.1z"/><path fill="#ffdd00" d="M0 125.5h1.1v1.1h-1.1zM0 124.5h1.1v1.1h-1.1zM0 119.5h1.1v1.1h-1.1zM0 116.5h1.1v1.1h-1.1zM2 115.5h1.1v1.1h-1.1zM2 114.5h1.1v1.1h-1.1zM3 124.5h1.1v1.1h-1.1zM5 117.5h1.1v1.1h-1.1zM6 113.5h1.1v1.1h-1.1zM9 119.5h1.1v1.1h-1.1zM11 126.5h1.1v1.1h-1.1zM13 122.5h1.1v1.1h-1.1zM15 117.5h1.1v1.1h-1.1zM20 119.5h1.1v1.1h-1.1zM22 124.5h1.1v1.1h-1.1zM23 127.5h1.1v0.6h-1.1zM23 112.5h1.1v1.1h-1.1zM25 114.5h1.1v1.1h-1.1zM26 120.5h1.1v1.1h-1.1zM26 115.5h1.1v1.1h-1.1zM26 114.5h1.1v1.1h-1.1zM27 118.5h1.1v1.1h-1.1zM27 115.5h1.1v1.1h-1.1zM28 127.5h1.1v0.6h-1.1zM28 113.5h1.1v1.1h-1.1zM29 112.5h1.1v1.1h-1.1zM30 115.5h1.1v1.1h-1.1zM31 127.5h1.1v0.6h-1.1zM31 126.5h1.1v1.1h-1.1zM31 116.5h1.1v1.1h-1.1zM32 119.5h1.1v1.1h-1.1zM32 115.5h1.1v1.1h-1.1zM37 118.5h1.1v1.1h-1.1zM38 117.5h1.1v1.1h-1.1zM41 123.5h1.1v1.1h-1.1zM42 115.5h1.1v1.1h-1.1zM42 113.5h1.1v1.1h-1.1zM43 123.5h1.1v1.1h-1.1zM44 123.5h1.1v1.1h-1.1zM44 112.5h1.1v1.1h-1.1zM45 122.5h1.1v1.1h-1.1zM47 117.5h1.1v1.1h-1.1zM48 125.5h1.1v1.1h-1.1zM48 117.5h1.1v1.1h-1.1zM50 118.5h1.1v1.1h-1.1zM50 114.5h1.1v1.1h-1.1zM53 127.5h1.1v0.6h-1.1zM53 125.5h1.1v1.1h-1.1zM53 110.5h1.1v1.1h-1.1zM55 120.5h1.1v1.1h-1.1zM55 116.5h1.1v1.1h-1.1zM56 123.5h1.1v1.1h-1.1zM58 113.5h1.1v1.1h-1.1zM59 122.5h1.1v1.1h-1.1zM59 121.5h1.1v1.1h-1.1zM59 116.5h1.1v1.1h-1.1zM61 124.5h1.1v1.1h-1.1zM62 114.5h1.1v1.1h-1.1zM62 113.5h1.1v1.1h-1.1zM63 117.5h1.1v1.1h-1.1zM64 124.5h1.1v1.1h-1.1zM66 112.5h1.1v1.1h-1.1zM67 124.5h1.1v1.1h-1.1zM67 116.5h1.1v1.1h-1.1zM69 116.5h1.1v1.1h-1.1zM70 126.5h1.1v1.1h-1.1zM70 114.5h1.1v1.1h-1.1zM71 121.5h1.1v1.1h-1.1zM71 119.5h1.1v1.1h-1.1zM72 119.5h1.1v1.1h-1.1zM72 115.5h1.1v1.1h-1.1zM73 115.5h1.1v1.1h-1.1zM74 125.5h1.1v1.1h-1.1zM74 117.5h1.1v1.1h-1.1zM75 119.5h1.1v1.1h-1.1zM76 118.5h1.1v1.1h-1.1zM77 123.5h1.1v1.1h-1.1zM78 122.5h1.1v1.1h-1.1zM78 120.5h1.1v1.1h-1.1zM80 127.5h1.1v0.6h-1.1zM80 112.5h1.1v1.1h-1.1zM82 118.5h1.1v1.1h-1.1zM82 115.5h1.1v1.1h-1.1zM82 114.5h1.1v1.1h-1.1zM83 113.5h1.1v1.1h-1.1zM84 115.5h1.1v1.1h-1.1zM85 126.5h1.1v1.1h-1.1zM86 122.5h1.1v1.1h-1.1zM87 116.5h1.1v1.1h-1.1zM88 119.5h1.1v1.1h-1.1zM88 117.5h1.1v1.1h-1.1zM89 114.5h1.1v1.1h-1.1zM89 112.5h1.1v1.1h-1.1zM90 120.5h1.1v1.1h-1.1zM91 125.5h1.1v1.1h-1.1zM91 117.5h1.1v1.1h-1.1zM92 125.5h1.1v1.1h-1.1zM93 121.5h1.1v1.1h-1.1zM93 119.5h1.1v1.1h-1.1zM93 118.5h1.1v1.1h-1.1zM93 114.5h1.1v1.1h-1.1zM95 120.5h1.1v1.1h-1.1zM95 112.5h1.1v1.1h-1.1zM96 122.5h1.1v1.1h-1.1zM97 121.5h1.1v1.1h-1.1zM98 115.5h1.1v1.1h-1.1zM100 113.5h1.1v1.1h-1.1zM101 112.5h1.1v1.1h-1.1zM102 112.5h1.1v1.1h-1.1zM104 117.5h1.1v1.1h-1.1zM104 112.5h1.1v1.1h-1.1zM106 123.5h1.1v1.1h-1.1zM108 118.5h1.1v1.1h-1.1zM109 116.5h1.1v1.1h-1.1zM109 113.5h1.1v1.1h-1.1zM111 125.5h1.1v1.1h-1.1zM112 118.5h1.1v1.1h-1.1zM112 115.5h1.1v1.1h-1.1zM112 113.5h1.1v1.1h-1.1zM113 127.5h1.1v0.6h-1.1zM113 118.5h1.1v1.1h-1.1zM114 123.5h1.1v1.1h-1.1zM116 121.5h1.1v1.1h-1.1zM119 112.5h1.1v1.1h-1.1zM120 125.5h1.1v1.1h-1.1zM120 120.5h1.1v1.1h-1.1zM120 118.5h1.1v1.1h-1.1zM121 115.5h1.1v1.1h-1.1zM124 119.5h1.1v1.1h-1.1zM124 118.5h1.1v1.1h-1.1zM125 121.5h1.1v1.1h-1.1zM126 117.5h1.1v1.1h-1.1zM127 117.5h1.1v1.1h-1.1zM128 124.5h1.1v1.1h-1.1z"/><path fill="#ffe000" d="M0 122.5h1.1v1.1h-1.1zM0 121.5h1.1v1.1h-1.1zM1 120.5h1.1v1.1h-1.1zM3 119.5h1.1v1.1h-1.1zM3 116.5h1.1v1.1h-1.1zM4 127.5h1.1v0.6h-1.1zM5 122.5h1.1v1.1h-1.1zM5 116.5h1.1v1.1h-1.1zM6 125.5h1.1v1.1h-1.1zM6 120.5h1.1v1.1h-1.1zM8 122.5h1.1v1.1h-1.1zM8 120.5h1.1v1.1h-1.1zM11 121.5h1.1v1.1h-1.1zM12 112.5h1.1v1.1h-1.1zM14 115.5h1.1v1.1h-1.1zM15 119.5h1.1v1.1h-1.1zM16 125.5h1.1v1.1h-1.1zM16 117.5h1.1v1.1h-1.1zM18 123.5h1.1v1.1h-1.1zM18 116.5h1.1v1.1h-1.1zM20 127.5h1.1v0.6h-1.1zM20 124.5h1.1v1.1h-1.1zM20 112.5h1.1v1.1h-1.1zM21 124.5h1.1v1.1h-1.1zM22 113.5h1.1v1.1h-1.1zM24 119.5h1.1v1.1h-1.1zM24 115.5h1.1v1.1h-1.1zM24 114.5h1.1v1.1h-1.1zM25 123.5h1.1v1.1h-1.1zM26 124.5h1.1v1.1h-1.1zM27 124.5h1.1v1.1h-1.1zM29 124.5h1.1v1.1h-1.1zM31 121.5h1.1v1.1h-1.1zM32 120.5h1.1v1.1h-1.1zM32 112.5h1.1v1.1h-1.1zM33 120.5h1.1v1.1h-1.1zM35 116.5h1.1v1.1h-1.1zM36 126.5h1.1v1.1h-1.1zM37 126.5h1.1v1.1h-1.1zM38 113.5h1.1v1.1h-1.1zM39 113.5h1.1v1.1h-1.1zM41 125.5h1.1v1.1h-1.1zM41 124.5h1.1v1.1h-1.1zM41 118.5h1.1v1.1h-1.1zM41 115.5h1.1v1.1h-1.1zM44 120.5h1.1v1.1h-1.1zM44 115.5h1.1v1.1h-1.1zM45 114.5h1.1v1.1h-1.1zM47 116.5h1.1v1.1h-1.1zM48 120.5h1.1v1.1h-1.1zM49 127.5h1.1v0.6h-1.1zM51 123.5h1.1v1.1h-1.1zM51 115.5h1.1v1.1h-1.1zM51 114.5h1.1v1.1h-1.1zM53 113.5h1.1v1.1h-1.1zM54 119.5h1.1v1.1h-1.1zM55 121.5h1.1v1.1h-1.1zM56 122.5h1.1v1.1h-1.1zM57 125.5h1.1v1.1h-1.1zM58 124.5h1.1v1.1h-1.1zM58 117.5h1.1v1.1h-1.1zM59 126.5h1.1v1.1h-1.1zM61 117.5h1.1v1.1h-1.1zM61 112.5h1.1v1.1h-1.1zM62 125.5h1.1v1.1h-1.1zM62 118.5h1.1v1.1h-1.1zM63 118.5h1.1v1.1h-1.1zM64 115.5h1.1v1.1h-1.1zM66 121.5h1.1v1.1h-1.1zM67 123.5h1.1v1.1h-1.1zM68 116.5h1.1v1.1h-1.1zM72 123.5h1.1v1.1h-1.1zM73 119.5h1.1v1.1h-1.1zM75 127.5h1.1v0.6h-1.1zM75 124.5h1.1v1.1h-1.1zM75 123.5h1.1v1.1h-1.1zM76 119.5h1.1v1.1h-1.1zM76 113.5h1.1v1.1h-1.1zM79 122.5h1.1v1.1h-1.1zM81 124.5h1.1v1.1h-1.1zM81 120.5h1.1v1.1h-1.1zM81 115.5h1.1v1.1h-1.1zM83 122.5h1.1v1.1h-1.1zM83 117.5h1.1v1.1h-1.1zM84 120.5h1.1v1.1h-1.1zM85 127.5h1.1v0.6h-1.1zM86 127.5h1.1v0.6h-1.1zM87 125.5h1.1v1.1h-1.1zM88 115.5h1.1v1.1h-1.1zM88 112.5h1.1v1.1h-1.1zM91 118.5h1.1v1.1h-1.1zM92 127.5h1.1v0.6h-1.1zM93 116.5h1.1v1.1h-1.1zM94 120.5h1.1v1.1h-1.1zM95 126.5h1.1v1.1h-1.1zM96 114.5h1.1v1.1h-1.1zM97 115.5h1.1v1.1h-1.1zM98 121.5h1.1v1.1h-1.1zM99 126.5h1.1v1.1h-1.1zM99 117.5h1.1v1.1h-1.1zM99 113.5h1.1v1.1h-1.1zM103 125.5h1.1v1.1h-1.1zM105 123.5h1.1v1.1h-1.1zM105 121.5h1.1v1.1h-1.1zM106 125.5h1.1v1.1h-1.1zM106 117.5h1.1v1.1h-1.1zM106 115.5h1.1v1.1h-1.1zM106 111.5h1.1v1.1h-1.1zM110 117.5h1.1v1.1h-1.1zM110 115.5h1.1v1.1h-1.1zM111 123.5h1.1v1.1h-1.1zM111 121.5h1.1v1.1h-1.1zM114 126.5h1.1v1.1h-1.1zM114 111.5h1.1v1.1h-1.1zM115 125.5h1.1v1.1h-1.1zM116 115.5h1.1v1.1h-1.1zM117 125.5h1.1v1.1h-1.1zM117 124.5h1.1v1.1h-1.1zM119 126.5h1.1v1.1h-1.1zM119 118.5h1.1v1.1h-1.1zM120 114.5h1.1v1.1h-1.1zM122 124.5h1.1v1.1h-1.1zM122 119.5h1.1v1.1h-1.1zM122 113.5h1.1v1.1h-1.1zM123 113.5h1.1v1.1h-1.1zM124 122.5h1.1v1.1h-1.1zM124 117.5h1.1v1.1h-1.1zM125 126.5h1.1v1.1h-1.1zM125 116.5h1.1v1.1h-1.1zM125 115.5h1.1v1.1h-1.1zM126 121.5h1.1v1.1h-1.1zM128 116.5h1.1v1.1h-1.1z"/><path fill="#ffe300" d="M1 117.5h1.1v1.1h-1.1zM1 113.5h1.1v1.1h-1.1zM2 113.5h1.1v1.1h-1.1zM4 123.5h1.1v1.1h-1.1zM5 120.5h1.1v1.1h-1.1zM6 126.5h1.1v1.1h-1.1zM7 126.5h1.1v1.1h-1.1zM7 115.5h1.1v1.1h-1.1zM8 116.5h1.1v1.1h-1.1zM9 125.5h1.1v1.1h-1.1zM10 122.5h1.1v1.1h-1.1zM11 115.5h1.1v1.1h-1.1zM12 127.5h1.1v0.6h-1.1zM13 116.5h1.1v1.1h-1.1zM15 118.5h1.1v1.1h-1.1zM15 112.5h1.1v1.1h-1.1zM16 114.5h1.1v1.1h-1.1zM17 116.5h1.1v1.1h-1.1zM20 113.5h1.1v1.1h-1.1zM21 126.5h1.1v1.1h-1.1zM22 117.5h1.1v1.1h-1.1zM22 114.5h1.1v1.1h-1.1zM22 112.5h1.1v1.1h-1.1zM23 123.5h1.1v1.1h-1.1zM24 126.5h1.1v1.1h-1.1zM24 113.5h1.1v1.1h-1.1zM27 126.5h1.1v1.1h-1.1zM28 125.5h1.1v1.1h-1.1zM28 117.5h1.1v1.1h-1.1zM29 119.5h1.1v1.1h-1.1zM29 116.5h1.1v1.1h-1.1zM32 126.5h1.1v1.1h-1.1zM32 121.5h1.1v1.1h-1.1zM33 122.5h1.1v1.1h-1.1zM33 117.5h1.1v1.1h-1.1zM34 117.5h1.1v1.1h-1.1zM38 126.5h1.1v1.1h-1.1zM38 125.5h1.1v1.1h-1.1zM38 119.5h1.1v1.1h-1.1zM39 125.5h1.1v1.1h-1.1zM39 124.5h1.1v1.1h-1.1zM42 126.5h1.1v1.1h-1.1zM42 125.5h1.1v1.1h-1.1zM42 121.5h1.1v1.1h-1.1zM42 120.5h1.1v1.1h-1.1zM42 118.5h1.1v1.1h-1.1zM43 124.5h1.1v1.1h-1.1zM44 121.5h1.1v1.1h-1.1zM45 124.5h1.1v1.1h-1.1zM45 121.5h1.1v1.1h-1.1zM47 123.5h1.1v1.1h-1.1zM47 113.5h1.1v1.1h-1.1zM48 119.5h1.1v1.1h-1.1zM52 120.5h1.1v1.1h-1.1zM52 117.5h1.1v1.1h-1.1zM52 113.5h1.1v1.1h-1.1zM53 122.5h1.1v1.1h-1.1zM53 119.5h1.1v1.1h-1.1zM55 111.5h1.1v1.1h-1.1zM56 118.5h1.1v1.1h-1.1zM57 120.5h1.1v1.1h-1.1zM59 118.5h1.1v1.1h-1.1zM60 122.5h1.1v1.1h-1.1zM60 116.5h1.1v1.1h-1.1zM61 120.5h1.1v1.1h-1.1zM62 122.5h1.1v1.1h-1.1zM63 126.5h1.1v1.1h-1.1zM63 124.5h1.1v1.1h-1.1zM66 114.5h1.1v1.1h-1.1zM67 126.5h1.1v1.1h-1.1zM67 117.5h1.1v1.1h-1.1zM68 115.5h1.1v1.1h-1.1zM71 125.5h1.1v1.1h-1.1zM72 127.5h1.1v0.6h-1.1zM72 114.5h1.1v1.1h-1.1zM78 124.5h1.1v1.1h-1.1zM78 116.5h1.1v1.1h-1.1zM79 125.5h1.1v1.1h-1.1zM83 124.5h1.1v1.1h-1.1zM84 127.5h1.1v0.6h-1.1zM85 122.5h1.1v1.1h-1.1zM86 117.5h1.1v1.1h-1.1zM88 121.5h1.1v1.1h-1.1zM88 120.5h1.1v1.1h-1.1zM90 121.5h1.1v1.1h-1.1zM91 126.5h1.1v1.1h-1.1zM91 122.5h1.1v1.1h-1.1zM92 117.5h1.1v1.1h-1.1zM93 122.5h1.1v1.1h-1.1zM94 127.5h1.1v0.6h-1.1zM94 124.5h1.1v1.1h-1.1zM94 115.5h1.1v1.1h-1.1zM94 113.5h1.1v1.1h-1.1zM96 123.5h1.1v1.1h-1.1zM96 118.5h1.1v1.1h-1.1zM99 115.5h1.1v1.1h-1.1zM100 120.5h1.1v1.1h-1.1zM100 119.5h1.1v1.1h-1.1zM102 123.5h1.1v1.1h-1.1zM102 115.5h1.1v1.1h-1.1zM103 117.5h1.1v1.1h-1.1zM103 112.5h1.1v1.1h-1.1zM104 126.5h1.1v1.1h-1.1zM104 124.5h1.1v1.1h-1.1zM104 123.5h1.1v1.1h-1.1zM105 126.5h1.1v1.1h-1.1zM106 126.5h1.1v1.1h-1.1zM106 116.5h1.1v1.1h-1.1zM106 112.5h1.1v1.1h-1.1zM109 119.5h1.1v1.1h-1.1zM110 124.5h1.1v1.1h-1.1zM110 123.5h1.1v1.1h-1.1zM110 118.5h1.1v1.1h-1.1zM111 124.5h1.1v1.1h-1.1zM111 115.5h1.1v1.1h-1.1zM113 117.5h1.1v1.1h-1.1zM113 113.5h1.1v1.1h-1.1zM115 126.5h1.1v1.1h-1.1zM116 126.5h1.1v1.1h-1.1zM117 116.5h1.1v1.1h-1.1zM118 125.5h1.1v1.1h-1.1zM118 123.5h1.1v1.1h-1.1zM120 126.5h1.1v1.1h-1.1zM120 121.5h1.1v1.1h-1.1zM120 115.5h1.1v1.1h-1.1zM120 112.5h1.1v1.1h-1.1zM121 122.5h1.1v1.1h-1.1zM123 127.5h1.1v0.6h-1.1zM123 123.5h1.1v1.1h-1.1zM123 115.5h1.1v1.1h-1.1zM124 123.5h1.1v1.1h-1.1zM125 119.5h1.1v1.1h-1.1zM126 123.5h1.1v1.1h-1.1zM127 123.5h1.1v1.1h-1.1zM128 119.5h1.1v1.1h-1.1z"/><path fill="#ffe600" d="M0 120.5h1.1v1.1h-1.1zM0 118.5h1.1v1.1h-1.1zM1 116.5h1.1v1.1h-1.1zM2 120.5h1.1v1.1h-1.1zM3 127.5h1.1v0.6h-1.1zM6 116.5h1.1v1.1h-1.1zM7 127.5h1.1v0.6h-1.1zM9 115.5h1.1v1.1h-1.1zM10 119.5h1.1v1.1h-1.1zM11 123.5h1.1v1.1h-1.1zM12 115.5h1.1v1.1h-1.1zM13 127.5h1.1v0.6h-1.1zM13 112.5h1.1v1.1h-1.1zM14 113.5h1.1v1.1h-1.1zM14 112.5h1.1v1.1h-1.1zM16 115.5h1.1v1.1h-1.1zM18 124.5h1.1v1.1h-1.1zM19 122.5h1.1v1.1h-1.1zM21 127.5h1.1v0.6h-1.1zM26 119.5h1.1v1.1h-1.1zM29 118.5h1.1v1.1h-1.1zM30 125.5h1.1v1.1h-1.1zM30 124.5h1.1v1.1h-1.1zM30 123.5h1.1v1.1h-1.1zM30 116.5h1.1v1.1h-1.1zM31 123.5h1.1v1.1h-1.1zM32 122.5h1.1v1.1h-1.1zM33 123.5h1.1v1.1h-1.1zM34 124.5h1.1v1.1h-1.1zM35 113.5h1.1v1.1h-1.1zM36 114.5h1.1v1.1h-1.1zM37 112.5h1.1v1.1h-1.1zM40 125.5h1.1v1.1h-1.1zM40 123.5h1.1v1.1h-1.1zM40 113.5h1.1v1.1h-1.1zM43 118.5h1.1v1.1h-1.1zM44 113.5h1.1v1.1h-1.1zM45 117.5h1.1v1.1h-1.1zM45 115.5h1.1v1.1h-1.1zM47 115.5h1.1v1.1h-1.1zM48 127.5h1.1v0.6h-1.1zM49 122.5h1.1v1.1h-1.1zM49 120.5h1.1v1.1h-1.1zM49 119.5h1.1v1.1h-1.1zM49 117.5h1.1v1.1h-1.1zM49 116.5h1.1v1.1h-1.1zM50 115.5h1.1v1.1h-1.1zM53 112.5h1.1v1.1h-1.1zM54 123.5h1.1v1.1h-1.1zM56 126.5h1.1v1.1h-1.1zM56 115.5h1.1v1.1h-1.1zM58 114.5h1.1v1.1h-1.1zM59 120.5h1.1v1.1h-1.1zM59 113.5h1.1v1.1h-1.1zM60 113.5h1.1v1.1h-1.1zM61 123.5h1.1v1.1h-1.1zM62 126.5h1.1v1.1h-1.1zM64 114.5h1.1v1.1h-1.1zM65 113.5h1.1v1.1h-1.1zM67 118.5h1.1v1.1h-1.1zM68 124.5h1.1v1.1h-1.1zM72 126.5h1.1v1.1h-1.1zM72 120.5h1.1v1.1h-1.1zM74 115.5h1.1v1.1h-1.1zM77 114.5h1.1v1.1h-1.1zM78 126.5h1.1v1.1h-1.1zM81 125.5h1.1v1.1h-1.1zM82 120.5h1.1v1.1h-1.1zM84 121.5h1.1v1.1h-1.1zM85 119.5h1.1v1.1h-1.1zM85 116.5h1.1v1.1h-1.1zM85 112.5h1.1v1.1h-1.1zM86 114.5h1.1v1.1h-1.1zM86 112.5h1.1v1.1h-1.1zM87 126.5h1.1v1.1h-1.1zM88 125.5h1.1v1.1h-1.1zM90 123.5h1.1v1.1h-1.1zM90 114.5h1.1v1.1h-1.1zM92 120.5h1.1v1.1h-1.1zM93 115.5h1.1v1.1h-1.1zM94 125.5h1.1v1.1h-1.1zM94 122.5h1.1v1.1h-1.1zM95 113.5h1.1v1.1h-1.1zM97 119.5h1.1v1.1h-1.1zM98 124.5h1.1v1.1h-1.1zM100 114.5h1.1v1.1h-1.1zM101 121.5h1.1v1.1h-1.1zM101 120.5h1.1v1.1h-1.1zM103 119.5h1.1v1.1h-1.1zM104 125.5h1.1v1.1h-1.1zM105 127.5h1.1v0.6h-1.1zM107 125.5h1.1v1.1h-1.1zM107 111.5h1.1v1.1h-1.1zM108 117.5h1.1v1.1h-1.1zM108 116.5h1.1v1.1h-1.1zM108 113.5h1.1v1.1h-1.1zM109 121.5h1.1v1.1h-1.1zM111 114.5h1.1v1.1h-1.1zM112 114.5h1.1v1.1h-1.1zM113 125.5h1.1v1.1h-1.1zM114 127.5h1.1v0.6h-1.1zM116 124.5h1.1v1.1h-1.1zM116 116.5h1.1v1.1h-1.1zM116 113.5h1.1v1.1h-1.1zM118 120.5h1.1v1.1h-1.1zM123 118.5h1.1v1.1h-1.1zM124 115.5h1.1v1.1h-1.1zM125 124.5h1.1v1.1h-1.1zM126 120.5h1.1v1.1h-1.1zM127 126.5h1.1v1.1h-1.1zM127 113.5h1.1v1.1h-1.1zM128 121.5h1.1v1.1h-1.1zM128 118.5h1.1v1.1h-1.1z"/><path fill="#ffe900" d="M0 115.5h1.1v1.1h-1.1zM2 127.5h1.1v0.6h-1.1zM7 120.5h1.1v1.1h-1.1zM7 116.5h1.1v1.1h-1.1zM11 117.5h1.1v1.1h-1.1zM13 126.5h1.1v1.1h-1.1zM13 123.5h1.1v1.1h-1.1zM13 117.5h1.1v1.1h-1.1zM14 118.5h1.1v1.1h-1.1zM14 116.5h1.1v1.1h-1.1zM15 115.5h1.1v1.1h-1.1zM15 114.5h1.1v1.1h-1.1zM16 118.5h1.1v1.1h-1.1zM17 118.5h1.1v1.1h-1.1zM18 127.5h1.1v0.6h-1.1zM18 119.5h1.1v1.1h-1.1zM18 114.5h1.1v1.1h-1.1zM21 119.5h1.1v1.1h-1.1zM22 122.5h1.1v1.1h-1.1zM22 116.5h1.1v1.1h-1.1zM23 126.5h1.1v1.1h-1.1zM24 125.5h1.1v1.1h-1.1zM24 124.5h1.1v1.1h-1.1zM24 120.5h1.1v1.1h-1.1zM26 126.5h1.1v1.1h-1.1zM27 119.5h1.1v1.1h-1.1zM27 116.5h1.1v1.1h-1.1zM28 123.5h1.1v1.1h-1.1zM30 126.5h1.1v1.1h-1.1zM32 116.5h1.1v1.1h-1.1zM35 127.5h1.1v0.6h-1.1zM35 117.5h1.1v1.1h-1.1zM37 127.5h1.1v0.6h-1.1zM37 115.5h1.1v1.1h-1.1zM39 126.5h1.1v1.1h-1.1zM40 115.5h1.1v1.1h-1.1zM44 122.5h1.1v1.1h-1.1zM44 119.5h1.1v1.1h-1.1zM45 113.5h1.1v1.1h-1.1zM46 115.5h1.1v1.1h-1.1zM48 123.5h1.1v1.1h-1.1zM52 121.5h1.1v1.1h-1.1zM54 112.5h1.1v1.1h-1.1zM56 117.5h1.1v1.1h-1.1zM57 122.5h1.1v1.1h-1.1zM58 118.5h1.1v1.1h-1.1zM59 117.5h1.1v1.1h-1.1zM59 115.5h1.1v1.1h-1.1zM60 125.5h1.1v1.1h-1.1zM60 117.5h1.1v1.1h-1.1zM60 115.5h1.1v1.1h-1.1zM61 126.5h1.1v1.1h-1.1zM61 125.5h1.1v1.1h-1.1zM62 127.5h1.1v0.6h-1.1zM62 115.5h1.1v1.1h-1.1zM63 125.5h1.1v1.1h-1.1zM63 114.5h1.1v1.1h-1.1zM64 118.5h1.1v1.1h-1.1zM67 113.5h1.1v1.1h-1.1zM69 122.5h1.1v1.1h-1.1zM69 121.5h1.1v1.1h-1.1zM69 115.5h1.1v1.1h-1.1zM69 112.5h1.1v1.1h-1.1zM71 124.5h1.1v1.1h-1.1zM71 117.5h1.1v1.1h-1.1zM73 127.5h1.1v0.6h-1.1zM74 122.5h1.1v1.1h-1.1zM77 127.5h1.1v0.6h-1.1zM77 126.5h1.1v1.1h-1.1zM78 118.5h1.1v1.1h-1.1zM79 114.5h1.1v1.1h-1.1zM80 125.5h1.1v1.1h-1.1zM81 126.5h1.1v1.1h-1.1zM83 118.5h1.1v1.1h-1.1zM84 117.5h1.1v1.1h-1.1zM85 118.5h1.1v1.1h-1.1zM86 120.5h1.1v1.1h-1.1zM86 119.5h1.1v1.1h-1.1zM87 123.5h1.1v1.1h-1.1zM87 118.5h1.1v1.1h-1.1zM88 118.5h1.1v1.1h-1.1zM91 121.5h1.1v1.1h-1.1zM91 120.5h1.1v1.1h-1.1zM93 120.5h1.1v1.1h-1.1zM94 123.5h1.1v1.1h-1.1zM95 127.5h1.1v0.6h-1.1zM96 116.5h1.1v1.1h-1.1zM97 127.5h1.1v0.6h-1.1zM97 116.5h1.1v1.1h-1.1zM101 123.5h1.1v1.1h-1.1zM106 120.5h1.1v1.1h-1.1zM106 119.5h1.1v1.1h-1.1zM107 120.5h1.1v1.1h-1.1zM109 118.5h1.1v1.1h-1.1zM110 121.5h1.1v1.1h-1.1zM111 120.5h1.1v1.1h-1.1zM111 113.5h1.1v1.1h-1.1zM113 115.5h1.1v1.1h-1.1zM115 122.5h1.1v1.1h-1.1zM117 119.5h1.1v1.1h-1.1zM117 114.5h1.1v1.1h-1.1zM119 120.5h1.1v1.1h-1.1zM121 121.5h1.1v1.1h-1.1zM123 122.5h1.1v1.1h-1.1zM124 124.5h1.1v1.1h-1.1zM125 125.5h1.1v1.1h-1.1zM126 126.5h1.1v1.1h-1.1zM127 122.5h1.1v1.1h-1.1zM127 121.5h1.1v1.1h-1.1zM127 116.5h1.1v1.1h-1.1zM128 123.5h1.1v1.1h-1.1z"/><path fill="#ffec00" d="M0 114.5h1.1v1.1h-1.1zM1 114.5h1.1v1.1h-1.1zM2 119.5h1.1v1.1h-1.1zM3 121.5h1.1v1.1h-1.1zM3 114.5h1.1v1.1h-1.1zM4 126.5h1.1v1.1h-1.1zM8 126.5h1.1v1.1h-1.1zM8 123.5h1.1v1.1h-1.1zM10 124.5h1.1v1.1h-1.1zM11 116.5h1.1v1.1h-1.1zM12 122.5h1.1v1.1h-1.1zM12 121.5h1.1v1.1h-1.1zM13 125.5h1.1v1.1h-1.1zM19 127.5h1.1v0.6h-1.1zM19 114.5h1.1v1.1h-1.1zM20 123.5h1.1v1.1h-1.1zM21 113.5h1.1v1.1h-1.1zM23 118.5h1.1v1.1h-1.1zM26 125.5h1.1v1.1h-1.1zM28 119.5h1.1v1.1h-1.1zM28 114.5h1.1v1.1h-1.1zM30 120.5h1.1v1.1h-1.1zM32 127.5h1.1v0.6h-1.1zM32 117.5h1.1v1.1h-1.1zM33 125.5h1.1v1.1h-1.1zM36 124.5h1.1v1.1h-1.1zM36 112.5h1.1v1.1h-1.1zM37 124.5h1.1v1.1h-1.1zM38 116.5h1.1v1.1h-1.1zM39 127.5h1.1v0.6h-1.1zM40 127.5h1.1v0.6h-1.1zM40 121.5h1.1v1.1h-1.1zM41 121.5h1.1v1.1h-1.1zM41 114.5h1.1v1.1h-1.1zM43 122.5h1.1v1.1h-1.1zM44 114.5h1.1v1.1h-1.1zM48 115.5h1.1v1.1h-1.1zM49 118.5h1.1v1.1h-1.1zM52 126.5h1.1v1.1h-1.1zM53 121.5h1.1v1.1h-1.1zM54 117.5h1.1v1.1h-1.1zM54 116.5h1.1v1.1h-1.1zM55 123.5h1.1v1.1h-1.1zM56 113.5h1.1v1.1h-1.1zM57 121.5h1.1v1.1h-1.1zM57 113.5h1.1v1.1h-1.1zM58 127.5h1.1v0.6h-1.1zM59 127.5h1.1v0.6h-1.1zM59 119.5h1.1v1.1h-1.1zM60 119.5h1.1v1.1h-1.1zM60 114.5h1.1v1.1h-1.1zM62 123.5h1.1v1.1h-1.1zM62 121.5h1.1v1.1h-1.1zM62 117.5h1.1v1.1h-1.1zM64 116.5h1.1v1.1h-1.1zM65 122.5h1.1v1.1h-1.1zM67 121.5h1.1v1.1h-1.1zM68 126.5h1.1v1.1h-1.1zM68 122.5h1.1v1.1h-1.1zM68 114.5h1.1v1.1h-1.1zM71 120.5h1.1v1.1h-1.1zM77 115.5h1.1v1.1h-1.1zM78 117.5h1.1v1.1h-1.1zM79 116.5h1.1v1.1h-1.1zM82 119.5h1.1v1.1h-1.1zM82 116.5h1.1v1.1h-1.1zM83 115.5h1.1v1.1h-1.1zM85 117.5h1.1v1.1h-1.1zM86 118.5h1.1v1.1h-1.1zM88 123.5h1.1v1.1h-1.1zM90 119.5h1.1v1.1h-1.1zM91 115.5h1.1v1.1h-1.1zM94 121.5h1.1v1.1h-1.1zM96 112.5h1.1v1.1h-1.1zM99 118.5h1.1v1.1h-1.1zM101 115.5h1.1v1.1h-1.1zM102 119.5h1.1v1.1h-1.1zM103 115.5h1.1v1.1h-1.1zM105 116.5h1.1v1.1h-1.1zM105 114.5h1.1v1.1h-1.1zM107 126.5h1.1v1.1h-1.1zM107 123.5h1.1v1.1h-1.1zM108 114.5h1.1v1.1h-1.1zM109 127.5h1.1v0.6h-1.1zM109 122.5h1.1v1.1h-1.1zM110 126.5h1.1v1.1h-1.1zM110 120.5h1.1v1.1h-1.1zM112 123.5h1.1v1.1h-1.1zM116 120.5h1.1v1.1h-1.1zM118 124.5h1.1v1.1h-1.1zM119 116.5h1.1v1.1h-1.1zM125 122.5h1.1v1.1h-1.1zM125 118.5h1.1v1.1h-1.1zM127 119.5h1.1v1.1h-1.1zM128 115.5h1.1v1.1h-1.1z"/><path fill="#ffef00" d="M0 113.5h1.1v1.1h-1.1zM2 116.5h1.1v1.1h-1.1zM3 125.5h1.1v1.1h-1.1zM3 120.5h1.1v1.1h-1.1zM3 115.5h1.1v1.1h-1.1zM6 122.5h1.1v1.1h-1.1zM8 115.5h1.1v1.1h-1.1zM10 116.5h1.1v1.1h-1.1zM17 119.5h1.1v1.1h-1.1zM20 115.5h1.1v1.1h-1.1zM21 115.5h1.1v1.1h-1.1zM25 124.5h1.1v1.1h-1.1zM25 120.5h1.1v1.1h-1.1zM25 113.5h1.1v1.1h-1.1zM26 113.5h1.1v1.1h-1.1zM27 120.5h1.1v1.1h-1.1zM28 120.5h1.1v1.1h-1.1zM33 124.5h1.1v1.1h-1.1zM34 115.5h1.1v1.1h-1.1zM37 116.5h1.1v1.1h-1.1zM40 126.5h1.1v1.1h-1.1zM40 119.5h1.1v1.1h-1.1zM42 124.5h1.1v1.1h-1.1zM43 125.5h1.1v1.1h-1.1zM43 114.5h1.1v1.1h-1.1zM45 126.5h1.1v1.1h-1.1zM45 125.5h1.1v1.1h-1.1zM46 121.5h1.1v1.1h-1.1zM47 121.5h1.1v1.1h-1.1zM52 127.5h1.1v0.6h-1.1zM53 120.5h1.1v1.1h-1.1zM55 124.5h1.1v1.1h-1.1zM55 114.5h1.1v1.1h-1.1zM56 121.5h1.1v1.1h-1.1zM57 116.5h1.1v1.1h-1.1zM58 115.5h1.1v1.1h-1.1zM60 127.5h1.1v0.6h-1.1zM61 115.5h1.1v1.1h-1.1zM62 120.5h1.1v1.1h-1.1zM62 116.5h1.1v1.1h-1.1zM63 122.5h1.1v1.1h-1.1zM63 119.5h1.1v1.1h-1.1zM65 121.5h1.1v1.1h-1.1zM68 123.5h1.1v1.1h-1.1zM69 127.5h1.1v0.6h-1.1zM69 126.5h1.1v1.1h-1.1zM70 120.5h1.1v1.1h-1.1zM71 122.5h1.1v1.1h-1.1zM76 126.5h1.1v1.1h-1.1zM76 124.5h1.1v1.1h-1.1zM77 116.5h1.1v1.1h-1.1zM79 121.5h1.1v1.1h-1.1zM79 120.5h1.1v1.1h-1.1zM83 116.5h1.1v1.1h-1.1zM84 118.5h1.1v1.1h-1.1zM84 114.5h1.1v1.1h-1.1zM86 121.5h1.1v1.1h-1.1zM87 113.5h1.1v1.1h-1.1zM89 119.5h1.1v1.1h-1.1zM94 114.5h1.1v1.1h-1.1zM95 114.5h1.1v1.1h-1.1zM97 123.5h1.1v1.1h-1.1zM98 120.5h1.1v1.1h-1.1zM98 117.5h1.1v1.1h-1.1zM99 123.5h1.1v1.1h-1.1zM101 119.5h1.1v1.1h-1.1zM101 113.5h1.1v1.1h-1.1zM104 120.5h1.1v1.1h-1.1zM105 113.5h1.1v1.1h-1.1zM107 124.5h1.1v1.1h-1.1zM108 124.5h1.1v1.1h-1.1zM109 125.5h1.1v1.1h-1.1zM110 113.5h1.1v1.1h-1.1zM112 121.5h1.1v1.1h-1.1zM114 118.5h1.1v1.1h-1.1zM115 118.5h1.1v1.1h-1.1zM115 117.5h1.1v1.1h-1.1zM117 122.5h1.1v1.1h-1.1zM117 120.5h1.1v1.1h-1.1zM117 118.5h1.1v1.1h-1.1zM118 114.5h1.1v1.1h-1.1zM120 113.5h1.1v1.1h-1.1zM125 123.5h1.1v1.1h-1.1zM127 124.5h1.1v1.1h-1.1zM128 125.5h1.1v1.1h-1.1zM128 120.5h1.1v1.1h-1.1zM128 113.5h1.1v1.1h-1.1z"/><path fill="#fff200" d="M1 125.5h1.1v1.1h-1.1zM1 118.5h1.1v1.1h-1.1zM2 125.5h1.1v1.1h-1.1zM4 116.5h1.1v1.1h-1.1zM11 114.5h1.1v1.1h-1.1zM12 114.5h1.1v1.1h-1.1zM13 115.5h1.1v1.1h-1.1zM13 113.5h1.1v1.1h-1.1zM14 120.5h1.1v1.1h-1.1zM15 124.5h1.1v1.1h-1.1zM18 122.5h1.1v1.1h-1.1zM18 117.5h1.1v1.1h-1.1zM19 126.5h1.1v1.1h-1.1zM21 114.5h1.1v1.1h-1.1zM22 123.5h1.1v1.1h-1.1zM23 120.5h1.1v1.1h-1.1zM23 119.5h1.1v1.1h-1.1zM26 118.5h1.1v1.1h-1.1zM28 116.5h1.1v1.1h-1.1zM29 120.5h1.1v1.1h-1.1zM29 114.5h1.1v1.1h-1.1zM34 113.5h1.1v1.1h-1.1zM36 116.5h1.1v1.1h-1.1zM38 118.5h1.1v1.1h-1.1zM41 119.5h1.1v1.1h-1.1zM41 113.5h1.1v1.1h-1.1zM43 116.5h1.1v1.1h-1.1zM44 127.5h1.1v0.6h-1.1zM44 124.5h1.1v1.1h-1.1zM50 116.5h1.1v1.1h-1.1zM54 113.5h1.1v1.1h-1.1zM55 113.5h1.1v1.1h-1.1zM56 127.5h1.1v0.6h-1.1zM56 114.5h1.1v1.1h-1.1zM57 127.5h1.1v0.6h-1.1zM57 119.5h1.1v1.1h-1.1zM57 115.5h1.1v1.1h-1.1zM58 120.5h1.1v1.1h-1.1zM63 121.5h1.1v1.1h-1.1zM63 120.5h1.1v1.1h-1.1zM64 123.5h1.1v1.1h-1.1zM64 120.5h1.1v1.1h-1.1zM65 120.5h1.1v1.1h-1.1zM66 122.5h1.1v1.1h-1.1zM66 117.5h1.1v1.1h-1.1zM67 127.5h1.1v0.6h-1.1zM68 127.5h1.1v0.6h-1.1zM70 124.5h1.1v1.1h-1.1zM70 122.5h1.1v1.1h-1.1zM74 116.5h1.1v1.1h-1.1zM78 114.5h1.1v1.1h-1.1zM81 127.5h1.1v0.6h-1.1zM82 127.5h1.1v0.6h-1.1zM89 120.5h1.1v1.1h-1.1zM89 115.5h1.1v1.1h-1.1zM91 114.5h1.1v1.1h-1.1zM95 123.5h1.1v1.1h-1.1zM95 115.5h1.1v1.1h-1.1zM96 125.5h1.1v1.1h-1.1zM97 124.5h1.1v1.1h-1.1zM97 117.5h1.1v1.1h-1.1zM98 126.5h1.1v1.1h-1.1zM98 122.5h1.1v1.1h-1.1zM100 127.5h1.1v0.6h-1.1zM101 127.5h1.1v0.6h-1.1zM102 120.5h1.1v1.1h-1.1zM104 115.5h1.1v1.1h-1.1zM105 115.5h1.1v1.1h-1.1zM105 112.5h1.1v1.1h-1.1zM107 127.5h1.1v0.6h-1.1zM116 118.5h1.1v1.1h-1.1zM118 115.5h1.1v1.1h-1.1zM121 124.5h1.1v1.1h-1.1zM122 123.5h1.1v1.1h-1.1zM125 114.5h1.1v1.1h-1.1z"/><path fill="#fef400" d="M1 119.5h1.1v1.1h-1.1zM6 124.5h1.1v1.1h-1.1zM12 126.5h1.1v1.1h-1.1zM14 119.5h1.1v1.1h-1.1zM18 118.5h1.1v1.1h-1.1zM27 122.5h1.1v1.1h-1.1zM29 117.5h1.1v1.1h-1.1zM29 115.5h1.1v1.1h-1.1zM32 123.5h1.1v1.1h-1.1zM40 114.5h1.1v1.1h-1.1zM42 123.5h1.1v1.1h-1.1zM42 116.5h1.1v1.1h-1.1zM42 114.5h1.1v1.1h-1.1zM44 126.5h1.1v1.1h-1.1zM44 125.5h1.1v1.1h-1.1zM55 122.5h1.1v1.1h-1.1zM57 126.5h1.1v1.1h-1.1zM63 115.5h1.1v1.1h-1.1zM65 118.5h1.1v1.1h-1.1zM68 121.5h1.1v1.1h-1.1zM69 124.5h1.1v1.1h-1.1zM69 120.5h1.1v1.1h-1.1zM71 114.5h1.1v1.1h-1.1zM72 122.5h1.1v1.1h-1.1zM73 117.5h1.1v1.1h-1.1zM73 116.5h1.1v1.1h-1.1zM77 117.5h1.1v1.1h-1.1zM78 113.5h1.1v1.1h-1.1zM82 113.5h1.1v1.1h-1.1zM84 116.5h1.1v1.1h-1.1zM84 113.5h1.1v1.1h-1.1zM85 113.5h1.1v1.1h-1.1zM86 113.5h1.1v1.1h-1.1zM87 117.5h1.1v1.1h-1.1zM90 122.5h1.1v1.1h-1.1zM92 118.5h1.1v1.1h-1.1zM92 114.5h1.1v1.1h-1.1zM93 127.5h1.1v0.6h-1.1zM97 122.5h1.1v1.1h-1.1zM98 118.5h1.1v1.1h-1.1zM100 123.5h1.1v1.1h-1.1zM100 115.5h1.1v1.1h-1.1zM107 113.5h1.1v1.1h-1.1zM114 117.5h1.1v1.1h-1.1zM115 116.5h1.1v1.1h-1.1zM116 125.5h1.1v1.1h-1.1zM116 123.5h1.1v1.1h-1.1zM122 122.5h1.1v1.1h-1.1zM123 119.5h1.1v1.1h-1.1zM124 114.5h1.1v1.1h-1.1zM126 122.5h1.1v1.1h-1.1z"/><path fill="#fef700" d="M0 126.5h1.1v1.1h-1.1zM1 127.5h1.1v0.6h-1.1zM1 126.5h1.1v1.1h-1.1zM2 126.5h1.1v1.1h-1.1zM2 121.5h1.1v1.1h-1.1zM2 118.5h1.1v1.1h-1.1zM2 117.5h1.1v1.1h-1.1zM3 126.5h1.1v1.1h-1.1zM3 118.5h1.1v1.1h-1.1zM3 117.5h1.1v1.1h-1.1zM4 117.5h1.1v1.1h-1.1zM5 123.5h1.1v1.1h-1.1zM5 121.5h1.1v1.1h-1.1zM6 121.5h1.1v1.1h-1.1zM7 121.5h1.1v1.1h-1.1zM8 127.5h1.1v0.6h-1.1zM9 127.5h1.1v0.6h-1.1zM9 126.5h1.1v1.1h-1.1zM12 113.5h1.1v1.1h-1.1zM13 114.5h1.1v1.1h-1.1zM14 126.5h1.1v1.1h-1.1zM14 114.5h1.1v1.1h-1.1zM15 113.5h1.1v1.1h-1.1zM16 116.5h1.1v1.1h-1.1zM17 117.5h1.1v1.1h-1.1zM17 115.5h1.1v1.1h-1.1zM17 114.5h1.1v1.1h-1.1zM19 117.5h1.1v1.1h-1.1zM19 116.5h1.1v1.1h-1.1zM20 118.5h1.1v1.1h-1.1zM20 116.5h1.1v1.1h-1.1zM20 114.5h1.1v1.1h-1.1zM21 118.5h1.1v1.1h-1.1zM21 116.5h1.1v1.1h-1.1zM22 125.5h1.1v1.1h-1.1zM22 121.5h1.1v1.1h-1.1zM22 120.5h1.1v1.1h-1.1zM22 118.5h1.1v1.1h-1.1zM23 125.5h1.1v1.1h-1.1zM23 121.5h1.1v1.1h-1.1zM26 122.5h1.1v1.1h-1.1zM26 121.5h1.1v1.1h-1.1zM27 127.5h1.1v0.6h-1.1zM27 125.5h1.1v1.1h-1.1zM27 123.5h1.1v1.1h-1.1zM28 122.5h1.1v1.1h-1.1zM28 115.5h1.1v1.1h-1.1zM29 125.5h1.1v1.1h-1.1zM29 121.5h1.1v1.1h-1.1zM29 113.5h1.1v1.1h-1.1zM31 125.5h1.1v1.1h-1.1zM31 124.5h1.1v1.1h-1.1zM32 125.5h1.1v1.1h-1.1zM32 124.5h1.1v1.1h-1.1zM33 116.5h1.1v1.1h-1.1zM33 115.5h1.1v1.1h-1.1zM34 116.5h1.1v1.1h-1.1zM36 115.5h1.1v1.1h-1.1zM36 113.5h1.1v1.1h-1.1zM37 125.5h1.1v1.1h-1.1zM37 117.5h1.1v1.1h-1.1zM37 114.5h1.1v1.1h-1.1zM37 113.5h1.1v1.1h-1.1zM38 124.5h1.1v1.1h-1.1zM38 114.5h1.1v1.1h-1.1zM39 114.5h1.1v1.1h-1.1zM40 124.5h1.1v1.1h-1.1zM41 122.5h1.1v1.1h-1.1zM41 120.5h1.1v1.1h-1.1zM42 122.5h1.1v1.1h-1.1zM42 119.5h1.1v1.1h-1.1zM43 126.5h1.1v1.1h-1.1zM43 120.5h1.1v1.1h-1.1zM43 119.5h1.1v1.1h-1.1zM46 116.5h1.1v1.1h-1.1zM47 126.5h1.1v1.1h-1.1zM48 126.5h1.1v1.1h-1.1zM48 122.5h1.1v1.1h-1.1zM50 117.5h1.1v1.1h-1.1zM53 118.5h1.1v1.1h-1.1zM54 122.5h1.1v1.1h-1.1zM54 121.5h1.1v1.1h-1.1zM54 120.5h1.1v1.1h-1.1zM55 125.5h1.1v1.1h-1.1zM55 119.5h1.1v1.1h-1.1zM56 116.5h1.1v1.1h-1.1zM57 117.5h1.1v1.1h-1.1zM57 114.5h1.1v1.1h-1.1zM58 116.5h1.1v1.1h-1.1zM59 114.5h1.1v1.1h-1.1zM61 127.5h1.1v0.6h-1.1zM61 121.5h1.1v1.1h-1.1zM61 119.5h1.1v1.1h-1.1zM61 113.5h1.1v1.1h-1.1zM62 119.5h1.1v1.1h-1.1zM64 121.5h1.1v1.1h-1.1zM66 120.5h1.1v1.1h-1.1zM66 119.5h1.1v1.1h-1.1zM67 120.5h1.1v1.1h-1.1zM67 119.5h1.1v1.1h-1.1zM68 120.5h1.1v1.1h-1.1zM69 125.5h1.1v1.1h-1.1zM69 123.5h1.1v1.1h-1.1zM69 114.5h1.1v1.1h-1.1zM70 125.5h1.1v1.1h-1.1zM70 123.5h1.1v1.1h-1.1zM70 115.5h1.1v1.1h-1.1zM71 115.5h1.1v1.1h-1.1zM72 121.5h1.1v1.1h-1.1zM73 126.5h1.1v1.1h-1.1zM73 122.5h1.1v1.1h-1.1zM73 121.5h1.1v1.1h-1.1zM73 120.5h1.1v1.1h-1.1zM74 127.5h1.1v0.6h-1.1zM74 126.5h1.1v1.1h-1.1zM74 118.5h1.1v1.1h-1.1zM75 117.5h1.1v1.1h-1.1zM75 116.5h1.1v1.1h-1.1zM76 117.5h1.1v1.1h-1.1zM76 116.5h1.1v1.1h-1.1zM77 118.5h1.1v1.1h-1.1zM78 121.5h1.1v1.1h-1.1zM81 119.5h1.1v1.1h-1.1zM83 125.5h1.1v1.1h-1.1zM87 119.5h1.1v1.1h-1.1zM88 122.5h1.1v1.1h-1.1zM89 123.5h1.1v1.1h-1.1zM89 122.5h1.1v1.1h-1.1zM89 121.5h1.1v1.1h-1.1zM89 118.5h1.1v1.1h-1.1zM90 115.5h1.1v1.1h-1.1zM91 119.5h1.1v1.1h-1.1zM92 119.5h1.1v1.1h-1.1zM92 116.5h1.1v1.1h-1.1zM92 115.5h1.1v1.1h-1.1zM95 125.5h1.1v1.1h-1.1zM95 124.5h1.1v1.1h-1.1zM96 124.5h1.1v1.1h-1.1zM97 126.5h1.1v1.1h-1.1zM97 118.5h1.1v1.1h-1.1zM98 127.5h1.1v0.6h-1.1zM98 123.5h1.1v1.1h-1.1zM98 119.5h1.1v1.1h-1.1zM99 127.5h1.1v0.6h-1.1zM101 114.5h1.1v1.1h-1.1zM102 114.5h1.1v1.1h-1.1zM102 113.5h1.1v1.1h-1.1zM103 113.5h1.1v1.1h-1.1zM104 113.5h1.1v1.1h-1.1zM105 120.5h1.1v1.1h-1.1zM105 119.5h1.1v1.1h-1.1zM106 127.5h1.1v0.6h-1.1zM106 114.5h1.1v1.1h-1.1zM106 113.5h1.1v1.1h-1.1zM107 116.5h1.1v1.1h-1.1zM107 115.5h1.1v1.1h-1.1zM107 114.5h1.1v1.1h-1.1zM107 112.5h1.1v1.1h-1.1zM108 127.5h1.1v0.6h-1.1zM108 126.5h1.1v1.1h-1.1zM108 125.5h1.1v1.1h-1.1zM109 126.5h1.1v1.1h-1.1zM110 122.5h1.1v1.1h-1.1zM110 119.5h1.1v1.1h-1.1zM112 126.5h1.1v1.1h-1.1zM113 126.5h1.1v1.1h-1.1zM113 122.5h1.1v1.1h-1.1zM113 121.5h1.1v1.1h-1.1zM113 120.5h1.1v1.1h-1.1zM114 121.5h1.1v1.1h-1.1zM115 124.5h1.1v1.1h-1.1zM115 121.5h1.1v1.1h-1.1zM117 121.5h1.1v1.1h-1.1zM117 113.5h1.1v1.1h-1.1zM118 122.5h1.1v1.1h-1.1zM118 121.5h1.1v1.1h-1.1zM118 118.5h1.1v1.1h-1.1zM118 113.5h1.1v1.1h-1.1zM119 122.5h1.1v1.1h-1.1zM119 119.5h1.1v1.1h-1.1zM119 113.5h1.1v1.1h-1.1zM123 114.5h1.1v1.1h-1.1zM124 127.5h1.1v0.6h-1.1zM126 127.5h1.1v0.6h-1.1zM128 122.5h1.1v1.1h-1.1zM128 114.5h1.1v1.1h-1.1z"/></g><rect x="49.00" y="152.60" width="427.00" height="314.70" fill="none" stroke="#262626" stroke-width="0.5" stroke-opacity="0.35"/><path d="M89.50 467.30v-4.8M89.50 152.60v4.3" stroke="#262626" stroke-width="0.75" stroke-opacity="0.75"/><path d="M131.50 467.30v-4.8M131.50 152.60v4.3" stroke="#262626" stroke-width="0.75" stroke-opacity="0.75"/><path d="M173.50 467.30v-4.8M173.50 152.60v4.3" stroke="#262626" stroke-width="0.75" stroke-opacity="0.75"/><path d="M215.50 467.30v-4.8M215.50 152.60v4.3" stroke="#262626" stroke-width="0.75" stroke-opacity="0.75"/><path d="M257.50 467.30v-4.8M257.50 152.60v4.3" stroke="#262626" stroke-width="0.75" stroke-opacity="0.75"/><path d="M299.50 467.30v-4.8M299.50 152.60v4.3" stroke="#262626" stroke-width="0.75" stroke-opacity="0.75"/><path d="M341.50 467.30v-4.8M341.50 152.60v4.3" stroke="#262626" stroke-width="0.75" stroke-opacity="0.75"/><path d="M383.50 467.30v-4.8M383.50 152.60v4.3" stroke="#262626" stroke-width="0.75" stroke-opacity="0.75"/><path d="M425.50 467.30v-4.8M425.50 152.60v4.3" stroke="#262626" stroke-width="0.75" stroke-opacity="0.75"/><path d="M467.50 467.30v-4.8M467.50 152.60v4.3" stroke="#262626" stroke-width="0.75" stroke-opacity="0.75"/><path d="M49.00 467.30h4.3M476.00 467.30h-4.3" stroke="#262626" stroke-width="0.75" stroke-opacity="0.75"/><path d="M49.00 427.96h4.3M476.00 427.96h-4.3" stroke="#262626" stroke-width="0.75" stroke-opacity="0.75"/><path d="M49.00 388.62h4.3M476.00 388.62h-4.3" stroke="#262626" stroke-width="0.75" stroke-opacity="0.75"/><path d="M49.00 349.29h4.3M476.00 349.29h-4.3" stroke="#262626" stroke-width="0.75" stroke-opacity="0.75"/><path d="M49.00 309.95h4.3M476.00 309.95h-4.3" stroke="#262626" stroke-width="0.75" stroke-opacity="0.75"/><path d="M49.00 270.61h4.3M476.00 270.61h-4.3" stroke="#262626" stroke-width="0.75" stroke-opacity="0.75"/><path d="M49.00 231.27h4.3M476.00 231.27h-4.3" stroke="#262626" stroke-width="0.75" stroke-opacity="0.75"/><path d="M49.00 191.94h4.3M476.00 191.94h-4.3" stroke="#262626" stroke-width="0.75" stroke-opacity="0.75"/><path d="M49.00 152.60h4.3M476.00 152.60h-4.3" stroke="#262626" stroke-width="0.75" stroke-opacity="0.75"/><rect x="482.10" y="152.50" width="16.90" height="314.50" fill="url(#cb)"/><rect x="482.10" y="152.50" width="16.90" height="314.50" fill="none" stroke="#262626" stroke-width="0.6" stroke-opacity="0.6"/><path d="M499.00 162.00h-2.5" stroke="#262626" stroke-width="0.5" stroke-opacity="0.7"/><path d="M499.00 214.40h-2.5" stroke="#262626" stroke-width="0.5" stroke-opacity="0.7"/><path d="M499.00 266.80h-2.5" stroke="#262626" stroke-width="0.5" stroke-opacity="0.7"/><path d="M499.00 319.20h-2.5" stroke="#262626" stroke-width="0.5" stroke-opacity="0.7"/><path d="M499.00 371.60h-2.5" stroke="#262626" stroke-width="0.5" stroke-opacity="0.7"/><path d="M499.00 424.00h-2.5" stroke="#262626" stroke-width="0.5" stroke-opacity="0.7"/><text x="88.70" y="481.4" text-anchor="middle" font-size="10" fill="#262626" font-family="Liberation Sans, Arial, sans-serif" stroke="#262626" stroke-width="0.06">0.1</text><text x="130.70" y="481.4" text-anchor="middle" font-size="10" fill="#262626" font-family="Liberation Sans, Arial, sans-serif" stroke="#262626" stroke-width="0.06">0.2</text><text x="172.70" y="481.4" text-anchor="middle" font-size="10" fill="#262626" font-family="Liberation Sans, Arial, sans-serif" stroke="#262626" stroke-width="0.06">0.3</text><text x="214.70" y="481.4" text-anchor="middle" font-size="10" fill="#262626" font-family="Liberation Sans, Arial, sans-serif" stroke="#262626" stroke-width="0.06">0.4</text><text x="256.70" y="481.4" text-anchor="middle" font-size="10" fill="#262626" font-family="Liberation Sans, Arial, sans-serif" stroke="#262626" stroke-width="0.06">0.5</text><text x="298.70" y="481.4" text-anchor="middle" font-size="10" fill="#262626" font-family="Liberation Sans, Arial, sans-serif" stroke="#262626" stroke-width="0.06">0.6</text><text x="340.70" y="481.4" text-anchor="middle" font-size="10" fill="#262626" font-family="Liberation Sans, Arial, sans-serif" stroke="#262626" stroke-width="0.06">0.7</text><text x="382.70" y="481.4" text-anchor="middle" font-size="10" fill="#262626" font-family="Liberation Sans, Arial, sans-serif" stroke="#262626" stroke-width="0.06">0.8</text><text x="424.70" y="481.4" text-anchor="middle" font-size="10" fill="#262626" font-family="Liberation Sans, Arial, sans-serif" stroke="#262626" stroke-width="0.06">0.9</text><text x="466.70" y="481.4" text-anchor="middle" font-size="10" fill="#262626" font-family="Liberation Sans, Arial, sans-serif" stroke="#262626" stroke-width="0.06">1</text><text x="44.6" y="471.60" text-anchor="end" font-size="10" fill="#262626" font-family="Liberation Sans, Arial, sans-serif" stroke="#262626" stroke-width="0.06">0</text><text x="44.6" y="432.26" text-anchor="end" font-size="10" fill="#262626" font-family="Liberation Sans, Arial, sans-serif" stroke="#262626" stroke-width="0.06">1000</text><text x="44.6" y="392.92" text-anchor="end" font-size="10" fill="#262626" font-family="Liberation Sans, Arial, sans-serif" stroke="#262626" stroke-width="0.06">2000</text><text x="44.6" y="353.59" text-anchor="end" font-size="10" fill="#262626" font-family="Liberation Sans, Arial, sans-serif" stroke="#262626" stroke-width="0.06">3000</text><text x="44.6" y="314.25" text-anchor="end" font-size="10" fill="#262626" font-family="Liberation Sans, Arial, sans-serif" stroke="#262626" stroke-width="0.06">4000</text><text x="44.6" y="274.91" text-anchor="end" font-size="10" fill="#262626" font-family="Liberation Sans, Arial, sans-serif" stroke="#262626" stroke-width="0.06">5000</text><text x="44.6" y="235.57" text-anchor="end" font-size="10" fill="#262626" font-family="Liberation Sans, Arial, sans-serif" stroke="#262626" stroke-width="0.06">6000</text><text x="44.6" y="196.24" text-anchor="end" font-size="10" fill="#262626" font-family="Liberation Sans, Arial, sans-serif" stroke="#262626" stroke-width="0.06">7000</text><text x="44.6" y="156.90" text-anchor="end" font-size="10" fill="#262626" font-family="Liberation Sans, Arial, sans-serif" stroke="#262626" stroke-width="0.06">8000</text><text x="262.3" y="495.9" text-anchor="middle" font-size="10.8" fill="#262626" font-family="Liberation Sans, Arial, sans-serif" stroke="#262626" stroke-width="0.06">Time (s)</text><text transform="translate(16.1 309.3) rotate(-90)" text-anchor="middle" font-size="10.7" fill="#262626" font-family="Liberation Sans, Arial, sans-serif" stroke="#262626" stroke-width="0.06">Frequency (Hz)</text><text x="262.3" y="147.7" text-anchor="middle" font-size="11" font-weight="bold" fill="#000" font-family="Liberation Sans, Arial, sans-serif" stroke="#262626" stroke-width="0.06">Denoised Audio Spectrogram</text><text x="502.4" y="165.60" font-size="9" fill="#262626" font-family="Liberation Sans, Arial, sans-serif" stroke="#262626" stroke-width="0.06">20</text><text x="502.4" y="218.00" font-size="9" fill="#262626" font-family="Liberation Sans, Arial, sans-serif" stroke="#262626" stroke-width="0.06">0</text><text x="502.4" y="270.40" font-size="9" fill="#262626" font-family="Liberation Sans, Arial, sans-serif" stroke="#262626" stroke-width="0.06">-20</text><text x="502.4" y="322.80" font-size="9" fill="#262626" font-family="Liberation Sans, Arial, sans-serif" stroke="#262626" stroke-width="0.06">-40</text><text x="502.4" y="375.20" font-size="9" fill="#262626" font-family="Liberation Sans, Arial, sans-serif" stroke="#262626" stroke-width="0.06">-60</text><text x="502.4" y="427.60" font-size="9" fill="#262626" font-family="Liberation Sans, Arial, sans-serif" stroke="#262626" stroke-width="0.06">-80</text></svg>
<div class="lab" style="left:180.8px;top:520.3px">(<b>b</b>)</div>
</body></html>
